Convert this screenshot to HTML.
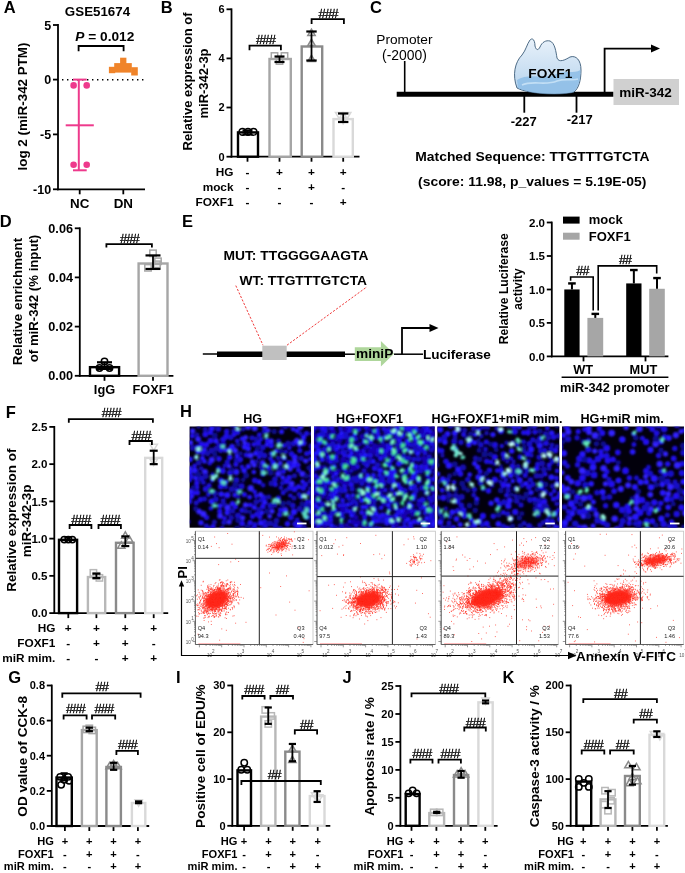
<!DOCTYPE html>
<html><head><meta charset="utf-8"><style>
html,body{margin:0;padding:0;background:#fff;}
svg{display:block;font-family:"Liberation Sans", Arial, sans-serif;font-weight:bold;}
</style></head><body>
<svg width="685" height="873" viewBox="0 0 685 873">
<rect width="685" height="873" fill="#fff"/>
<text x="3.7" y="12.7" font-size="16.5">A</text>
<text x="97.5" y="15.8" font-size="13" text-anchor="middle" textLength="65.3" lengthAdjust="spacingAndGlyphs">GSE51674</text>
<line x1="58" y1="24.1" x2="58" y2="190.2" stroke="#000" stroke-width="1.8" />
<line x1="53" y1="25" x2="58" y2="25" stroke="#000" stroke-width="1.8" />
<text x="51.2" y="29.5" font-size="12.5" text-anchor="end">5</text>
<line x1="53" y1="79.6" x2="58" y2="79.6" stroke="#000" stroke-width="1.8" />
<text x="51.2" y="84.1" font-size="12.5" text-anchor="end">0</text>
<line x1="53" y1="134.4" x2="58" y2="134.4" stroke="#000" stroke-width="1.8" />
<text x="51.2" y="138.9" font-size="12.5" text-anchor="end">-5</text>
<line x1="53" y1="189.3" x2="58" y2="189.3" stroke="#000" stroke-width="1.8" />
<text x="51.2" y="193.8" font-size="12.5" text-anchor="end">-10</text>
<line x1="57.1" y1="189.3" x2="145" y2="189.3" stroke="#000" stroke-width="1.8" />
<line x1="79.7" y1="189.3" x2="79.7" y2="194.3" stroke="#000" stroke-width="1.8" />
<line x1="123.3" y1="189.3" x2="123.3" y2="194.3" stroke="#000" stroke-width="1.8" />
<line x1="62" y1="79.8" x2="145" y2="79.8" stroke="#000" stroke-width="1.4" stroke-dasharray="1.4 3.6"/>
<text x="104.8" y="41.4" font-size="13.7" text-anchor="middle"><tspan font-style="italic">P</tspan> = 0.012</text>
<polyline points="78.6,51.2 78.6,46 123.6,46 123.6,51.2" stroke="#000" stroke-width="1.8" fill="none" />
<line x1="78.8" y1="79.6" x2="78.8" y2="170.3" stroke="#ee3a8c" stroke-width="2" />
<line x1="73" y1="79.6" x2="86.7" y2="79.6" stroke="#ee3a8c" stroke-width="2" />
<line x1="73" y1="170.3" x2="86.7" y2="170.3" stroke="#ee3a8c" stroke-width="2" />
<line x1="65.7" y1="125.3" x2="93.8" y2="125.3" stroke="#ee3a8c" stroke-width="2" />
<circle cx="73.6" cy="85.4" r="3.3" fill="#ee3a8c"/>
<circle cx="86.7" cy="85.4" r="3.3" fill="#ee3a8c"/>
<circle cx="73.6" cy="164.7" r="3.3" fill="#ee3a8c"/>
<circle cx="86.7" cy="164.7" r="3.3" fill="#ee3a8c"/>
<rect x="108.9" y="66.8" width="6.3" height="6.4" fill="#f0842a" />
<rect x="120.1" y="57.7" width="6.3" height="6.5" fill="#f0842a" />
<rect x="114.2" y="63.1" width="17.6" height="9.5" fill="#f0842a" />
<rect x="131.2" y="67.2" width="6.6" height="8.3" fill="#f0842a" />
<text x="79.7" y="208.4" font-size="13.4" text-anchor="middle">NC</text>
<text x="123.3" y="208.4" font-size="13.4" text-anchor="middle">DN</text>
<text transform="translate(27.2,106.5) rotate(-90)" font-size="13.4" text-anchor="middle">log 2 (miR-342 PTM)</text>
<text x="160.8" y="12.8" font-size="16.5">B</text>
<line x1="231.5" y1="8.4" x2="231.5" y2="157.6" stroke="#000" stroke-width="1.8" />
<line x1="226.5" y1="9.3" x2="231.5" y2="9.3" stroke="#000" stroke-width="1.8" />
<text x="224.7" y="13.26" font-size="11" text-anchor="end">6</text>
<line x1="226.5" y1="58.4" x2="231.5" y2="58.4" stroke="#000" stroke-width="1.8" />
<text x="224.7" y="62.36" font-size="11" text-anchor="end">4</text>
<line x1="226.5" y1="107.5" x2="231.5" y2="107.5" stroke="#000" stroke-width="1.8" />
<text x="224.7" y="111.46" font-size="11" text-anchor="end">2</text>
<line x1="226.5" y1="156.7" x2="231.5" y2="156.7" stroke="#000" stroke-width="1.8" />
<text x="224.7" y="160.66" font-size="11" text-anchor="end">0</text>
<line x1="230.6" y1="156.7" x2="359.5" y2="156.7" stroke="#000" stroke-width="1.8" />
<line x1="247.5" y1="156.7" x2="247.5" y2="161.7" stroke="#000" stroke-width="1.8" />
<line x1="279.5" y1="156.7" x2="279.5" y2="161.7" stroke="#000" stroke-width="1.8" />
<line x1="311.5" y1="156.7" x2="311.5" y2="161.7" stroke="#000" stroke-width="1.8" />
<line x1="343.2" y1="156.7" x2="343.2" y2="161.7" stroke="#000" stroke-width="1.8" />
<rect x="238" y="132.4" width="20" height="24.3" fill="#fff" stroke="#000" stroke-width="2.4" />
<rect x="269.5" y="59" width="21.3" height="97.7" fill="#fff" stroke="#a6a6a6" stroke-width="2.4" />
<rect x="301.7" y="46.5" width="20.5" height="110.2" fill="#fff" stroke="#8a8a8a" stroke-width="2.4" />
<rect x="333.5" y="119.1" width="19.3" height="37.6" fill="#fff" stroke="#d9d9d9" stroke-width="2.4" />
<circle cx="242.5" cy="131.8" r="3.4" fill="none" stroke="#000" stroke-width="1.5"/>
<circle cx="248" cy="131.8" r="3.4" fill="none" stroke="#000" stroke-width="1.5"/>
<circle cx="253.5" cy="131.8" r="3.4" fill="none" stroke="#000" stroke-width="1.5"/>
<rect x="271.3" y="52.8" width="6.4" height="6.4" fill="none" stroke="#a6a6a6" stroke-width="1.5" />
<rect x="281.3" y="52.8" width="6.4" height="6.4" fill="none" stroke="#a6a6a6" stroke-width="1.5" />
<rect x="276.3" y="57.8" width="6.4" height="6.4" fill="none" stroke="#a6a6a6" stroke-width="1.5" />
<polygon points="311.5,29.16 307.82,35.56 315.18,35.56" fill="none" stroke="#8a8a8a" stroke-width="1.5"/>
<polygon points="311.5,39.16 307.82,45.56 315.18,45.56" fill="none" stroke="#8a8a8a" stroke-width="1.5"/>
<polygon points="311.5,55.16 307.82,61.56 315.18,61.56" fill="none" stroke="#8a8a8a" stroke-width="1.5"/>
<polygon points="339.2,118.84 335.52,112.44 342.88,112.44" fill="none" stroke="#d9d9d9" stroke-width="1.5"/>
<polygon points="347.2,118.84 343.52,112.44 350.88,112.44" fill="none" stroke="#d9d9d9" stroke-width="1.5"/>
<polygon points="343.2,123.84 339.52,117.44 346.88,117.44" fill="none" stroke="#d9d9d9" stroke-width="1.5"/>
<line x1="279.5" y1="56.5" x2="279.5" y2="62" stroke="#000" stroke-width="1.8" />
<line x1="274.5" y1="56.5" x2="284.5" y2="56.5" stroke="#000" stroke-width="2.2" />
<line x1="274.5" y1="62" x2="284.5" y2="62" stroke="#000" stroke-width="2.2" />
<line x1="311.5" y1="31.5" x2="311.5" y2="60.5" stroke="#000" stroke-width="1.8" />
<line x1="306.3" y1="31.5" x2="316.7" y2="31.5" stroke="#000" stroke-width="2.2" />
<line x1="306.3" y1="60.5" x2="316.7" y2="60.5" stroke="#000" stroke-width="2.2" />
<line x1="343.2" y1="113.5" x2="343.2" y2="122" stroke="#000" stroke-width="1.8" />
<line x1="338" y1="113.5" x2="348.4" y2="113.5" stroke="#000" stroke-width="2.2" />
<line x1="338" y1="122" x2="348.4" y2="122" stroke="#000" stroke-width="2.2" />
<line x1="247.5" y1="130.5" x2="247.5" y2="134.5" stroke="#000" stroke-width="1.8" />
<line x1="242.5" y1="130.5" x2="252.5" y2="130.5" stroke="#000" stroke-width="2.2" />
<line x1="242.5" y1="134.5" x2="252.5" y2="134.5" stroke="#000" stroke-width="2.2" />
<polyline points="249.5,50.2 249.5,45.7 280.9,45.7 280.9,50.2" stroke="#000" stroke-width="1.8" fill="none" />
<text x="265.5" y="44" font-size="13" text-anchor="middle" font-weight="normal" letter-spacing="-0.9" stroke="#000" stroke-width="0.3">###</text>
<polyline points="311.6,23.9 311.6,19.2 343.9,19.2 343.9,23.9" stroke="#000" stroke-width="1.8" fill="none" />
<text x="328.05" y="18.4" font-size="13" text-anchor="middle" font-weight="normal" letter-spacing="-0.9" stroke="#000" stroke-width="0.3">###</text>
<text transform="translate(191.8,81.5) rotate(-90)" font-size="13" text-anchor="middle">Relative expression of</text>
<text transform="translate(208.4,83.5) rotate(-90)" font-size="13" text-anchor="middle">miR-342-3p</text>
<text x="233.5" y="175.8" font-size="11.8" text-anchor="end">HG</text>
<text x="247.5" y="175.8" font-size="11.8" text-anchor="middle">-</text>
<text x="279.5" y="175.8" font-size="11.8" text-anchor="middle">+</text>
<text x="311.5" y="175.8" font-size="11.8" text-anchor="middle">+</text>
<text x="343.2" y="175.8" font-size="11.8" text-anchor="middle">+</text>
<text x="233.5" y="191" font-size="11.8" text-anchor="end">mock</text>
<text x="247.5" y="191" font-size="11.8" text-anchor="middle">-</text>
<text x="279.5" y="191" font-size="11.8" text-anchor="middle">-</text>
<text x="311.5" y="191" font-size="11.8" text-anchor="middle">+</text>
<text x="343.2" y="191" font-size="11.8" text-anchor="middle">-</text>
<text x="233.5" y="206" font-size="11.8" text-anchor="end">FOXF1</text>
<text x="247.5" y="206" font-size="11.8" text-anchor="middle">-</text>
<text x="279.5" y="206" font-size="11.8" text-anchor="middle">-</text>
<text x="311.5" y="206" font-size="11.8" text-anchor="middle">-</text>
<text x="343.2" y="206" font-size="11.8" text-anchor="middle">+</text>
<text x="370" y="12.8" font-size="16.5">C</text>
<text x="404.4" y="43.6" font-size="13.7" text-anchor="middle" font-weight="normal">Promoter</text>
<text x="404.5" y="59.6" font-size="13.9" text-anchor="middle" font-weight="normal">(-2000)</text>
<line x1="404.7" y1="61" x2="404.7" y2="94" stroke="#000" stroke-width="1.6" />
<line x1="396.7" y1="94.3" x2="613.5" y2="94.3" stroke="#000" stroke-width="5" />
<line x1="524.3" y1="94" x2="524.3" y2="112.7" stroke="#000" stroke-width="1.8" />
<line x1="576.5" y1="94" x2="576.5" y2="112.7" stroke="#000" stroke-width="1.8" />
<text x="523.8" y="126.3" font-size="13" text-anchor="middle">-227</text>
<text x="579.7" y="123.6" font-size="13" text-anchor="middle">-217</text>
<polyline points="604.6,94 604.6,48.6 652,48.6" stroke="#000" stroke-width="1.8" fill="none" />
<polygon points="660,48.6 651,44.6 651,52.6" fill="#000"/>
<rect x="613.5" y="79" width="65.5" height="26" fill="#d0d0d0" />
<text x="645.5" y="97" font-size="13.5" text-anchor="middle" textLength="52.6" lengthAdjust="spacingAndGlyphs">miR-342</text>
<defs><linearGradient id="bg" x1="0" y1="0" x2="0" y2="1"><stop offset="0" stop-color="#e8f1fa"/><stop offset="1" stop-color="#b4d2ec"/></linearGradient></defs>
<path d="M517,88 C512,75 515,62 522,55 C526,50 527,44 530,40 C533,37 535,41 535,46 C536,50 538,51 540,47 C542,42 546,40 550,41 C555,43 556,52 557,58 C559,63 565,60 570,57 C576,55 581,60 581,70 C581,80 579,88 574,92 C565,95 530,95 517,88 Z" fill="url(#bg)" stroke="#3b5b78" stroke-width="0.9"/>
<path d="M517,80 C528,72 545,80 556,74 C566,70 573,74 580.5,70 C580.5,82 577,90 572,92.5 C555,95 530,94 518,88 Z" fill="#8dbde6" opacity="0.85"/>
<path d="M522,85 C532,80 546,86 557,81 C566,78 572,81 578,79" fill="none" stroke="#c8e2f6" stroke-width="1.6" opacity="0.9"/>
<text x="550.3" y="77.6" font-size="13.3" text-anchor="middle" textLength="44" lengthAdjust="spacingAndGlyphs">FOXF1</text>
<text x="532.4" y="161" font-size="12.8" text-anchor="middle" textLength="234.3" lengthAdjust="spacingAndGlyphs">Matched Sequence: TTGTTTGTCTA</text>
<text x="532.2" y="185.7" font-size="12.8" text-anchor="middle" textLength="228.3" lengthAdjust="spacingAndGlyphs">(score: 11.98, p_values = 5.19E-05)</text>
<text x="-0.3" y="226.7" font-size="16.5">D</text>
<line x1="79.8" y1="227.4" x2="79.8" y2="376.7" stroke="#000" stroke-width="1.8" />
<line x1="74.8" y1="228.3" x2="79.8" y2="228.3" stroke="#000" stroke-width="1.8" />
<text x="73" y="232.87" font-size="12.7" text-anchor="end">0.06</text>
<line x1="74.8" y1="277.4" x2="79.8" y2="277.4" stroke="#000" stroke-width="1.8" />
<text x="73" y="281.97" font-size="12.7" text-anchor="end">0.04</text>
<line x1="74.8" y1="326.6" x2="79.8" y2="326.6" stroke="#000" stroke-width="1.8" />
<text x="73" y="331.17" font-size="12.7" text-anchor="end">0.02</text>
<line x1="74.8" y1="375.8" x2="79.8" y2="375.8" stroke="#000" stroke-width="1.8" />
<text x="73" y="380.37" font-size="12.7" text-anchor="end">0.00</text>
<line x1="78.9" y1="375.8" x2="173.4" y2="375.8" stroke="#000" stroke-width="1.8" />
<line x1="104.5" y1="375.8" x2="104.5" y2="380.8" stroke="#000" stroke-width="1.8" />
<line x1="153" y1="375.8" x2="153" y2="380.8" stroke="#000" stroke-width="1.8" />
<rect x="90" y="367.17" width="29.1" height="8.63" fill="#fff" stroke="#000" stroke-width="2.4" />
<rect x="138.6" y="263.5" width="28.9" height="112.3" fill="#fff" stroke="#a6a6a6" stroke-width="2.4" />
<circle cx="99.5" cy="367.97" r="3.2" fill="none" stroke="#000" stroke-width="1.5"/>
<circle cx="109.5" cy="367.97" r="3.2" fill="none" stroke="#000" stroke-width="1.5"/>
<circle cx="104.5" cy="361.55" r="3.2" fill="none" stroke="#000" stroke-width="1.5"/>
<line x1="104.5" y1="362.29" x2="104.5" y2="368.92" stroke="#000" stroke-width="1.8" />
<line x1="97" y1="362.29" x2="112" y2="362.29" stroke="#000" stroke-width="2.2" />
<line x1="97" y1="368.92" x2="112" y2="368.92" stroke="#000" stroke-width="2.2" />
<rect x="149.8" y="250.1" width="6.4" height="6.4" fill="none" stroke="#a6a6a6" stroke-width="1.5" />
<rect x="154.8" y="258.1" width="6.4" height="6.4" fill="none" stroke="#a6a6a6" stroke-width="1.5" />
<rect x="144.8" y="264.6" width="6.4" height="6.4" fill="none" stroke="#a6a6a6" stroke-width="1.5" />
<rect x="153.8" y="261.1" width="6.4" height="6.4" fill="none" stroke="#a6a6a6" stroke-width="1.5" />
<line x1="153" y1="255.42" x2="153" y2="268.94" stroke="#000" stroke-width="1.8" />
<line x1="145.5" y1="255.42" x2="160.5" y2="255.42" stroke="#000" stroke-width="2.2" />
<line x1="145.5" y1="268.94" x2="160.5" y2="268.94" stroke="#000" stroke-width="2.2" />
<polyline points="106.4,247.6 106.4,244.1 151.9,244.1 151.9,247.6" stroke="#000" stroke-width="1.8" fill="none" />
<text x="129.45" y="242.6" font-size="13" text-anchor="middle" font-weight="normal" letter-spacing="-0.9" stroke="#000" stroke-width="0.3">###</text>
<text transform="translate(21.6,301.5) rotate(-90)" font-size="13.4" text-anchor="middle">Relative enrichment</text>
<text transform="translate(37.6,298.5) rotate(-90)" font-size="13.2" text-anchor="middle">of miR-342 (% input)</text>
<text x="104.5" y="394.4" font-size="12.8" text-anchor="middle">IgG</text>
<text x="153" y="394.4" font-size="12.8" text-anchor="middle">FOXF1</text>
<text x="182" y="226.9" font-size="16.5">E</text>
<text x="223.4" y="260.1" font-size="13.5" textLength="145" lengthAdjust="spacingAndGlyphs">MUT: TTGGGGAAGTA</text>
<text x="239.5" y="284.9" font-size="13.5" textLength="127.5" lengthAdjust="spacingAndGlyphs">WT: TTGTTTGTCTA</text>
<line x1="202.8" y1="354" x2="217.2" y2="354" stroke="#000" stroke-width="1.5" />
<line x1="217" y1="354.2" x2="345" y2="354.2" stroke="#000" stroke-width="5.5" />
<rect x="262.3" y="345.7" width="24.4" height="14.3" fill="#c0c0c0" />
<line x1="235.8" y1="285.6" x2="263" y2="345.2" stroke="#f03a3a" stroke-width="1" stroke-dasharray="2.2 1.6"/>
<line x1="287" y1="345.2" x2="367" y2="286.8" stroke="#f03a3a" stroke-width="1" stroke-dasharray="2.2 1.6"/>
<line x1="345" y1="354.2" x2="355" y2="354.2" stroke="#000" stroke-width="1.5" />
<polygon points="354.8,347.2 380.9,347.2 380.9,341 394,353.8 380.9,366.6 380.9,360.9 354.8,360.9" fill="#aed69b"/>
<text x="356" y="357.8" font-size="13.5" textLength="37.3" lengthAdjust="spacingAndGlyphs">miniP</text>
<line x1="394" y1="354.2" x2="423" y2="354.2" stroke="#000" stroke-width="1.5" />
<polyline points="402,354.2 402,328 430,328" stroke="#000" stroke-width="1.8" fill="none" />
<polygon points="438.5,328 429.5,324 429.5,332" fill="#000"/>
<text x="423" y="358.9" font-size="13.3" textLength="67.8" lengthAdjust="spacingAndGlyphs">Luciferase</text>
<line x1="551.8" y1="221.6" x2="551.8" y2="357.3" stroke="#000" stroke-width="1.8" />
<line x1="546.8" y1="222.5" x2="551.8" y2="222.5" stroke="#000" stroke-width="1.8" />
<text x="545" y="226.64" font-size="11.5" text-anchor="end">2.0</text>
<line x1="546.8" y1="256" x2="551.8" y2="256" stroke="#000" stroke-width="1.8" />
<text x="545" y="260.14" font-size="11.5" text-anchor="end">1.5</text>
<line x1="546.8" y1="289.5" x2="551.8" y2="289.5" stroke="#000" stroke-width="1.8" />
<text x="545" y="293.64" font-size="11.5" text-anchor="end">1.0</text>
<line x1="546.8" y1="322.9" x2="551.8" y2="322.9" stroke="#000" stroke-width="1.8" />
<text x="545" y="327.04" font-size="11.5" text-anchor="end">0.5</text>
<line x1="546.8" y1="356.4" x2="551.8" y2="356.4" stroke="#000" stroke-width="1.8" />
<text x="545" y="360.54" font-size="11.5" text-anchor="end">0.0</text>
<line x1="550.9" y1="356.4" x2="668.4" y2="356.4" stroke="#000" stroke-width="1.8" />
<line x1="583.5" y1="356.4" x2="583.5" y2="361.4" stroke="#000" stroke-width="1.8" />
<line x1="645.5" y1="356.4" x2="645.5" y2="361.4" stroke="#000" stroke-width="1.8" />
<rect x="563" y="216.6" width="16.6" height="7" fill="#000" />
<text x="588.8" y="224.4" font-size="13">mock</text>
<rect x="563" y="232.7" width="16.6" height="7" fill="#a6a6a6" />
<text x="588.8" y="240.5" font-size="13">FOXF1</text>
<rect x="564.3" y="289.45" width="15.3" height="66.95" fill="#000" />
<line x1="571.95" y1="289.45" x2="571.95" y2="283.42" stroke="#000" stroke-width="2" />
<line x1="568.15" y1="283.42" x2="575.75" y2="283.42" stroke="#000" stroke-width="2.4" />
<rect x="587.4" y="317.9" width="15.8" height="38.5" fill="#a6a6a6" />
<line x1="595.3" y1="317.9" x2="595.3" y2="313.89" stroke="#000" stroke-width="2" />
<line x1="591.5" y1="313.89" x2="599.1" y2="313.89" stroke="#000" stroke-width="2.4" />
<rect x="626.2" y="283.42" width="15.3" height="72.98" fill="#000" />
<line x1="633.85" y1="283.42" x2="633.85" y2="270.03" stroke="#000" stroke-width="2" />
<line x1="630.05" y1="270.03" x2="637.65" y2="270.03" stroke="#000" stroke-width="2.4" />
<rect x="649.2" y="288.78" width="15.6" height="67.62" fill="#a6a6a6" />
<line x1="657" y1="288.78" x2="657" y2="278.07" stroke="#000" stroke-width="2" />
<line x1="653.2" y1="278.07" x2="660.8" y2="278.07" stroke="#000" stroke-width="2.4" />
<polyline points="570.6,280.8 570.6,277 593.2,277 593.2,310.5" stroke="#000" stroke-width="1.6" fill="none" />
<text x="582.4" y="274.8" font-size="12.5" text-anchor="middle" font-weight="normal" letter-spacing="-0.9" stroke="#000" stroke-width="0.3">##</text>
<polyline points="598.2,310.5 598.2,265.9 656.7,265.9 656.7,273.5" stroke="#000" stroke-width="1.6" fill="none" />
<text x="625" y="264" font-size="12.5" text-anchor="middle" font-weight="normal" letter-spacing="-0.9" stroke="#000" stroke-width="0.3">##</text>
<text x="583.2" y="374.2" font-size="12.8" text-anchor="middle">WT</text>
<text x="643.4" y="374.2" font-size="12.8" text-anchor="middle">MUT</text>
<line x1="561.6" y1="377.3" x2="668.4" y2="377.3" stroke="#000" stroke-width="1.6" />
<text x="614.8" y="392" font-size="12.8" text-anchor="middle">miR-342 promoter</text>
<text transform="translate(507.5,288.7) rotate(-90)" font-size="12.2" text-anchor="middle">Relative Luciferase</text>
<text transform="translate(522.3,289) rotate(-90)" font-size="12" text-anchor="middle">activity</text>
<text x="5.7" y="417.8" font-size="16.5">F</text>
<line x1="54.3" y1="426" x2="54.3" y2="614" stroke="#000" stroke-width="1.8" />
<line x1="49.3" y1="426.9" x2="54.3" y2="426.9" stroke="#000" stroke-width="1.8" />
<text x="47.5" y="431.08" font-size="11.6" text-anchor="end">2.5</text>
<line x1="49.3" y1="464.14" x2="54.3" y2="464.14" stroke="#000" stroke-width="1.8" />
<text x="47.5" y="468.32" font-size="11.6" text-anchor="end">2.0</text>
<line x1="49.3" y1="501.38" x2="54.3" y2="501.38" stroke="#000" stroke-width="1.8" />
<text x="47.5" y="505.56" font-size="11.6" text-anchor="end">1.5</text>
<line x1="49.3" y1="538.62" x2="54.3" y2="538.62" stroke="#000" stroke-width="1.8" />
<text x="47.5" y="542.8" font-size="11.6" text-anchor="end">1.0</text>
<line x1="49.3" y1="575.86" x2="54.3" y2="575.86" stroke="#000" stroke-width="1.8" />
<text x="47.5" y="580.04" font-size="11.6" text-anchor="end">0.5</text>
<line x1="49.3" y1="613.1" x2="54.3" y2="613.1" stroke="#000" stroke-width="1.8" />
<text x="47.5" y="617.28" font-size="11.6" text-anchor="end">0.0</text>
<line x1="53.4" y1="613.1" x2="168.2" y2="613.1" stroke="#000" stroke-width="1.8" />
<line x1="68.3" y1="613.1" x2="68.3" y2="618.1" stroke="#000" stroke-width="1.8" />
<line x1="96.4" y1="613.1" x2="96.4" y2="618.1" stroke="#000" stroke-width="1.8" />
<line x1="125.3" y1="613.1" x2="125.3" y2="618.1" stroke="#000" stroke-width="1.8" />
<line x1="153.7" y1="613.1" x2="153.7" y2="618.1" stroke="#000" stroke-width="1.8" />
<rect x="59" y="539.82" width="18.1" height="73.28" fill="#fff" stroke="#000" stroke-width="2.4" />
<rect x="87.9" y="577.06" width="17.3" height="36.04" fill="#fff" stroke="#b8b8b8" stroke-width="2.4" />
<rect x="116" y="542.8" width="17.6" height="70.3" fill="#fff" stroke="#8a8a8a" stroke-width="2.4" />
<rect x="145.2" y="457.89" width="17" height="155.21" fill="#fff" stroke="#d9d9d9" stroke-width="2.4" />
<circle cx="64.3" cy="539.62" r="3.2" fill="none" stroke="#000" stroke-width="1.5"/>
<circle cx="68.3" cy="539.62" r="3.2" fill="none" stroke="#000" stroke-width="1.5"/>
<circle cx="72.3" cy="539.62" r="3.2" fill="none" stroke="#000" stroke-width="1.5"/>
<rect x="90.2" y="569.66" width="6.4" height="6.4" fill="none" stroke="#b8b8b8" stroke-width="1.5" />
<rect x="96.2" y="574.66" width="6.4" height="6.4" fill="none" stroke="#b8b8b8" stroke-width="1.5" />
<rect x="93.2" y="572.66" width="6.4" height="6.4" fill="none" stroke="#b8b8b8" stroke-width="1.5" />
<polygon points="121.3,541.76 117.62,548.16 124.98,548.16" fill="none" stroke="#8a8a8a" stroke-width="1.5"/>
<polygon points="129.3,535.76 125.62,542.16 132.98,542.16" fill="none" stroke="#8a8a8a" stroke-width="1.5"/>
<polygon points="125.3,531.76 121.62,538.16 128.98,538.16" fill="none" stroke="#8a8a8a" stroke-width="1.5"/>
<polygon points="153.7,450.53 150.02,444.13 157.38,444.13" fill="none" stroke="#d9d9d9" stroke-width="1.5"/>
<polygon points="153.7,465.53 150.02,459.13 157.38,459.13" fill="none" stroke="#d9d9d9" stroke-width="1.5"/>
<line x1="96.4" y1="573.63" x2="96.4" y2="578.09" stroke="#000" stroke-width="1.8" />
<line x1="92.4" y1="573.63" x2="100.4" y2="573.63" stroke="#000" stroke-width="2.2" />
<line x1="92.4" y1="578.09" x2="100.4" y2="578.09" stroke="#000" stroke-width="2.2" />
<line x1="125.3" y1="536.39" x2="125.3" y2="546.07" stroke="#000" stroke-width="1.8" />
<line x1="121.3" y1="536.39" x2="129.3" y2="536.39" stroke="#000" stroke-width="2.2" />
<line x1="121.3" y1="546.07" x2="129.3" y2="546.07" stroke="#000" stroke-width="2.2" />
<line x1="153.7" y1="450.73" x2="153.7" y2="464.14" stroke="#000" stroke-width="1.8" />
<line x1="149.7" y1="450.73" x2="157.7" y2="450.73" stroke="#000" stroke-width="2.2" />
<line x1="149.7" y1="464.14" x2="157.7" y2="464.14" stroke="#000" stroke-width="2.2" />
<line x1="68.3" y1="537.13" x2="68.3" y2="540.11" stroke="#000" stroke-width="1.8" />
<line x1="64.3" y1="537.13" x2="72.3" y2="537.13" stroke="#000" stroke-width="2.2" />
<line x1="64.3" y1="540.11" x2="72.3" y2="540.11" stroke="#000" stroke-width="2.2" />
<polyline points="68.8,422.8 68.8,419.2 152.9,419.2 152.9,422.8" stroke="#000" stroke-width="1.8" fill="none" />
<text x="111.15" y="416.7" font-size="13" text-anchor="middle" font-weight="normal" letter-spacing="-0.9" stroke="#000" stroke-width="0.3">###</text>
<polyline points="129.5,445 129.5,441 151.9,441 151.9,445" stroke="#000" stroke-width="1.8" fill="none" />
<text x="141" y="440" font-size="13" text-anchor="middle" font-weight="normal" letter-spacing="-0.9" stroke="#000" stroke-width="0.3">###</text>
<polyline points="69.6,529 69.6,525 91.4,525 91.4,529" stroke="#000" stroke-width="1.8" fill="none" />
<text x="80.8" y="524" font-size="13" text-anchor="middle" font-weight="normal" letter-spacing="-0.9" stroke="#000" stroke-width="0.3">###</text>
<polyline points="98.5,529 98.5,525 120.9,525 120.9,529" stroke="#000" stroke-width="1.8" fill="none" />
<text x="110" y="524" font-size="13" text-anchor="middle" font-weight="normal" letter-spacing="-0.9" stroke="#000" stroke-width="0.3">###</text>
<text transform="translate(16,520.1) rotate(-90)" font-size="13.5" text-anchor="middle">Relative expression of</text>
<text transform="translate(31.1,520.8) rotate(-90)" font-size="13.5" text-anchor="middle">miR-342-3p</text>
<text x="55.4" y="631.5" font-size="11.8" text-anchor="end">HG</text>
<text x="68.3" y="631.5" font-size="11.8" text-anchor="middle">+</text>
<text x="96.4" y="631.5" font-size="11.8" text-anchor="middle">+</text>
<text x="125.3" y="631.5" font-size="11.8" text-anchor="middle">+</text>
<text x="153.7" y="631.5" font-size="11.8" text-anchor="middle">+</text>
<text x="55.4" y="647" font-size="11.8" text-anchor="end">FOXF1</text>
<text x="68.3" y="647" font-size="11.8" text-anchor="middle">-</text>
<text x="96.4" y="647" font-size="11.8" text-anchor="middle">+</text>
<text x="125.3" y="647" font-size="11.8" text-anchor="middle">+</text>
<text x="153.7" y="647" font-size="11.8" text-anchor="middle">-</text>
<text x="55.4" y="662.3" font-size="11.8" text-anchor="end">miR mim.</text>
<text x="68.3" y="662.3" font-size="11.8" text-anchor="middle">-</text>
<text x="96.4" y="662.3" font-size="11.8" text-anchor="middle">-</text>
<text x="125.3" y="662.3" font-size="11.8" text-anchor="middle">+</text>
<text x="153.7" y="662.3" font-size="11.8" text-anchor="middle">+</text>
<text x="8.3" y="682.8" font-size="16.5">G</text>
<line x1="51.8" y1="684.6" x2="51.8" y2="826.9" stroke="#000" stroke-width="1.8" />
<line x1="46.8" y1="685.5" x2="51.8" y2="685.5" stroke="#000" stroke-width="1.8" />
<text x="45" y="689.46" font-size="11" text-anchor="end">0.8</text>
<line x1="46.8" y1="720.6" x2="51.8" y2="720.6" stroke="#000" stroke-width="1.8" />
<text x="45" y="724.56" font-size="11" text-anchor="end">0.6</text>
<line x1="46.8" y1="755.7" x2="51.8" y2="755.7" stroke="#000" stroke-width="1.8" />
<text x="45" y="759.66" font-size="11" text-anchor="end">0.4</text>
<line x1="46.8" y1="790.9" x2="51.8" y2="790.9" stroke="#000" stroke-width="1.8" />
<text x="45" y="794.86" font-size="11" text-anchor="end">0.2</text>
<line x1="46.8" y1="826" x2="51.8" y2="826" stroke="#000" stroke-width="1.8" />
<text x="45" y="829.96" font-size="11" text-anchor="end">0.0</text>
<line x1="50.9" y1="826" x2="149.2" y2="826" stroke="#000" stroke-width="1.8" />
<line x1="64.9" y1="826" x2="64.9" y2="831" stroke="#000" stroke-width="1.8" />
<line x1="89.3" y1="826" x2="89.3" y2="831" stroke="#000" stroke-width="1.8" />
<line x1="113.5" y1="826" x2="113.5" y2="831" stroke="#000" stroke-width="1.8" />
<line x1="137.9" y1="826" x2="137.9" y2="831" stroke="#000" stroke-width="1.8" />
<rect x="56.5" y="777.53" width="15.3" height="48.47" fill="#fff" stroke="#000" stroke-width="2.4" />
<circle cx="60.15" cy="776.83" r="3.2" fill="none" stroke="#000" stroke-width="1.5"/>
<circle cx="68.15" cy="776.83" r="3.2" fill="none" stroke="#000" stroke-width="1.5"/>
<circle cx="64.15" cy="779.83" r="3.2" fill="none" stroke="#000" stroke-width="1.5"/>
<circle cx="61.15" cy="784.83" r="3.2" fill="none" stroke="#000" stroke-width="1.5"/>
<circle cx="69.15" cy="780.83" r="3.2" fill="none" stroke="#000" stroke-width="1.5"/>
<line x1="64.15" y1="773.31" x2="64.15" y2="780.34" stroke="#000" stroke-width="1.8" />
<line x1="60.55" y1="773.31" x2="67.75" y2="773.31" stroke="#000" stroke-width="2.2" />
<line x1="60.55" y1="780.34" x2="67.75" y2="780.34" stroke="#000" stroke-width="2.2" />
<rect x="81.9" y="730.11" width="14.8" height="95.89" fill="#fff" stroke="#a6a6a6" stroke-width="2.4" />
<rect x="83.1" y="726.21" width="6.4" height="6.4" fill="none" stroke="#a6a6a6" stroke-width="1.5" />
<rect x="89.1" y="727.21" width="6.4" height="6.4" fill="none" stroke="#a6a6a6" stroke-width="1.5" />
<rect x="86.1" y="725.21" width="6.4" height="6.4" fill="none" stroke="#a6a6a6" stroke-width="1.5" />
<line x1="89.3" y1="727.65" x2="89.3" y2="731.16" stroke="#000" stroke-width="1.8" />
<line x1="85.7" y1="727.65" x2="92.9" y2="727.65" stroke="#000" stroke-width="2.2" />
<line x1="85.7" y1="731.16" x2="92.9" y2="731.16" stroke="#000" stroke-width="2.2" />
<rect x="106.4" y="766.99" width="14.5" height="59.01" fill="#fff" stroke="#8a8a8a" stroke-width="2.4" />
<polygon points="109.65,762.45 105.97,768.85 113.33,768.85" fill="none" stroke="#8a8a8a" stroke-width="1.5"/>
<polygon points="117.65,762.45 113.97,768.85 121.33,768.85" fill="none" stroke="#8a8a8a" stroke-width="1.5"/>
<polygon points="113.65,760.45 109.97,766.85 117.33,766.85" fill="none" stroke="#8a8a8a" stroke-width="1.5"/>
<line x1="113.65" y1="762.77" x2="113.65" y2="769.8" stroke="#000" stroke-width="1.8" />
<line x1="110.05" y1="762.77" x2="117.25" y2="762.77" stroke="#000" stroke-width="2.2" />
<line x1="110.05" y1="769.8" x2="117.25" y2="769.8" stroke="#000" stroke-width="2.2" />
<rect x="131.9" y="802.99" width="13.4" height="23.01" fill="#fff" stroke="#d9d9d9" stroke-width="2.4" />
<polygon points="138.6,806.13 134.92,799.73 142.28,799.73" fill="none" stroke="#d9d9d9" stroke-width="1.5"/>
<line x1="138.6" y1="801.41" x2="138.6" y2="803.17" stroke="#000" stroke-width="1.8" />
<line x1="135" y1="801.41" x2="142.2" y2="801.41" stroke="#000" stroke-width="2.2" />
<line x1="135" y1="803.17" x2="142.2" y2="803.17" stroke="#000" stroke-width="2.2" />
<polyline points="62.3,697.8 62.3,693.4 140.6,693.4 140.6,697.8" stroke="#000" stroke-width="1.8" fill="none" />
<text x="101.75" y="691" font-size="13" text-anchor="middle" font-weight="normal" letter-spacing="-0.9" stroke="#000" stroke-width="0.3">##</text>
<polyline points="63.6,719.6 63.6,715.3 86.6,715.3 86.6,719.6" stroke="#000" stroke-width="1.8" fill="none" />
<text x="75.4" y="713.3" font-size="13" text-anchor="middle" font-weight="normal" letter-spacing="-0.9" stroke="#000" stroke-width="0.3">###</text>
<polyline points="92,719.6 92,715.3 115.2,715.3 115.2,719.6" stroke="#000" stroke-width="1.8" fill="none" />
<text x="103.9" y="713.3" font-size="13" text-anchor="middle" font-weight="normal" letter-spacing="-0.9" stroke="#000" stroke-width="0.3">###</text>
<polyline points="116.4,755.1 116.4,750.9 137.9,750.9 137.9,755.1" stroke="#000" stroke-width="1.8" fill="none" />
<text x="127.45" y="749.4" font-size="13" text-anchor="middle" font-weight="normal" letter-spacing="-0.9" stroke="#000" stroke-width="0.3">###</text>
<text transform="translate(26.7,756.25) rotate(-90)" font-size="13.6" text-anchor="middle">OD value of CCK-8</text>
<text x="53.8" y="844.5" font-size="11.1" text-anchor="end">HG</text>
<text x="64.9" y="844.5" font-size="11.1" text-anchor="middle">+</text>
<text x="89.3" y="844.5" font-size="11.1" text-anchor="middle">+</text>
<text x="113.5" y="844.5" font-size="11.1" text-anchor="middle">+</text>
<text x="137.9" y="844.5" font-size="11.1" text-anchor="middle">+</text>
<text x="53.8" y="857.6" font-size="11.1" text-anchor="end">FOXF1</text>
<text x="64.9" y="857.6" font-size="11.1" text-anchor="middle">-</text>
<text x="89.3" y="857.6" font-size="11.1" text-anchor="middle">+</text>
<text x="113.5" y="857.6" font-size="11.1" text-anchor="middle">+</text>
<text x="137.9" y="857.6" font-size="11.1" text-anchor="middle">-</text>
<text x="53.8" y="870.3" font-size="11.1" text-anchor="end">miR mim.</text>
<text x="64.9" y="870.3" font-size="11.1" text-anchor="middle">-</text>
<text x="89.3" y="870.3" font-size="11.1" text-anchor="middle">-</text>
<text x="113.5" y="870.3" font-size="11.1" text-anchor="middle">+</text>
<text x="137.9" y="870.3" font-size="11.1" text-anchor="middle">+</text>
<text x="176" y="682.8" font-size="16.5">I</text>
<line x1="232.3" y1="684.6" x2="232.3" y2="826.7" stroke="#000" stroke-width="1.8" />
<line x1="227.3" y1="685.5" x2="232.3" y2="685.5" stroke="#000" stroke-width="1.8" />
<text x="225.5" y="689.46" font-size="11" text-anchor="end">30</text>
<line x1="227.3" y1="732.3" x2="232.3" y2="732.3" stroke="#000" stroke-width="1.8" />
<text x="225.5" y="736.26" font-size="11" text-anchor="end">20</text>
<line x1="227.3" y1="779.1" x2="232.3" y2="779.1" stroke="#000" stroke-width="1.8" />
<text x="225.5" y="783.06" font-size="11" text-anchor="end">10</text>
<line x1="227.3" y1="825.8" x2="232.3" y2="825.8" stroke="#000" stroke-width="1.8" />
<text x="225.5" y="829.76" font-size="11" text-anchor="end">0</text>
<line x1="231.4" y1="825.8" x2="330.3" y2="825.8" stroke="#000" stroke-width="1.8" />
<line x1="244.1" y1="825.8" x2="244.1" y2="830.8" stroke="#000" stroke-width="1.8" />
<line x1="268.5" y1="825.8" x2="268.5" y2="830.8" stroke="#000" stroke-width="1.8" />
<line x1="292.7" y1="825.8" x2="292.7" y2="830.8" stroke="#000" stroke-width="1.8" />
<line x1="317.7" y1="825.8" x2="317.7" y2="830.8" stroke="#000" stroke-width="1.8" />
<rect x="237.5" y="770.38" width="13.5" height="55.42" fill="#fff" stroke="#000" stroke-width="2.4" />
<circle cx="241.25" cy="769.68" r="3.2" fill="none" stroke="#000" stroke-width="1.5"/>
<circle cx="247.25" cy="769.68" r="3.2" fill="none" stroke="#000" stroke-width="1.5"/>
<circle cx="244.25" cy="762.68" r="3.2" fill="none" stroke="#000" stroke-width="1.5"/>
<rect x="261.1" y="716.6" width="14.3" height="109.2" fill="#fff" stroke="#b8b8b8" stroke-width="2.4" />
<rect x="262.05" y="706.7" width="6.4" height="6.4" fill="none" stroke="#b8b8b8" stroke-width="1.5" />
<rect x="268.05" y="712.7" width="6.4" height="6.4" fill="none" stroke="#b8b8b8" stroke-width="1.5" />
<rect x="265.05" y="720.7" width="6.4" height="6.4" fill="none" stroke="#b8b8b8" stroke-width="1.5" />
<line x1="268.25" y1="707.48" x2="268.25" y2="723.85" stroke="#000" stroke-width="1.8" />
<line x1="264.65" y1="707.48" x2="271.85" y2="707.48" stroke="#000" stroke-width="2.2" />
<line x1="264.65" y1="723.85" x2="271.85" y2="723.85" stroke="#000" stroke-width="2.2" />
<rect x="285.3" y="751.67" width="14.2" height="74.13" fill="#fff" stroke="#8a8a8a" stroke-width="2.4" />
<polygon points="292.4,745.13 288.72,751.53 296.08,751.53" fill="none" stroke="#8a8a8a" stroke-width="1.5"/>
<polygon points="292.4,756.13 288.72,762.53 296.08,762.53" fill="none" stroke="#8a8a8a" stroke-width="1.5"/>
<line x1="292.4" y1="743.96" x2="292.4" y2="761.26" stroke="#000" stroke-width="1.8" />
<line x1="288.8" y1="743.96" x2="296" y2="743.96" stroke="#000" stroke-width="2.2" />
<line x1="288.8" y1="761.26" x2="296" y2="761.26" stroke="#000" stroke-width="2.2" />
<rect x="309.8" y="796.1" width="14.7" height="29.7" fill="#fff" stroke="#d9d9d9" stroke-width="2.4" />
<polygon points="315.15,799.24 311.47,792.84 318.83,792.84" fill="none" stroke="#d9d9d9" stroke-width="1.5"/>
<polygon points="319.15,801.24 315.47,794.84 322.83,794.84" fill="none" stroke="#d9d9d9" stroke-width="1.5"/>
<line x1="317.15" y1="791.19" x2="317.15" y2="801.95" stroke="#000" stroke-width="1.8" />
<line x1="313.55" y1="791.19" x2="320.75" y2="791.19" stroke="#000" stroke-width="2.2" />
<line x1="313.55" y1="801.95" x2="320.75" y2="801.95" stroke="#000" stroke-width="2.2" />
<polyline points="242.3,699.5 242.3,696 264.6,696 264.6,699.5" stroke="#000" stroke-width="1.8" fill="none" />
<text x="253.75" y="694.4" font-size="13" text-anchor="middle" font-weight="normal" letter-spacing="-0.9" stroke="#000" stroke-width="0.3">###</text>
<polyline points="270.4,699.5 270.4,696 293,696 293,699.5" stroke="#000" stroke-width="1.8" fill="none" />
<text x="282" y="694.4" font-size="13" text-anchor="middle" font-weight="normal" letter-spacing="-0.9" stroke="#000" stroke-width="0.3">##</text>
<polyline points="294.8,734.6 294.8,730.2 317.1,730.2 317.1,734.6" stroke="#000" stroke-width="1.8" fill="none" />
<text x="306.25" y="728.6" font-size="13" text-anchor="middle" font-weight="normal" letter-spacing="-0.9" stroke="#000" stroke-width="0.3">##</text>
<polyline points="241.4,784.9 241.4,781 320.8,781 320.8,784.9" stroke="#000" stroke-width="1.8" fill="none" />
<text x="274.2" y="778.8" font-size="13" text-anchor="middle" font-weight="normal" letter-spacing="-0.9" stroke="#000" stroke-width="0.3">##</text>
<text transform="translate(204.9,756.15) rotate(-90)" font-size="13.6" text-anchor="middle">Positive cell of EDU/%</text>
<text x="237.5" y="844.5" font-size="11.1" text-anchor="end">HG</text>
<text x="244.1" y="844.5" font-size="11.1" text-anchor="middle">+</text>
<text x="268.5" y="844.5" font-size="11.1" text-anchor="middle">+</text>
<text x="292.7" y="844.5" font-size="11.1" text-anchor="middle">+</text>
<text x="317.7" y="844.5" font-size="11.1" text-anchor="middle">+</text>
<text x="237.5" y="857.6" font-size="11.1" text-anchor="end">FOXF1</text>
<text x="244.1" y="857.6" font-size="11.1" text-anchor="middle">-</text>
<text x="268.5" y="857.6" font-size="11.1" text-anchor="middle">+</text>
<text x="292.7" y="857.6" font-size="11.1" text-anchor="middle">+</text>
<text x="317.7" y="857.6" font-size="11.1" text-anchor="middle">-</text>
<text x="237.5" y="870.3" font-size="11.1" text-anchor="end">miR mim.</text>
<text x="244.1" y="870.3" font-size="11.1" text-anchor="middle">-</text>
<text x="268.5" y="870.3" font-size="11.1" text-anchor="middle">-</text>
<text x="292.7" y="870.3" font-size="11.1" text-anchor="middle">+</text>
<text x="317.7" y="870.3" font-size="11.1" text-anchor="middle">+</text>
<text x="342.5" y="682.8" font-size="16.5">J</text>
<line x1="400.4" y1="685.1" x2="400.4" y2="826.7" stroke="#000" stroke-width="1.8" />
<line x1="395.4" y1="686" x2="400.4" y2="686" stroke="#000" stroke-width="1.8" />
<text x="393.6" y="689.96" font-size="11" text-anchor="end">25</text>
<line x1="395.4" y1="714" x2="400.4" y2="714" stroke="#000" stroke-width="1.8" />
<text x="393.6" y="717.96" font-size="11" text-anchor="end">20</text>
<line x1="395.4" y1="741.9" x2="400.4" y2="741.9" stroke="#000" stroke-width="1.8" />
<text x="393.6" y="745.86" font-size="11" text-anchor="end">15</text>
<line x1="395.4" y1="769.9" x2="400.4" y2="769.9" stroke="#000" stroke-width="1.8" />
<text x="393.6" y="773.86" font-size="11" text-anchor="end">10</text>
<line x1="395.4" y1="797.8" x2="400.4" y2="797.8" stroke="#000" stroke-width="1.8" />
<text x="393.6" y="801.76" font-size="11" text-anchor="end">5</text>
<line x1="395.4" y1="825.8" x2="400.4" y2="825.8" stroke="#000" stroke-width="1.8" />
<text x="393.6" y="829.76" font-size="11" text-anchor="end">0</text>
<line x1="399.5" y1="825.8" x2="497.6" y2="825.8" stroke="#000" stroke-width="1.8" />
<line x1="411.5" y1="825.8" x2="411.5" y2="830.8" stroke="#000" stroke-width="1.8" />
<line x1="436.4" y1="825.8" x2="436.4" y2="830.8" stroke="#000" stroke-width="1.8" />
<line x1="460.9" y1="825.8" x2="460.9" y2="830.8" stroke="#000" stroke-width="1.8" />
<line x1="485.3" y1="825.8" x2="485.3" y2="830.8" stroke="#000" stroke-width="1.8" />
<rect x="405.7" y="794.07" width="13.9" height="31.73" fill="#fff" stroke="#000" stroke-width="2.4" />
<circle cx="408.65" cy="793.37" r="3.2" fill="none" stroke="#000" stroke-width="1.5"/>
<circle cx="416.65" cy="793.37" r="3.2" fill="none" stroke="#000" stroke-width="1.5"/>
<circle cx="412.65" cy="790.37" r="3.2" fill="none" stroke="#000" stroke-width="1.5"/>
<rect x="429.3" y="813.08" width="14.8" height="12.72" fill="#fff" stroke="#b8b8b8" stroke-width="2.4" />
<rect x="430.5" y="809.18" width="6.4" height="6.4" fill="none" stroke="#b8b8b8" stroke-width="1.5" />
<rect x="436.5" y="809.18" width="6.4" height="6.4" fill="none" stroke="#b8b8b8" stroke-width="1.5" />
<line x1="436.7" y1="811.82" x2="436.7" y2="812.94" stroke="#000" stroke-width="1.8" />
<line x1="433.1" y1="811.82" x2="440.3" y2="811.82" stroke="#000" stroke-width="2.2" />
<line x1="433.1" y1="812.94" x2="440.3" y2="812.94" stroke="#000" stroke-width="2.2" />
<rect x="454" y="775.05" width="14.2" height="50.75" fill="#fff" stroke="#8a8a8a" stroke-width="2.4" />
<polygon points="457.1,770.51 453.42,776.91 460.78,776.91" fill="none" stroke="#8a8a8a" stroke-width="1.5"/>
<polygon points="465.1,770.51 461.42,776.91 468.78,776.91" fill="none" stroke="#8a8a8a" stroke-width="1.5"/>
<polygon points="461.1,767.51 457.42,773.91 464.78,773.91" fill="none" stroke="#8a8a8a" stroke-width="1.5"/>
<line x1="461.1" y1="771" x2="461.1" y2="777.71" stroke="#000" stroke-width="1.8" />
<line x1="457.5" y1="771" x2="464.7" y2="771" stroke="#000" stroke-width="2.2" />
<line x1="457.5" y1="777.71" x2="464.7" y2="777.71" stroke="#000" stroke-width="2.2" />
<rect x="478.4" y="702.36" width="14.3" height="123.44" fill="#fff" stroke="#d9d9d9" stroke-width="2.4" />
<polygon points="485.55,704.5 481.87,698.1 489.23,698.1" fill="none" stroke="#d9d9d9" stroke-width="1.5"/>
<line x1="485.55" y1="700.54" x2="485.55" y2="703.34" stroke="#000" stroke-width="1.8" />
<line x1="481.95" y1="700.54" x2="489.15" y2="700.54" stroke="#000" stroke-width="2.2" />
<line x1="481.95" y1="703.34" x2="489.15" y2="703.34" stroke="#000" stroke-width="2.2" />
<polyline points="411.5,697.3 411.5,693.4 485.3,693.4 485.3,697.3" stroke="#000" stroke-width="1.8" fill="none" />
<text x="448.7" y="692.6" font-size="13" text-anchor="middle" font-weight="normal" letter-spacing="-0.9" stroke="#000" stroke-width="0.3">###</text>
<polyline points="464.3,731.5 464.3,727.5 485.8,727.5 485.8,731.5" stroke="#000" stroke-width="1.8" fill="none" />
<text x="475.35" y="726.6" font-size="13" text-anchor="middle" font-weight="normal" letter-spacing="-0.9" stroke="#000" stroke-width="0.3">###</text>
<polyline points="410.4,763.6 410.4,759.6 432.5,759.6 432.5,763.6" stroke="#000" stroke-width="1.8" fill="none" />
<text x="421.75" y="758.1" font-size="13" text-anchor="middle" font-weight="normal" letter-spacing="-0.9" stroke="#000" stroke-width="0.3">###</text>
<polyline points="438.5,763.6 438.5,759.6 460.9,759.6 460.9,763.6" stroke="#000" stroke-width="1.8" fill="none" />
<text x="450" y="758.1" font-size="13" text-anchor="middle" font-weight="normal" letter-spacing="-0.9" stroke="#000" stroke-width="0.3">###</text>
<text transform="translate(374,756.4) rotate(-90)" font-size="13.6" text-anchor="middle">Apoptosis rate / %</text>
<text x="403.5" y="844.5" font-size="11.1" text-anchor="end">HG</text>
<text x="411.5" y="844.5" font-size="11.1" text-anchor="middle">+</text>
<text x="436.4" y="844.5" font-size="11.1" text-anchor="middle">+</text>
<text x="460.9" y="844.5" font-size="11.1" text-anchor="middle">+</text>
<text x="485.3" y="844.5" font-size="11.1" text-anchor="middle">+</text>
<text x="403.5" y="857.6" font-size="11.1" text-anchor="end">FOXF1</text>
<text x="411.5" y="857.6" font-size="11.1" text-anchor="middle">-</text>
<text x="436.4" y="857.6" font-size="11.1" text-anchor="middle">+</text>
<text x="460.9" y="857.6" font-size="11.1" text-anchor="middle">+</text>
<text x="485.3" y="857.6" font-size="11.1" text-anchor="middle">-</text>
<text x="403.5" y="870.3" font-size="11.1" text-anchor="end">miR mim.</text>
<text x="411.5" y="870.3" font-size="11.1" text-anchor="middle">-</text>
<text x="436.4" y="870.3" font-size="11.1" text-anchor="middle">-</text>
<text x="460.9" y="870.3" font-size="11.1" text-anchor="middle">+</text>
<text x="485.3" y="870.3" font-size="11.1" text-anchor="middle">+</text>
<text x="502.6" y="682.8" font-size="16.5">K</text>
<line x1="570.7" y1="684.6" x2="570.7" y2="826.7" stroke="#000" stroke-width="1.8" />
<line x1="565.7" y1="685.5" x2="570.7" y2="685.5" stroke="#000" stroke-width="1.8" />
<text x="563.9" y="689.46" font-size="11" text-anchor="end">200</text>
<line x1="565.7" y1="732.3" x2="570.7" y2="732.3" stroke="#000" stroke-width="1.8" />
<text x="563.9" y="736.26" font-size="11" text-anchor="end">150</text>
<line x1="565.7" y1="779.1" x2="570.7" y2="779.1" stroke="#000" stroke-width="1.8" />
<text x="563.9" y="783.06" font-size="11" text-anchor="end">100</text>
<line x1="565.7" y1="825.8" x2="570.7" y2="825.8" stroke="#000" stroke-width="1.8" />
<text x="563.9" y="829.76" font-size="11" text-anchor="end">50</text>
<line x1="569.8" y1="825.8" x2="667.9" y2="825.8" stroke="#000" stroke-width="1.8" />
<line x1="583.3" y1="825.8" x2="583.3" y2="830.8" stroke="#000" stroke-width="1.8" />
<line x1="608" y1="825.8" x2="608" y2="830.8" stroke="#000" stroke-width="1.8" />
<line x1="632.4" y1="825.8" x2="632.4" y2="830.8" stroke="#000" stroke-width="1.8" />
<line x1="656.9" y1="825.8" x2="656.9" y2="830.8" stroke="#000" stroke-width="1.8" />
<rect x="576.4" y="781.6" width="14.8" height="44.2" fill="#fff" stroke="#000" stroke-width="2.4" />
<circle cx="578.8" cy="778.9" r="3.2" fill="none" stroke="#000" stroke-width="1.5"/>
<circle cx="588.8" cy="778.9" r="3.2" fill="none" stroke="#000" stroke-width="1.5"/>
<circle cx="578.8" cy="786.9" r="3.2" fill="none" stroke="#000" stroke-width="1.5"/>
<circle cx="588.8" cy="786.9" r="3.2" fill="none" stroke="#000" stroke-width="1.5"/>
<circle cx="583.8" cy="782.9" r="3.2" fill="none" stroke="#000" stroke-width="1.5"/>
<rect x="600.6" y="799.38" width="14.8" height="26.42" fill="#fff" stroke="#b8b8b8" stroke-width="2.4" />
<rect x="601.8" y="787.48" width="6.4" height="6.4" fill="none" stroke="#b8b8b8" stroke-width="1.5" />
<rect x="608.8" y="789.48" width="6.4" height="6.4" fill="none" stroke="#b8b8b8" stroke-width="1.5" />
<rect x="600.8" y="801.48" width="6.4" height="6.4" fill="none" stroke="#b8b8b8" stroke-width="1.5" />
<rect x="607.8" y="797.48" width="6.4" height="6.4" fill="none" stroke="#b8b8b8" stroke-width="1.5" />
<rect x="604.8" y="807.48" width="6.4" height="6.4" fill="none" stroke="#b8b8b8" stroke-width="1.5" />
<line x1="608" y1="791.19" x2="608" y2="808.03" stroke="#000" stroke-width="1.8" />
<line x1="604.4" y1="791.19" x2="611.6" y2="791.19" stroke="#000" stroke-width="2.2" />
<line x1="604.4" y1="808.03" x2="611.6" y2="808.03" stroke="#000" stroke-width="2.2" />
<rect x="625" y="775.99" width="14.8" height="49.81" fill="#fff" stroke="#8a8a8a" stroke-width="2.4" />
<polygon points="628.4,761.45 624.72,767.85 632.08,767.85" fill="none" stroke="#8a8a8a" stroke-width="1.5"/>
<polygon points="636.4,763.45 632.72,769.85 640.08,769.85" fill="none" stroke="#8a8a8a" stroke-width="1.5"/>
<polygon points="632.4,773.45 628.72,779.85 636.08,779.85" fill="none" stroke="#8a8a8a" stroke-width="1.5"/>
<polygon points="629.4,779.45 625.72,785.85 633.08,785.85" fill="none" stroke="#8a8a8a" stroke-width="1.5"/>
<polygon points="637.4,777.45 633.72,783.85 641.08,783.85" fill="none" stroke="#8a8a8a" stroke-width="1.5"/>
<line x1="632.4" y1="765.94" x2="632.4" y2="784.65" stroke="#000" stroke-width="1.8" />
<line x1="628.8" y1="765.94" x2="636" y2="765.94" stroke="#000" stroke-width="2.2" />
<line x1="628.8" y1="784.65" x2="636" y2="784.65" stroke="#000" stroke-width="2.2" />
<rect x="649.5" y="734.84" width="14.7" height="90.96" fill="#fff" stroke="#d9d9d9" stroke-width="2.4" />
<polygon points="653.85,737.98 650.17,731.58 657.53,731.58" fill="none" stroke="#d9d9d9" stroke-width="1.5"/>
<polygon points="659.85,739.98 656.17,733.58 663.53,733.58" fill="none" stroke="#d9d9d9" stroke-width="1.5"/>
<line x1="656.85" y1="731.33" x2="656.85" y2="736.94" stroke="#000" stroke-width="1.8" />
<line x1="653.25" y1="731.33" x2="660.45" y2="731.33" stroke="#000" stroke-width="2.2" />
<line x1="653.25" y1="736.94" x2="660.45" y2="736.94" stroke="#000" stroke-width="2.2" />
<polyline points="583.3,703 583.3,699.2 656.9,699.2 656.9,703" stroke="#000" stroke-width="1.8" fill="none" />
<text x="620.4" y="697.7" font-size="13" text-anchor="middle" font-weight="normal" letter-spacing="-0.9" stroke="#000" stroke-width="0.3">##</text>
<polyline points="633.7,723.6 633.7,719.7 656.9,719.7 656.9,723.6" stroke="#000" stroke-width="1.8" fill="none" />
<text x="645.6" y="718.2" font-size="13" text-anchor="middle" font-weight="normal" letter-spacing="-0.9" stroke="#000" stroke-width="0.3">##</text>
<polyline points="581.7,754.4 581.7,750.4 604.3,750.4 604.3,754.4" stroke="#000" stroke-width="1.8" fill="none" />
<text x="593.3" y="749" font-size="13" text-anchor="middle" font-weight="normal" letter-spacing="-0.9" stroke="#000" stroke-width="0.3">###</text>
<polyline points="610.1,754.4 610.1,750.4 633.7,750.4 633.7,754.4" stroke="#000" stroke-width="1.8" fill="none" />
<text x="622.2" y="749" font-size="13" text-anchor="middle" font-weight="normal" letter-spacing="-0.9" stroke="#000" stroke-width="0.3">##</text>
<text transform="translate(538.5,756.15) rotate(-90)" font-size="13.6" text-anchor="middle">Caspase-3 activity / %</text>
<text x="574" y="844.5" font-size="11.1" text-anchor="end">HG</text>
<text x="583.3" y="844.5" font-size="11.1" text-anchor="middle">+</text>
<text x="608" y="844.5" font-size="11.1" text-anchor="middle">+</text>
<text x="632.4" y="844.5" font-size="11.1" text-anchor="middle">+</text>
<text x="656.9" y="844.5" font-size="11.1" text-anchor="middle">+</text>
<text x="574" y="857.6" font-size="11.1" text-anchor="end">FOXF1</text>
<text x="583.3" y="857.6" font-size="11.1" text-anchor="middle">-</text>
<text x="608" y="857.6" font-size="11.1" text-anchor="middle">+</text>
<text x="632.4" y="857.6" font-size="11.1" text-anchor="middle">+</text>
<text x="656.9" y="857.6" font-size="11.1" text-anchor="middle">-</text>
<text x="574" y="870.3" font-size="11.1" text-anchor="end">miR mim.</text>
<text x="583.3" y="870.3" font-size="11.1" text-anchor="middle">-</text>
<text x="608" y="870.3" font-size="11.1" text-anchor="middle">-</text>
<text x="632.4" y="870.3" font-size="11.1" text-anchor="middle">+</text>
<text x="656.9" y="870.3" font-size="11.1" text-anchor="middle">+</text>
<text x="179.9" y="416.7" font-size="16.5">H</text>
<text x="252.7" y="422.6" font-size="12.6" text-anchor="middle">HG</text>
<text x="369.5" y="422.6" font-size="12.6" text-anchor="middle">HG+FOXF1</text>
<text x="497" y="422.6" font-size="12.6" text-anchor="middle" textLength="130.8" lengthAdjust="spacingAndGlyphs">HG+FOXF1+miR mim.</text>
<text x="622.1" y="422.6" font-size="12.6" text-anchor="middle" textLength="83.2" lengthAdjust="spacingAndGlyphs">HG+miR mim.</text>
<defs><filter id="bl" x="-5%" y="-5%" width="110%" height="110%"><feGaussianBlur stdDeviation="0.95"/></filter><filter id="rb" x="-50%" y="-50%" width="200%" height="200%"><feGaussianBlur stdDeviation="1.6"/></filter><clipPath id="cp0"><rect x="189.6" y="426.5" width="121.4" height="101.2"/></clipPath><clipPath id="cp1"><rect x="314" y="426.5" width="120.7" height="101.2"/></clipPath><clipPath id="cp2"><rect x="437.4" y="426.5" width="121.9" height="101.2"/></clipPath><clipPath id="cp3"><rect x="562" y="426.5" width="122" height="101.2"/></clipPath></defs>
<rect x="189.6" y="426.5" width="121.4" height="101.2" fill="#02000c" />
<g clip-path="url(#cp0)"><g filter="url(#bl)">
<g fill="#2818ff"><circle cx="198" cy="451.2" r="2.8"/><circle cx="293.8" cy="465.2" r="3.1"/><circle cx="229.8" cy="457.2" r="2.7"/><circle cx="211.5" cy="501.5" r="2.9"/><circle cx="220" cy="505.8" r="2.6"/><circle cx="306.7" cy="517.3" r="2.7"/><circle cx="281.5" cy="431.8" r="2.5"/><circle cx="235.1" cy="425.8" r="2.4"/><circle cx="204.5" cy="461.4" r="2.3"/><circle cx="227.1" cy="512.8" r="2.7"/><circle cx="236.3" cy="471.9" r="3.1"/><circle cx="303.5" cy="437.5" r="2.7"/><circle cx="255.9" cy="453.2" r="2.7"/><circle cx="302.6" cy="481.7" r="2.4"/><circle cx="299.3" cy="445" r="2.5"/><circle cx="204.4" cy="449.7" r="2.5"/><circle cx="282.7" cy="477.4" r="2.5"/><circle cx="232.1" cy="446.6" r="2.9"/><circle cx="264.8" cy="502.2" r="2.7"/><circle cx="233.9" cy="434.7" r="2.4"/><circle cx="225.9" cy="481.9" r="2.5"/><circle cx="222" cy="528.7" r="2.5"/><circle cx="221" cy="480.7" r="3"/><circle cx="211.8" cy="428.3" r="2.9"/><circle cx="216" cy="441" r="2.7"/><circle cx="189.9" cy="459.3" r="2.9"/><circle cx="301.1" cy="497.1" r="2.4"/><circle cx="266.9" cy="444.6" r="2.3"/><circle cx="271.2" cy="453.6" r="2.4"/><circle cx="236.9" cy="455.9" r="2.4"/><circle cx="294.6" cy="457" r="3.1"/><circle cx="234.9" cy="494.9" r="2.5"/><circle cx="201" cy="522.7" r="2.7"/><circle cx="232.6" cy="503.8" r="2.8"/><circle cx="188.9" cy="501.3" r="3.1"/><circle cx="253.8" cy="472" r="2.3"/><circle cx="191.5" cy="496.2" r="2.7"/><circle cx="221.2" cy="494.1" r="2.8"/><circle cx="227.2" cy="495.1" r="3.2"/><circle cx="248.3" cy="448.7" r="2.7"/><circle cx="202.4" cy="458.2" r="2.4"/><circle cx="275.8" cy="466.3" r="2.9"/><circle cx="208.7" cy="529.3" r="2.6"/><circle cx="297" cy="431" r="2.4"/><circle cx="195.8" cy="478.1" r="2.5"/><circle cx="260.9" cy="522.9" r="3"/><circle cx="244.6" cy="446.9" r="2.8"/><circle cx="284.1" cy="458" r="2.7"/><circle cx="254.4" cy="507.5" r="2.5"/><circle cx="244.1" cy="470.5" r="2.8"/><circle cx="248.3" cy="466.4" r="2.6"/><circle cx="189.5" cy="472.2" r="2.6"/><circle cx="261.6" cy="512.8" r="2.5"/><circle cx="293.1" cy="429.1" r="2.4"/><circle cx="195" cy="470.8" r="3"/><circle cx="293.9" cy="512" r="3.2"/><circle cx="259.2" cy="481.8" r="2.6"/><circle cx="249.7" cy="497.2" r="2.4"/><circle cx="242.2" cy="438.7" r="2.4"/></g>
<g fill="#2010f0"><circle cx="189.5" cy="480.1" r="2.5"/><circle cx="262.8" cy="506.4" r="2.8"/><circle cx="210.5" cy="440.7" r="3"/><circle cx="219.8" cy="511.2" r="2.6"/><circle cx="294.5" cy="489.1" r="3.1"/><circle cx="271.1" cy="445.4" r="3"/><circle cx="298" cy="464.9" r="2.6"/><circle cx="259.2" cy="457" r="2.3"/><circle cx="254.7" cy="491.8" r="2.4"/><circle cx="287.5" cy="523.8" r="2.9"/><circle cx="242.1" cy="523.5" r="2.9"/><circle cx="248" cy="444.4" r="2.5"/><circle cx="210.4" cy="432.6" r="2.7"/><circle cx="197.2" cy="487.4" r="2.3"/><circle cx="273.1" cy="462.8" r="3"/><circle cx="278.5" cy="498" r="2.6"/><circle cx="280.6" cy="528.8" r="2.5"/><circle cx="226.3" cy="436.6" r="3"/><circle cx="192.2" cy="435.9" r="2.5"/><circle cx="205.3" cy="434.4" r="2.9"/><circle cx="250.1" cy="522.8" r="2.7"/><circle cx="298.5" cy="486.6" r="2.6"/><circle cx="213" cy="526.6" r="2.7"/><circle cx="220.8" cy="486.4" r="3"/><circle cx="303.5" cy="443.1" r="3.1"/><circle cx="235.4" cy="506.7" r="2.6"/><circle cx="194.5" cy="465.9" r="2.3"/><circle cx="206.4" cy="444.7" r="2.9"/><circle cx="218.9" cy="458.7" r="2.8"/><circle cx="312.3" cy="471.1" r="3"/><circle cx="256.1" cy="496.1" r="2.4"/><circle cx="244.4" cy="494.5" r="2.6"/><circle cx="201.5" cy="444.2" r="3"/><circle cx="196.8" cy="482.9" r="2.7"/><circle cx="197.4" cy="492.7" r="2.7"/><circle cx="289.1" cy="477.5" r="2.8"/><circle cx="275.2" cy="484.3" r="2.6"/><circle cx="286.7" cy="481.3" r="3"/><circle cx="202.7" cy="453.2" r="2.4"/><circle cx="222.7" cy="471.1" r="3"/><circle cx="253.8" cy="444.4" r="2.4"/><circle cx="250.3" cy="505.1" r="2.5"/><circle cx="259.9" cy="517.1" r="2.5"/><circle cx="311.4" cy="452.1" r="2.9"/><circle cx="283.4" cy="471.3" r="2.6"/><circle cx="252.4" cy="516.5" r="2.5"/><circle cx="270.6" cy="458.6" r="2.4"/><circle cx="224.6" cy="518.2" r="2.3"/><circle cx="236.7" cy="489.7" r="2.3"/><circle cx="312.6" cy="433.8" r="2.3"/><circle cx="193.4" cy="492.7" r="2.6"/><circle cx="268.6" cy="467.7" r="2.8"/><circle cx="267.4" cy="440.4" r="2.6"/><circle cx="235.9" cy="464.3" r="2.6"/></g>
<g fill="#1c0ce0"><circle cx="237.4" cy="432.2" r="3"/><circle cx="196.9" cy="446.5" r="2.3"/><circle cx="209.7" cy="463.3" r="2.4"/><circle cx="260.9" cy="439.3" r="2.3"/><circle cx="264.7" cy="521.3" r="2.3"/><circle cx="205.6" cy="488.9" r="3"/><circle cx="306.7" cy="453.6" r="2.7"/><circle cx="291.5" cy="453.8" r="2.9"/><circle cx="306.6" cy="433.5" r="2.8"/><circle cx="242" cy="510.3" r="2.7"/><circle cx="280.5" cy="509.8" r="2.6"/><circle cx="303.2" cy="488.1" r="3"/><circle cx="305.4" cy="484.4" r="2.8"/><circle cx="210.8" cy="508.4" r="2.4"/><circle cx="283.1" cy="492.7" r="2.5"/><circle cx="307.1" cy="501.7" r="2.4"/><circle cx="289.2" cy="463.3" r="3.2"/><circle cx="263.3" cy="497.6" r="3"/><circle cx="223.1" cy="439.5" r="3"/><circle cx="299.8" cy="450.6" r="2.6"/><circle cx="258.2" cy="443.1" r="3.1"/><circle cx="289.4" cy="447.8" r="2.4"/><circle cx="230" cy="472.8" r="3"/><circle cx="262.8" cy="474.1" r="2.7"/><circle cx="256.6" cy="514.3" r="2.7"/><circle cx="200.5" cy="499.6" r="2.8"/><circle cx="240" cy="459.6" r="3.1"/><circle cx="290.1" cy="487.8" r="3"/><circle cx="286.4" cy="466.9" r="2.4"/><circle cx="255" cy="524.5" r="2.5"/><circle cx="208.5" cy="494.5" r="2.4"/><circle cx="290.9" cy="517.5" r="3"/><circle cx="237.3" cy="441" r="2.4"/><circle cx="297.6" cy="528.6" r="3.1"/><circle cx="206.6" cy="517.5" r="2.8"/><circle cx="295.1" cy="523.9" r="2.9"/><circle cx="220.8" cy="450.3" r="2.7"/><circle cx="226.7" cy="431.5" r="2.8"/><circle cx="209.1" cy="485.6" r="2.6"/><circle cx="312.4" cy="497.3" r="2.6"/><circle cx="284.1" cy="445.6" r="2.5"/><circle cx="298.5" cy="470.1" r="2.6"/><circle cx="254.8" cy="480.6" r="3"/><circle cx="290.3" cy="495.5" r="2.3"/><circle cx="259.4" cy="434.7" r="2.5"/><circle cx="310.6" cy="459" r="2.5"/><circle cx="265.3" cy="525.8" r="2.6"/><circle cx="254" cy="528.8" r="3.2"/><circle cx="246.2" cy="454.9" r="2.6"/><circle cx="188" cy="521.7" r="2.3"/><circle cx="212.1" cy="480.3" r="2.3"/><circle cx="279.6" cy="514.7" r="2.7"/><circle cx="191.2" cy="476.4" r="2.6"/><circle cx="312.1" cy="475.7" r="2.9"/><circle cx="241.9" cy="466.8" r="2.4"/></g>
<g fill="#1808c8"><circle cx="204.5" cy="498.9" r="2.7"/><circle cx="263.1" cy="485.2" r="2.4"/><circle cx="201.3" cy="478.4" r="3"/><circle cx="275.5" cy="525.8" r="2.9"/><circle cx="196" cy="457.2" r="2.4"/><circle cx="212.6" cy="474.5" r="2.3"/><circle cx="275" cy="479.2" r="3"/><circle cx="223.2" cy="500.6" r="2.7"/><circle cx="219" cy="445.3" r="2.7"/><circle cx="293.5" cy="443.6" r="3"/><circle cx="262.4" cy="469.7" r="2.6"/><circle cx="218.3" cy="429" r="3"/><circle cx="292.7" cy="505.4" r="3"/><circle cx="231.4" cy="424.9" r="2.4"/><circle cx="236.4" cy="480.2" r="3.1"/><circle cx="270.4" cy="505.7" r="3.1"/><circle cx="297.2" cy="519.7" r="2.5"/><circle cx="282.3" cy="482.9" r="2.5"/><circle cx="225.8" cy="486.9" r="2.4"/><circle cx="260.3" cy="500.5" r="2.3"/><circle cx="264.4" cy="455.6" r="3.1"/><circle cx="252" cy="437.9" r="2.7"/><circle cx="285.8" cy="451.8" r="2.4"/><circle cx="233.3" cy="431.1" r="2.3"/><circle cx="305.8" cy="505.7" r="2.9"/><circle cx="264.4" cy="431.2" r="2.7"/><circle cx="238" cy="515.8" r="3.2"/><circle cx="280.8" cy="487.8" r="2.4"/><circle cx="218.5" cy="468" r="2.5"/><circle cx="262.8" cy="447.6" r="3"/><circle cx="288.9" cy="424.6" r="3"/><circle cx="260.6" cy="453.3" r="3"/><circle cx="227.4" cy="462" r="2.8"/><circle cx="241.5" cy="486.2" r="3.2"/><circle cx="281.9" cy="424.8" r="2.7"/><circle cx="215.8" cy="499.3" r="3.1"/><circle cx="223.8" cy="522.6" r="2.7"/><circle cx="206.4" cy="525.9" r="2.7"/><circle cx="224.7" cy="465.7" r="2.3"/><circle cx="196.2" cy="502.8" r="2.7"/><circle cx="230.8" cy="437.2" r="3"/><circle cx="203.4" cy="482.6" r="2.5"/><circle cx="299.1" cy="494.2" r="2.5"/></g>
<g fill="#3020ff"><circle cx="205" cy="471.9" r="3"/><circle cx="254.7" cy="428.3" r="3"/><circle cx="294.9" cy="461.2" r="2.7"/><circle cx="302.5" cy="474" r="3.1"/><circle cx="291.8" cy="483.6" r="2.8"/><circle cx="250.7" cy="488.2" r="3.2"/><circle cx="248.1" cy="427.1" r="2.9"/><circle cx="245.5" cy="504.9" r="2.7"/><circle cx="285.2" cy="510.2" r="3.1"/><circle cx="262.6" cy="463" r="2.9"/><circle cx="278.2" cy="473.8" r="3"/><circle cx="192.6" cy="430.9" r="2.7"/><circle cx="280.2" cy="463.2" r="2.4"/><circle cx="308.8" cy="493" r="2.4"/><circle cx="290" cy="468.9" r="2.7"/><circle cx="220.1" cy="515.9" r="2.9"/><circle cx="199" cy="511.4" r="2.8"/><circle cx="227.4" cy="507.5" r="3.2"/><circle cx="245.7" cy="437.5" r="2.4"/><circle cx="190.6" cy="442.6" r="2.7"/><circle cx="189.6" cy="491.3" r="2.8"/><circle cx="250.5" cy="455.6" r="3"/><circle cx="235.1" cy="450.6" r="2.9"/><circle cx="312.3" cy="502.1" r="3.1"/><circle cx="252.4" cy="461.9" r="2.6"/><circle cx="276" cy="450.9" r="2.3"/><circle cx="305.7" cy="460.9" r="2.5"/><circle cx="271.4" cy="440.9" r="2.5"/><circle cx="268.1" cy="430.5" r="2.3"/><circle cx="198.1" cy="439.1" r="2.9"/><circle cx="254.2" cy="465.2" r="2.5"/><circle cx="297" cy="440.8" r="3"/><circle cx="229.3" cy="449.6" r="2.5"/><circle cx="225.6" cy="450.2" r="2.3"/><circle cx="229.1" cy="522" r="2.6"/><circle cx="189.7" cy="468.3" r="2.5"/><circle cx="260.6" cy="494.5" r="2.6"/><circle cx="269.7" cy="516.3" r="2.4"/><circle cx="264.7" cy="425.8" r="3.1"/><circle cx="211.8" cy="459.8" r="3.1"/><circle cx="299.7" cy="524.7" r="3"/><circle cx="203.3" cy="513.9" r="3.2"/><circle cx="242.7" cy="517.8" r="2.6"/><circle cx="229.1" cy="466.3" r="2.3"/><circle cx="311.2" cy="511.6" r="2.9"/><circle cx="300.4" cy="426.7" r="3.1"/><circle cx="272.1" cy="511.2" r="2.5"/><circle cx="244.4" cy="442.2" r="2.3"/></g>
<g fill="#1408b0"><circle cx="214.4" cy="522" r="2.6"/><circle cx="278.6" cy="441.2" r="2.8"/><circle cx="304.1" cy="527.3" r="2.7"/><circle cx="256.1" cy="502" r="3"/><circle cx="312.2" cy="517.1" r="2.6"/><circle cx="303.7" cy="511.9" r="2.8"/><circle cx="205.3" cy="429.4" r="2.7"/><circle cx="294" cy="498.1" r="2.7"/><circle cx="310.2" cy="481" r="2.6"/><circle cx="201.2" cy="468.6" r="2.5"/><circle cx="285.3" cy="426.9" r="2.5"/><circle cx="238.1" cy="496.6" r="2.5"/><circle cx="232.4" cy="510.9" r="2.9"/><circle cx="311.8" cy="522" r="2.4"/><circle cx="299.6" cy="508.8" r="3.1"/><circle cx="274.7" cy="505.2" r="2.7"/><circle cx="278.3" cy="458.1" r="2.5"/><circle cx="286" cy="490.2" r="2.5"/><circle cx="211.4" cy="450.7" r="3.1"/><circle cx="192.4" cy="447.9" r="3"/><circle cx="224.1" cy="504.3" r="2.5"/><circle cx="245.7" cy="511.1" r="2.6"/><circle cx="301.2" cy="458.4" r="2.8"/><circle cx="300.3" cy="433.4" r="2.4"/><circle cx="276.4" cy="520.8" r="3"/><circle cx="231.7" cy="489.2" r="3.1"/><circle cx="256.4" cy="461.6" r="2.4"/><circle cx="270" cy="523.4" r="3.2"/><circle cx="310.6" cy="488.8" r="2.7"/><circle cx="255.8" cy="438.8" r="2.5"/><circle cx="258.6" cy="509.6" r="2.6"/><circle cx="235.8" cy="460.4" r="2.3"/><circle cx="231.1" cy="517.7" r="2.9"/><circle cx="311.5" cy="446.2" r="3.1"/><circle cx="198.7" cy="462.7" r="3"/><circle cx="312.1" cy="466.1" r="2.9"/><circle cx="312.9" cy="483.8" r="2.5"/><circle cx="243" cy="429.2" r="2.4"/><circle cx="260.7" cy="466.4" r="2.5"/><circle cx="268.7" cy="497" r="2.6"/><circle cx="294.5" cy="475.7" r="2.6"/><circle cx="310" cy="507.2" r="2.9"/><circle cx="216" cy="448.6" r="2.8"/><circle cx="214.6" cy="493.1" r="3.2"/><circle cx="223.4" cy="444.6" r="3.1"/><circle cx="312.2" cy="425.9" r="2.7"/><circle cx="288.1" cy="443.2" r="2.7"/><circle cx="197.1" cy="434.9" r="2.4"/><circle cx="205.6" cy="476.2" r="3.1"/><circle cx="207.6" cy="453.6" r="2.8"/><circle cx="271.3" cy="483.4" r="2.9"/></g>
<g fill="#100890"><circle cx="270.7" cy="472.6" r="3.2"/><circle cx="237.1" cy="528.7" r="3.1"/><circle cx="261.9" cy="529.5" r="2.5"/><circle cx="198.2" cy="474.3" r="3.1"/><circle cx="198.6" cy="426.8" r="2.4"/><circle cx="238.4" cy="444.5" r="2.5"/><circle cx="240.4" cy="453.5" r="2.5"/><circle cx="195.6" cy="508.6" r="2.6"/><circle cx="274.2" cy="431.4" r="2.7"/><circle cx="267" cy="511.3" r="2.8"/><circle cx="304.2" cy="494.3" r="2.3"/><circle cx="247.5" cy="526.9" r="2.8"/><circle cx="302" cy="503.7" r="2.7"/><circle cx="238.1" cy="520.3" r="2.9"/><circle cx="282.7" cy="503.6" r="3.2"/><circle cx="193.3" cy="487.6" r="2.5"/><circle cx="214.9" cy="435.4" r="3"/><circle cx="214.8" cy="454.2" r="2.7"/><circle cx="250" cy="511.9" r="2.4"/><circle cx="280.7" cy="451.2" r="3"/><circle cx="308.5" cy="468" r="2.4"/><circle cx="232.6" cy="469.8" r="2.3"/><circle cx="280" cy="468.5" r="3.2"/><circle cx="306.2" cy="476" r="2.6"/><circle cx="288.7" cy="502.9" r="2.8"/><circle cx="243.2" cy="479.8" r="2.4"/><circle cx="246.1" cy="475.5" r="3.1"/><circle cx="213.8" cy="424.9" r="2.4"/><circle cx="235.2" cy="484.4" r="2.9"/><circle cx="257.1" cy="448.9" r="2.5"/></g>
<g fill="#70e8d0"><ellipse cx="216" cy="476.1" rx="2.6" ry="2" transform="rotate(134 216 476.1)"/><ellipse cx="238.1" cy="501.9" rx="2.3" ry="1.7" transform="rotate(119 238.1 501.9)"/><ellipse cx="275" cy="466.4" rx="3.1" ry="2.3" transform="rotate(121 275 466.4)"/><ellipse cx="277.6" cy="501.2" rx="2.8" ry="2.1" transform="rotate(29 277.6 501.2)"/><ellipse cx="279" cy="445.5" rx="3" ry="2.2" transform="rotate(159 279 445.5)"/><ellipse cx="266.3" cy="435.8" rx="2.6" ry="1.9" transform="rotate(144 266.3 435.8)"/><ellipse cx="217.8" cy="471.1" rx="2.4" ry="1.8" transform="rotate(117 217.8 471.1)"/></g>
<g fill="#90f0e0"><ellipse cx="196.5" cy="457.1" rx="2.4" ry="1.8" transform="rotate(99 196.5 457.1)"/><ellipse cx="229.5" cy="451.8" rx="2.5" ry="1.9" transform="rotate(74 229.5 451.8)"/><ellipse cx="237.7" cy="428.7" rx="2.3" ry="1.7" transform="rotate(9 237.7 428.7)"/><ellipse cx="230.4" cy="478.5" rx="2.7" ry="2" transform="rotate(99 230.4 478.5)"/><ellipse cx="283.7" cy="456.5" rx="2.3" ry="1.7" transform="rotate(45 283.7 456.5)"/><ellipse cx="213" cy="477.9" rx="2.7" ry="2" transform="rotate(42 213 477.9)"/><ellipse cx="198.6" cy="449.1" rx="2.9" ry="2.2" transform="rotate(170 198.6 449.1)"/><ellipse cx="300.5" cy="442.4" rx="2.4" ry="1.8" transform="rotate(138 300.5 442.4)"/><ellipse cx="304.7" cy="496.5" rx="3" ry="2.2" transform="rotate(17 304.7 496.5)"/><ellipse cx="286" cy="466.4" rx="2.7" ry="2" transform="rotate(44 286 466.4)"/></g>
<g fill="#58d8c0"><ellipse cx="211.8" cy="490.9" rx="2.7" ry="2" transform="rotate(173 211.8 490.9)"/><ellipse cx="304.5" cy="513.9" rx="2.7" ry="2.1" transform="rotate(12 304.5 513.9)"/><ellipse cx="285.9" cy="513.9" rx="2.8" ry="2.1" transform="rotate(156 285.9 513.9)"/><ellipse cx="239.6" cy="491.9" rx="2.6" ry="1.9" transform="rotate(167 239.6 491.9)"/><ellipse cx="274.3" cy="500.5" rx="2.8" ry="2.1" transform="rotate(121 274.3 500.5)"/><ellipse cx="223.5" cy="482.6" rx="2.9" ry="2.2" transform="rotate(21 223.5 482.6)"/><ellipse cx="263.9" cy="472.8" rx="3" ry="2.3" transform="rotate(11 263.9 472.8)"/><ellipse cx="214.8" cy="505.7" rx="2.7" ry="2" transform="rotate(9 214.8 505.7)"/><ellipse cx="222.9" cy="446.6" rx="2.4" ry="1.8" transform="rotate(10 222.9 446.6)"/><ellipse cx="265.5" cy="465.6" rx="2.4" ry="1.8" transform="rotate(175 265.5 465.6)"/><ellipse cx="273.7" cy="453.6" rx="2.9" ry="2.2" transform="rotate(98 273.7 453.6)"/><ellipse cx="306.5" cy="510.3" rx="2.9" ry="2.2" transform="rotate(96 306.5 510.3)"/><ellipse cx="305.5" cy="516.8" rx="2.8" ry="2.1" transform="rotate(21 305.5 516.8)"/></g>
</g></g>
<rect x="297" y="522.6" width="9.5" height="1.8" fill="#fff" />
<rect x="314" y="426.5" width="120.7" height="101.2" fill="#060432" />
<g clip-path="url(#cp1)"><g filter="url(#bl)">
<g fill="#2414ff"><circle cx="388.3" cy="504.9" r="2.5"/><circle cx="345.2" cy="490.4" r="2.3"/><circle cx="434.2" cy="464.5" r="2.6"/><circle cx="410.4" cy="523.6" r="2.6"/><circle cx="361.8" cy="500.4" r="2.5"/><circle cx="398.8" cy="463.6" r="2.9"/><circle cx="416.9" cy="471.7" r="2.4"/><circle cx="323.8" cy="520.5" r="2.5"/><circle cx="341.7" cy="433.4" r="2.7"/><circle cx="436.3" cy="472.3" r="2.5"/><circle cx="365.3" cy="455.2" r="2.6"/><circle cx="386.6" cy="520.1" r="2.8"/><circle cx="347.6" cy="496" r="2.5"/><circle cx="316.2" cy="453.3" r="2.7"/><circle cx="394.3" cy="430" r="2.7"/><circle cx="376.9" cy="430.5" r="2.8"/><circle cx="406.7" cy="440.8" r="2.2"/><circle cx="335.4" cy="457.5" r="2.9"/><circle cx="314.2" cy="427.4" r="2.5"/><circle cx="319.7" cy="452.2" r="2.4"/><circle cx="405.9" cy="520.6" r="2.3"/><circle cx="412.8" cy="433.4" r="2.6"/><circle cx="386.8" cy="523.3" r="2.4"/><circle cx="330.4" cy="516.3" r="2.5"/><circle cx="407.6" cy="428.7" r="2.8"/><circle cx="424.2" cy="526.6" r="2.8"/><circle cx="312.8" cy="523.1" r="2.9"/><circle cx="341.1" cy="513.6" r="2.9"/><circle cx="415.5" cy="430.6" r="2.7"/><circle cx="315.5" cy="505.6" r="2.5"/><circle cx="426.8" cy="518.2" r="2.5"/><circle cx="330" cy="437.6" r="2.7"/><circle cx="333.7" cy="494.1" r="3"/><circle cx="350.9" cy="426.3" r="2.4"/><circle cx="398" cy="484.9" r="2.7"/><circle cx="349.6" cy="456.1" r="2.7"/><circle cx="331.5" cy="525.6" r="2.5"/><circle cx="351.5" cy="453.1" r="2.4"/><circle cx="327" cy="479.8" r="2.4"/><circle cx="401.9" cy="511.2" r="3"/><circle cx="365.7" cy="507" r="2.5"/><circle cx="318.9" cy="492" r="2.6"/><circle cx="356.7" cy="450.3" r="2.5"/><circle cx="396.3" cy="515.8" r="2.7"/><circle cx="322.1" cy="459.5" r="2.5"/><circle cx="413.9" cy="495.5" r="2.9"/><circle cx="417.6" cy="452.9" r="2.9"/><circle cx="426.9" cy="509.8" r="2.5"/><circle cx="373.8" cy="521.3" r="2.7"/><circle cx="366.4" cy="427.1" r="2.8"/><circle cx="400.2" cy="426.6" r="2.4"/><circle cx="338.2" cy="446.4" r="2.8"/><circle cx="368.3" cy="487.1" r="2.8"/><circle cx="380.1" cy="470.3" r="2.8"/><circle cx="413.6" cy="499.1" r="2.2"/><circle cx="384" cy="437.5" r="2.4"/><circle cx="433.8" cy="479.3" r="2.4"/><circle cx="381.1" cy="507.8" r="2.2"/><circle cx="415.5" cy="466.5" r="2.8"/><circle cx="416.4" cy="427.7" r="2.3"/><circle cx="383" cy="481" r="2.2"/><circle cx="400.1" cy="528.9" r="2.7"/><circle cx="423.8" cy="506.9" r="2.6"/><circle cx="407.7" cy="443.7" r="2.7"/><circle cx="392.6" cy="476.5" r="2.7"/><circle cx="351.8" cy="515.2" r="2.6"/><circle cx="373" cy="461.4" r="2.6"/><circle cx="329.3" cy="482.7" r="2.5"/><circle cx="408.3" cy="450" r="2.2"/><circle cx="334.5" cy="466.2" r="2.3"/><circle cx="323.9" cy="474.2" r="2.8"/><circle cx="433.7" cy="524.3" r="2.9"/><circle cx="323.7" cy="493.2" r="2.7"/><circle cx="394.1" cy="521.9" r="2.3"/><circle cx="375.3" cy="509.5" r="2.2"/><circle cx="427.4" cy="427.8" r="2.2"/><circle cx="367.5" cy="496.4" r="2.6"/><circle cx="402.7" cy="436.3" r="2.4"/><circle cx="408.4" cy="519" r="2.3"/><circle cx="321.1" cy="524" r="2.5"/><circle cx="394.1" cy="471.7" r="2.6"/><circle cx="355.1" cy="433.7" r="2.5"/><circle cx="360.7" cy="475.1" r="2.3"/><circle cx="376" cy="513.9" r="2.6"/><circle cx="387.6" cy="498.6" r="2.5"/><circle cx="362.6" cy="507.1" r="2.4"/><circle cx="379.2" cy="437.8" r="2.4"/><circle cx="319.7" cy="442.3" r="2.9"/><circle cx="330.7" cy="462" r="2.3"/><circle cx="370.1" cy="498.6" r="2.7"/><circle cx="411.3" cy="487.7" r="2.8"/><circle cx="318.3" cy="449.2" r="2.5"/><circle cx="367.6" cy="475.6" r="2.7"/><circle cx="401.4" cy="458.3" r="2.3"/><circle cx="414.2" cy="424.6" r="2.9"/><circle cx="336.3" cy="449.6" r="2.5"/><circle cx="315.2" cy="459.2" r="2.4"/><circle cx="392.9" cy="432.9" r="2.4"/><circle cx="397.9" cy="432.5" r="2.9"/><circle cx="423.6" cy="442.3" r="2.5"/><circle cx="318.5" cy="508.4" r="2.3"/><circle cx="322.4" cy="427.8" r="2.9"/><circle cx="336.1" cy="490.8" r="2.8"/><circle cx="352.8" cy="495.4" r="2.2"/><circle cx="432.1" cy="437.5" r="2.3"/><circle cx="413.8" cy="474.3" r="2.5"/><circle cx="388.3" cy="430.4" r="2.4"/><circle cx="393.7" cy="481.2" r="2.3"/><circle cx="390.5" cy="448.2" r="2.7"/><circle cx="335.9" cy="473.3" r="2.8"/><circle cx="373.4" cy="475" r="2.3"/><circle cx="319.1" cy="501" r="2.5"/><circle cx="340.6" cy="437.2" r="2.2"/><circle cx="419.6" cy="436.2" r="2.4"/><circle cx="379.7" cy="475.3" r="2.3"/><circle cx="347.8" cy="504.7" r="2.3"/><circle cx="349.7" cy="511.4" r="2.2"/></g>
<g fill="#2010f0"><circle cx="380.8" cy="458.2" r="2.8"/><circle cx="435.5" cy="476" r="2.3"/><circle cx="320.7" cy="439" r="2.6"/><circle cx="414.1" cy="521.7" r="2.6"/><circle cx="315.3" cy="475.7" r="2.4"/><circle cx="431.3" cy="500.8" r="2.3"/><circle cx="330.5" cy="520.2" r="2.6"/><circle cx="418.4" cy="513.1" r="2.7"/><circle cx="392.6" cy="468.6" r="2.3"/><circle cx="383.9" cy="428.8" r="2.4"/><circle cx="377.6" cy="521.1" r="2.5"/><circle cx="391" cy="500.7" r="2.8"/><circle cx="384.1" cy="496.9" r="2.5"/><circle cx="429.9" cy="431.7" r="2.8"/><circle cx="342.6" cy="500.5" r="2.4"/><circle cx="434.1" cy="520" r="2.6"/><circle cx="390.6" cy="460.5" r="2.5"/><circle cx="389.7" cy="465.5" r="2.4"/><circle cx="435.4" cy="506.7" r="2.8"/><circle cx="331.6" cy="427.7" r="2.9"/><circle cx="387.4" cy="474.7" r="2.9"/><circle cx="374.5" cy="491.4" r="2.7"/><circle cx="419.2" cy="446.3" r="2.7"/><circle cx="344.6" cy="455.4" r="2.4"/><circle cx="312" cy="446" r="2.9"/><circle cx="314.4" cy="482.4" r="2.7"/><circle cx="351.2" cy="484.6" r="2.8"/><circle cx="382.5" cy="515.3" r="2.7"/><circle cx="402.5" cy="462.4" r="2.2"/><circle cx="426.3" cy="469.1" r="2.8"/><circle cx="316.7" cy="487" r="2.5"/><circle cx="415.4" cy="439" r="2.9"/><circle cx="349.9" cy="521.4" r="2.2"/><circle cx="385.8" cy="451.1" r="2.8"/><circle cx="374.6" cy="468.2" r="2.8"/><circle cx="358.9" cy="429.3" r="2.5"/><circle cx="362.5" cy="459.2" r="2.9"/><circle cx="328.6" cy="457.5" r="2.6"/><circle cx="379.3" cy="516.7" r="2.4"/><circle cx="331.1" cy="468.1" r="2.7"/><circle cx="364.3" cy="441.7" r="2.6"/><circle cx="325.2" cy="442.8" r="2.6"/><circle cx="334.1" cy="499" r="3"/><circle cx="368.5" cy="438.1" r="2.2"/><circle cx="423.8" cy="449.1" r="2.2"/><circle cx="418.6" cy="521.9" r="2.6"/><circle cx="368.2" cy="493.2" r="2.7"/><circle cx="312.4" cy="479.7" r="2.2"/><circle cx="426.3" cy="465.6" r="2.2"/><circle cx="318.7" cy="478.7" r="2.6"/><circle cx="321.3" cy="455" r="2.8"/><circle cx="409.4" cy="504" r="2.6"/><circle cx="387.1" cy="446.1" r="2.8"/><circle cx="393.4" cy="526.9" r="2.4"/><circle cx="418.7" cy="481.2" r="2.7"/><circle cx="356.1" cy="525" r="2.5"/><circle cx="378" cy="450.7" r="2.8"/><circle cx="412" cy="505.9" r="2.4"/><circle cx="425.3" cy="431.3" r="2.8"/><circle cx="377.2" cy="483.1" r="2.5"/><circle cx="408.6" cy="508.3" r="2.4"/><circle cx="352.3" cy="438" r="2.8"/><circle cx="408.3" cy="481.4" r="3"/><circle cx="361.8" cy="512.6" r="2.5"/><circle cx="421.2" cy="466.7" r="2.6"/><circle cx="399" cy="440" r="2.8"/><circle cx="366" cy="479.4" r="2.8"/><circle cx="390.6" cy="472.1" r="2.7"/><circle cx="325" cy="430.7" r="2.8"/><circle cx="364.4" cy="521.7" r="2.5"/><circle cx="312" cy="471.1" r="2.5"/><circle cx="364.7" cy="516.9" r="2.5"/><circle cx="318.8" cy="467.1" r="2.7"/><circle cx="401.6" cy="444" r="2.5"/><circle cx="347" cy="426" r="2.3"/><circle cx="319.1" cy="435.4" r="2.7"/><circle cx="370.7" cy="441.9" r="2.5"/><circle cx="360.4" cy="455" r="2.5"/><circle cx="410.7" cy="426.3" r="3"/><circle cx="400.8" cy="489.1" r="2.9"/><circle cx="412.6" cy="477.8" r="2.6"/><circle cx="327.8" cy="471.8" r="2.4"/><circle cx="385.5" cy="456.2" r="2.2"/><circle cx="427.1" cy="486.2" r="2.7"/><circle cx="395.4" cy="493.7" r="2.5"/><circle cx="378" cy="433.9" r="2.5"/><circle cx="363.5" cy="450.8" r="2.4"/><circle cx="359.6" cy="489.9" r="2.4"/><circle cx="350" cy="449" r="2.5"/><circle cx="404.8" cy="527.8" r="2.9"/><circle cx="397.2" cy="426.7" r="2.5"/><circle cx="427.7" cy="475.5" r="2.2"/><circle cx="431.9" cy="443.7" r="2.7"/></g>
<g fill="#1c0ce0"><circle cx="431.3" cy="514.2" r="2.9"/><circle cx="410" cy="431.2" r="2.6"/><circle cx="435.6" cy="527.7" r="2.5"/><circle cx="349.2" cy="430.5" r="3"/><circle cx="367" cy="465.1" r="2.8"/><circle cx="335.9" cy="487.4" r="2.3"/><circle cx="389.8" cy="425.1" r="2.5"/><circle cx="410.7" cy="527.2" r="2.7"/><circle cx="315" cy="516.3" r="2.8"/><circle cx="380" cy="529.2" r="2.4"/><circle cx="366.6" cy="433.5" r="2.4"/><circle cx="353.8" cy="461.3" r="2.8"/><circle cx="391.9" cy="489.3" r="2.4"/><circle cx="338.2" cy="435.9" r="2.2"/><circle cx="351.4" cy="503.5" r="2.3"/><circle cx="316.8" cy="446.4" r="2.8"/><circle cx="411" cy="437.2" r="2.5"/><circle cx="390.8" cy="517.5" r="2.5"/><circle cx="344.7" cy="485.7" r="2.6"/><circle cx="370.4" cy="455.4" r="2.8"/><circle cx="388.8" cy="433.4" r="2.7"/><circle cx="315.6" cy="462.4" r="2.5"/><circle cx="411.8" cy="511.1" r="2.3"/><circle cx="335.2" cy="510.6" r="2.8"/><circle cx="389.9" cy="495" r="2.6"/><circle cx="394" cy="453.7" r="2.4"/><circle cx="424.9" cy="452.6" r="2.6"/><circle cx="345.7" cy="471.3" r="2.3"/><circle cx="396.2" cy="508.4" r="2.7"/><circle cx="422.6" cy="500" r="3"/><circle cx="385.2" cy="490.2" r="2.4"/><circle cx="343.6" cy="505.4" r="2.6"/><circle cx="342.6" cy="452.6" r="2.6"/><circle cx="326.6" cy="523.6" r="2.8"/><circle cx="389.5" cy="509.3" r="2.3"/><circle cx="428.7" cy="441.9" r="2.5"/><circle cx="365.6" cy="528.6" r="2.4"/><circle cx="370.6" cy="524.6" r="3"/><circle cx="321.2" cy="509.6" r="2.5"/><circle cx="320.7" cy="514.7" r="2.2"/><circle cx="370.4" cy="480.5" r="2.9"/><circle cx="312.3" cy="492.9" r="2.9"/><circle cx="340.6" cy="428.5" r="2.4"/><circle cx="367.5" cy="446.5" r="2.3"/><circle cx="325.9" cy="427.2" r="2.2"/><circle cx="329" cy="446.1" r="2.8"/><circle cx="345.7" cy="445.8" r="2.5"/><circle cx="390.4" cy="522.5" r="2.6"/><circle cx="342.4" cy="447.4" r="2.3"/><circle cx="333" cy="477" r="2.2"/><circle cx="398.4" cy="512.6" r="2.7"/><circle cx="339.4" cy="505.5" r="2.4"/><circle cx="435.4" cy="460.2" r="2.7"/><circle cx="413.8" cy="459" r="2.2"/><circle cx="379.6" cy="481" r="2.8"/><circle cx="346.1" cy="510.7" r="2.9"/><circle cx="334.8" cy="446" r="2.6"/><circle cx="383.7" cy="484.2" r="2.4"/><circle cx="334.2" cy="482.3" r="3"/><circle cx="415.4" cy="444.3" r="2.4"/><circle cx="429.1" cy="483.8" r="2.4"/><circle cx="434.5" cy="496.1" r="2.6"/><circle cx="427.1" cy="460.6" r="2.5"/><circle cx="312.4" cy="431.2" r="2.9"/><circle cx="419.1" cy="500.8" r="2.3"/><circle cx="409.3" cy="468.8" r="2.6"/><circle cx="324.6" cy="482.3" r="2.9"/><circle cx="322.7" cy="435.5" r="2.5"/><circle cx="436.5" cy="510.4" r="2.5"/><circle cx="425.3" cy="512.8" r="2.5"/><circle cx="416.4" cy="477.4" r="2.6"/><circle cx="386.2" cy="463.6" r="2.5"/><circle cx="414.4" cy="486.5" r="2.7"/><circle cx="342" cy="528.8" r="2.8"/><circle cx="357.3" cy="466.7" r="2.7"/><circle cx="435.1" cy="489" r="2.5"/><circle cx="317.6" cy="529.6" r="2.8"/><circle cx="318" cy="525.8" r="2.3"/><circle cx="389.6" cy="477.2" r="2.5"/><circle cx="313" cy="456.1" r="3"/><circle cx="358.8" cy="496.4" r="2.7"/><circle cx="371.2" cy="436.9" r="2.4"/><circle cx="338.2" cy="479.4" r="2.8"/><circle cx="374.7" cy="478.8" r="2.4"/><circle cx="386.5" cy="515.4" r="2.5"/><circle cx="330.4" cy="495.2" r="2.7"/><circle cx="312.4" cy="510.1" r="2.9"/><circle cx="360.6" cy="478.2" r="2.5"/><circle cx="436.3" cy="426.1" r="2.5"/><circle cx="431" cy="518.4" r="2.8"/><circle cx="426.4" cy="492.5" r="2.8"/><circle cx="324.3" cy="449.3" r="2.5"/><circle cx="404.1" cy="427.8" r="3"/><circle cx="343.8" cy="436.8" r="2.6"/><circle cx="315.2" cy="468.8" r="2.3"/><circle cx="374.4" cy="488.1" r="2.6"/><circle cx="429.8" cy="471.3" r="2.8"/></g>
<g fill="#1808c8"><circle cx="429.6" cy="479.8" r="3"/><circle cx="371.5" cy="515" r="2.5"/><circle cx="342.2" cy="464.5" r="2.7"/><circle cx="323.9" cy="489.5" r="2.8"/><circle cx="348.4" cy="437.4" r="2.4"/><circle cx="382.6" cy="442.5" r="2.3"/><circle cx="373.6" cy="506.2" r="2.9"/><circle cx="382" cy="477.8" r="3"/><circle cx="372.1" cy="448.9" r="2.9"/><circle cx="355.9" cy="502.4" r="2.3"/><circle cx="357.6" cy="476.7" r="2.3"/><circle cx="374.1" cy="500.4" r="2.9"/><circle cx="332.2" cy="490.5" r="2.8"/><circle cx="430.1" cy="521.4" r="2.2"/><circle cx="318.9" cy="519.2" r="2.6"/><circle cx="352.1" cy="488.9" r="2.7"/><circle cx="351.7" cy="442.9" r="2.3"/><circle cx="333.8" cy="461.2" r="2.2"/><circle cx="321.8" cy="480.1" r="2.3"/><circle cx="418.4" cy="459.1" r="2.9"/><circle cx="356.6" cy="505.1" r="2.3"/><circle cx="396.9" cy="444.8" r="2.4"/><circle cx="374.7" cy="437.8" r="2.3"/><circle cx="332.7" cy="443.3" r="2.6"/><circle cx="355.8" cy="438.8" r="2.6"/><circle cx="343.4" cy="467.9" r="2.6"/><circle cx="410.7" cy="452.4" r="2.3"/><circle cx="341.3" cy="525.4" r="2.6"/><circle cx="357.2" cy="460.6" r="2.9"/><circle cx="366.7" cy="512.8" r="2.4"/><circle cx="377.8" cy="464.7" r="2.6"/><circle cx="403.7" cy="455.9" r="2.6"/><circle cx="429" cy="525.1" r="2.8"/><circle cx="415.4" cy="511.3" r="2.6"/><circle cx="422.1" cy="487.8" r="2.9"/><circle cx="436.1" cy="500" r="2.7"/><circle cx="411.7" cy="444.9" r="2.9"/><circle cx="380.3" cy="484.4" r="2.3"/><circle cx="423.2" cy="435.7" r="2.9"/><circle cx="345.6" cy="451.5" r="2.3"/><circle cx="345.8" cy="434.2" r="2.6"/><circle cx="364.2" cy="470.7" r="2.6"/><circle cx="431.5" cy="449.7" r="2.8"/><circle cx="355.1" cy="445.9" r="2.5"/><circle cx="345.4" cy="479.2" r="2.7"/><circle cx="361.9" cy="483.2" r="2.8"/><circle cx="380.3" cy="492.2" r="2.3"/><circle cx="404.2" cy="433.8" r="2.3"/><circle cx="373.8" cy="517.3" r="2.7"/><circle cx="432.2" cy="486.9" r="2.7"/><circle cx="327.6" cy="505" r="2.3"/><circle cx="349.2" cy="498.8" r="2.4"/><circle cx="322" cy="432.6" r="2.3"/><circle cx="404.4" cy="523.2" r="2.4"/><circle cx="385.7" cy="432.6" r="2.4"/><circle cx="420.8" cy="470.8" r="2.8"/><circle cx="435.3" cy="447.3" r="2.5"/><circle cx="350.2" cy="528.3" r="2.3"/><circle cx="376.9" cy="454.6" r="2.7"/><circle cx="382.1" cy="520.8" r="2.8"/><circle cx="418.6" cy="442.4" r="2.9"/><circle cx="312.4" cy="526.3" r="2.4"/><circle cx="423.7" cy="522.1" r="2.6"/><circle cx="429.3" cy="456.7" r="2.7"/><circle cx="369.9" cy="529.5" r="3"/><circle cx="414.8" cy="450.1" r="2.8"/><circle cx="376" cy="528.2" r="2.4"/><circle cx="348.1" cy="462.3" r="3"/><circle cx="404.9" cy="491" r="2.9"/><circle cx="324.7" cy="513.5" r="2.4"/><circle cx="416" cy="490.4" r="2.8"/><circle cx="423.8" cy="426.7" r="2.6"/><circle cx="403.9" cy="450.9" r="2.4"/><circle cx="408.7" cy="458" r="2.7"/><circle cx="353.6" cy="500.4" r="2.3"/><circle cx="333.1" cy="504" r="2.5"/><circle cx="388.9" cy="481.1" r="2.9"/><circle cx="396" cy="504.4" r="2.8"/><circle cx="335.4" cy="527.8" r="2.7"/><circle cx="322.3" cy="504.5" r="3"/><circle cx="354" cy="512.7" r="2.3"/><circle cx="396.7" cy="436" r="2.8"/><circle cx="325.3" cy="486.6" r="2.5"/><circle cx="432.5" cy="467.3" r="2.5"/><circle cx="369.1" cy="461.4" r="2.7"/><circle cx="382.8" cy="453.6" r="2.4"/><circle cx="431.6" cy="529" r="3"/><circle cx="349.3" cy="479.9" r="2.4"/><circle cx="401.7" cy="516.5" r="2.3"/><circle cx="420.7" cy="508.7" r="2.4"/><circle cx="398" cy="449.2" r="2.3"/><circle cx="434.1" cy="517.1" r="2.3"/><circle cx="315.2" cy="491.4" r="2.3"/><circle cx="364" cy="462.6" r="2.8"/><circle cx="420.8" cy="450.1" r="2.4"/><circle cx="356.4" cy="480.8" r="2.9"/><circle cx="353.5" cy="478.5" r="2.8"/><circle cx="336.7" cy="460.8" r="2.5"/><circle cx="351.1" cy="470.8" r="2.3"/><circle cx="381.1" cy="495.8" r="2.4"/><circle cx="339" cy="487.4" r="2.5"/><circle cx="336.6" cy="439.5" r="2.3"/><circle cx="405.3" cy="459.5" r="2.6"/><circle cx="342.4" cy="517" r="2.6"/><circle cx="332" cy="512.9" r="2.9"/><circle cx="326.7" cy="516.4" r="2.3"/><circle cx="341.8" cy="490.4" r="3"/><circle cx="429.4" cy="497.9" r="2.7"/><circle cx="405.9" cy="472.4" r="2.8"/><circle cx="428.7" cy="463.5" r="2.3"/><circle cx="330.9" cy="434.4" r="2.3"/><circle cx="405.7" cy="508.2" r="2.2"/><circle cx="404.7" cy="496.6" r="2.7"/><circle cx="373.6" cy="431.8" r="3"/></g>
<g fill="#1406b0"><circle cx="355.2" cy="427.5" r="2.7"/><circle cx="318.3" cy="427.5" r="2.7"/><circle cx="339.8" cy="440.9" r="2.5"/><circle cx="405" cy="446" r="2.8"/><circle cx="396" cy="524.6" r="2.6"/><circle cx="326.9" cy="435.4" r="2.4"/><circle cx="383.8" cy="447.2" r="2.8"/><circle cx="391.4" cy="443.6" r="2.6"/><circle cx="412.5" cy="514.5" r="2.4"/><circle cx="392.6" cy="439.9" r="2.6"/><circle cx="407.9" cy="512.6" r="2.2"/><circle cx="398.1" cy="521.2" r="2.7"/><circle cx="433.4" cy="434.2" r="2.7"/><circle cx="427.2" cy="434.1" r="2.4"/><circle cx="322.8" cy="496.6" r="2.3"/><circle cx="421.4" cy="431" r="2.9"/><circle cx="333.2" cy="432.3" r="3"/><circle cx="426.6" cy="437.8" r="2.5"/><circle cx="432.4" cy="491.4" r="2.2"/><circle cx="325.7" cy="453.8" r="2.7"/><circle cx="362.7" cy="525.6" r="2.6"/><circle cx="354.1" cy="508.6" r="2.9"/><circle cx="431.6" cy="461.9" r="2.8"/><circle cx="381.9" cy="488.8" r="2.2"/><circle cx="381.5" cy="499.7" r="2.3"/><circle cx="368.9" cy="429" r="2.3"/><circle cx="313.9" cy="440.2" r="3"/><circle cx="369.7" cy="504.5" r="2.8"/><circle cx="363.5" cy="425" r="2.6"/><circle cx="433.3" cy="426.8" r="2.5"/><circle cx="354.8" cy="468.8" r="2.2"/><circle cx="348.3" cy="441.9" r="2.9"/><circle cx="328.2" cy="489.4" r="2.3"/><circle cx="374.7" cy="446" r="2.8"/><circle cx="345.7" cy="429.3" r="2.4"/><circle cx="388" cy="438.2" r="2.3"/><circle cx="385.1" cy="472.1" r="2.5"/><circle cx="419.1" cy="504.4" r="2.8"/><circle cx="342" cy="481.6" r="3"/><circle cx="352.3" cy="465.5" r="2.9"/><circle cx="356.1" cy="517.4" r="2.4"/><circle cx="397.8" cy="452.2" r="2.5"/><circle cx="378.8" cy="425.9" r="2.2"/><circle cx="384" cy="503.4" r="2.8"/><circle cx="317.5" cy="495" r="2.5"/><circle cx="332.5" cy="473.1" r="2.2"/><circle cx="332.1" cy="439.7" r="2.2"/><circle cx="404.5" cy="517.2" r="2.4"/><circle cx="420" cy="519.3" r="2.4"/><circle cx="362.4" cy="436.7" r="3"/><circle cx="369.6" cy="451.4" r="2.3"/><circle cx="427.8" cy="445.4" r="2.6"/><circle cx="325" cy="527" r="2.3"/><circle cx="338.2" cy="496.3" r="2.9"/><circle cx="393.6" cy="450.7" r="2.3"/><circle cx="392.5" cy="484.8" r="2.3"/><circle cx="315.7" cy="519.5" r="2.5"/><circle cx="330.8" cy="449.6" r="2.4"/><circle cx="348" cy="475.6" r="2.8"/><circle cx="402.9" cy="476" r="2.5"/><circle cx="361.8" cy="494" r="3"/><circle cx="327.5" cy="460.5" r="2.2"/><circle cx="401.8" cy="447.9" r="2.7"/><circle cx="321.8" cy="485.4" r="2.5"/><circle cx="314" cy="436.4" r="2.6"/><circle cx="412.2" cy="463.3" r="2.8"/><circle cx="314.9" cy="500.2" r="2.9"/><circle cx="338.2" cy="452.5" r="2.6"/><circle cx="359.6" cy="451.3" r="2.3"/><circle cx="364.6" cy="492.6" r="2.2"/><circle cx="343.1" cy="459.5" r="2.9"/><circle cx="379.3" cy="446.6" r="2.3"/><circle cx="328.4" cy="498.3" r="2.8"/><circle cx="390.2" cy="454" r="2.4"/><circle cx="357.3" cy="455.6" r="2.5"/><circle cx="393.6" cy="458" r="2.9"/><circle cx="365.2" cy="448.4" r="2.3"/><circle cx="318.5" cy="482.3" r="2.3"/><circle cx="405.4" cy="513.7" r="2.4"/><circle cx="358.5" cy="425.7" r="3"/><circle cx="431.8" cy="509" r="2.8"/><circle cx="430.7" cy="505.4" r="2.5"/><circle cx="359.5" cy="444.4" r="2.2"/><circle cx="338.5" cy="470.7" r="2.2"/><circle cx="354.2" cy="456.9" r="2.7"/><circle cx="423.9" cy="458.3" r="2.8"/><circle cx="339.8" cy="425" r="2.5"/><circle cx="346.7" cy="525.4" r="2.4"/><circle cx="324.4" cy="467.7" r="2.6"/><circle cx="346.3" cy="482.9" r="2.2"/><circle cx="353.4" cy="522" r="3"/><circle cx="368.7" cy="483.7" r="2.5"/><circle cx="436.5" cy="432.8" r="2.9"/><circle cx="358.5" cy="522.3" r="2.5"/><circle cx="424.8" cy="462.7" r="2.6"/><circle cx="436.6" cy="492.4" r="2.8"/><circle cx="312.3" cy="504.7" r="2.6"/><circle cx="342.5" cy="509.8" r="2.9"/><circle cx="374.2" cy="451.3" r="2.5"/></g>
<g fill="#50f0a0"><ellipse cx="426.6" cy="483.3" rx="2.4" ry="1.8" transform="rotate(110 426.6 483.3)"/><ellipse cx="406.3" cy="462.4" rx="2.1" ry="1.6" transform="rotate(41 406.3 462.4)"/><ellipse cx="320.2" cy="481.3" rx="2.5" ry="1.9" transform="rotate(140 320.2 481.3)"/><ellipse cx="365.9" cy="441.7" rx="2.4" ry="1.8" transform="rotate(22 365.9 441.7)"/><ellipse cx="426" cy="504" rx="2" ry="1.5" transform="rotate(151 426 504)"/><ellipse cx="376.7" cy="485.8" rx="2.4" ry="1.8" transform="rotate(56 376.7 485.8)"/><ellipse cx="396.7" cy="476.2" rx="2.2" ry="1.7" transform="rotate(40 396.7 476.2)"/><ellipse cx="410.6" cy="438.8" rx="2.4" ry="1.8" transform="rotate(127 410.6 438.8)"/><ellipse cx="405" cy="450.5" rx="2.5" ry="1.9" transform="rotate(139 405 450.5)"/><ellipse cx="420" cy="441.9" rx="2.6" ry="2" transform="rotate(173 420 441.9)"/><ellipse cx="355.3" cy="431.8" rx="2.4" ry="1.8" transform="rotate(52 355.3 431.8)"/><ellipse cx="318.2" cy="481.7" rx="2" ry="1.5" transform="rotate(129 318.2 481.7)"/><ellipse cx="375.3" cy="481.5" rx="2.2" ry="1.7" transform="rotate(169 375.3 481.5)"/><ellipse cx="346.6" cy="477.9" rx="2.7" ry="2" transform="rotate(150 346.6 477.9)"/><ellipse cx="346.6" cy="466.3" rx="2" ry="1.5" transform="rotate(80 346.6 466.3)"/><ellipse cx="389.4" cy="436.7" rx="2.4" ry="1.8" transform="rotate(167 389.4 436.7)"/><ellipse cx="392.5" cy="468" rx="2.1" ry="1.6" transform="rotate(165 392.5 468)"/><ellipse cx="332.4" cy="436.2" rx="2.1" ry="1.6" transform="rotate(156 332.4 436.2)"/><ellipse cx="318.3" cy="499.3" rx="2.1" ry="1.6" transform="rotate(93 318.3 499.3)"/><ellipse cx="432.6" cy="488.6" rx="2" ry="1.5" transform="rotate(20 432.6 488.6)"/><ellipse cx="410.7" cy="469.1" rx="2.5" ry="1.8" transform="rotate(78 410.7 469.1)"/><ellipse cx="386.3" cy="472.7" rx="2.4" ry="1.8" transform="rotate(49 386.3 472.7)"/><ellipse cx="418.1" cy="437" rx="2.4" ry="1.8" transform="rotate(114 418.1 437)"/><ellipse cx="341.2" cy="520.5" rx="2.3" ry="1.7" transform="rotate(74 341.2 520.5)"/><ellipse cx="365.5" cy="499.7" rx="2.1" ry="1.6" transform="rotate(79 365.5 499.7)"/><ellipse cx="394.1" cy="452.5" rx="2.7" ry="2" transform="rotate(128 394.1 452.5)"/><ellipse cx="320.7" cy="521.5" rx="2" ry="1.5" transform="rotate(143 320.7 521.5)"/><ellipse cx="421.3" cy="443.1" rx="2.2" ry="1.6" transform="rotate(120 421.3 443.1)"/><ellipse cx="404.9" cy="477.2" rx="2.7" ry="2" transform="rotate(29 404.9 477.2)"/><ellipse cx="381.3" cy="451" rx="2.2" ry="1.6" transform="rotate(81 381.3 451)"/><ellipse cx="326.2" cy="470" rx="2" ry="1.5" transform="rotate(24 326.2 470)"/><ellipse cx="401.6" cy="493.7" rx="2" ry="1.5" transform="rotate(145 401.6 493.7)"/><ellipse cx="384.8" cy="465.2" rx="2.5" ry="1.9" transform="rotate(35 384.8 465.2)"/><ellipse cx="371.2" cy="523.7" rx="2.1" ry="1.6" transform="rotate(124 371.2 523.7)"/><ellipse cx="405.4" cy="481.9" rx="2.2" ry="1.7" transform="rotate(88 405.4 481.9)"/><ellipse cx="379" cy="498.2" rx="2.1" ry="1.5" transform="rotate(175 379 498.2)"/><ellipse cx="353.7" cy="459.6" rx="2.7" ry="2.1" transform="rotate(24 353.7 459.6)"/><ellipse cx="432" cy="461.4" rx="2.1" ry="1.6" transform="rotate(100 432 461.4)"/><ellipse cx="394.7" cy="505.2" rx="2" ry="1.5" transform="rotate(92 394.7 505.2)"/></g>
<g fill="#70f8b8"><ellipse cx="392.7" cy="442" rx="2.7" ry="2" transform="rotate(132 392.7 442)"/><ellipse cx="403.7" cy="479.9" rx="2.1" ry="1.6" transform="rotate(63 403.7 479.9)"/><ellipse cx="366.9" cy="435.9" rx="1.9" ry="1.4" transform="rotate(43 366.9 435.9)"/><ellipse cx="368.5" cy="512.3" rx="2.5" ry="1.9" transform="rotate(103 368.5 512.3)"/><ellipse cx="383.1" cy="500.3" rx="2.6" ry="1.9" transform="rotate(25 383.1 500.3)"/><ellipse cx="360.9" cy="475.7" rx="2.1" ry="1.6" transform="rotate(102 360.9 475.7)"/><ellipse cx="318.3" cy="512.7" rx="2.3" ry="1.8" transform="rotate(136 318.3 512.7)"/><ellipse cx="324.6" cy="518" rx="2.6" ry="2" transform="rotate(60 324.6 518)"/><ellipse cx="427.6" cy="481.8" rx="2.1" ry="1.6" transform="rotate(107 427.6 481.8)"/><ellipse cx="333.6" cy="505.4" rx="2.1" ry="1.6" transform="rotate(123 333.6 505.4)"/><ellipse cx="386.6" cy="438" rx="2.1" ry="1.6" transform="rotate(82 386.6 438)"/><ellipse cx="371.3" cy="437.6" rx="2.7" ry="2" transform="rotate(57 371.3 437.6)"/><ellipse cx="322.1" cy="454.5" rx="2.6" ry="2" transform="rotate(87 322.1 454.5)"/><ellipse cx="318.5" cy="489.6" rx="2.2" ry="1.7" transform="rotate(56 318.5 489.6)"/><ellipse cx="381" cy="485.3" rx="2.2" ry="1.6" transform="rotate(33 381 485.3)"/><ellipse cx="367.8" cy="501.1" rx="2.6" ry="1.9" transform="rotate(36 367.8 501.1)"/><ellipse cx="333" cy="501.4" rx="2" ry="1.5" transform="rotate(47 333 501.4)"/><ellipse cx="369.8" cy="479.5" rx="2.8" ry="2.1" transform="rotate(172 369.8 479.5)"/><ellipse cx="367.5" cy="489.9" rx="2.4" ry="1.8" transform="rotate(28 367.5 489.9)"/><ellipse cx="409.3" cy="435" rx="2.6" ry="2" transform="rotate(0 409.3 435)"/><ellipse cx="342.9" cy="476" rx="2.5" ry="1.9" transform="rotate(75 342.9 476)"/><ellipse cx="388.2" cy="512" rx="1.9" ry="1.5" transform="rotate(66 388.2 512)"/><ellipse cx="393.7" cy="449.9" rx="2.2" ry="1.7" transform="rotate(113 393.7 449.9)"/><ellipse cx="325.3" cy="472.6" rx="2.7" ry="2.1" transform="rotate(64 325.3 472.6)"/><ellipse cx="338" cy="514.8" rx="2.5" ry="1.8" transform="rotate(159 338 514.8)"/><ellipse cx="351.2" cy="445.8" rx="2.7" ry="2" transform="rotate(151 351.2 445.8)"/><ellipse cx="401.8" cy="470.3" rx="2.6" ry="1.9" transform="rotate(138 401.8 470.3)"/><ellipse cx="328.9" cy="449.4" rx="2.2" ry="1.6" transform="rotate(102 328.9 449.4)"/><ellipse cx="324.2" cy="479" rx="2.2" ry="1.6" transform="rotate(29 324.2 479)"/><ellipse cx="410.8" cy="482.9" rx="2.2" ry="1.7" transform="rotate(144 410.8 482.9)"/><ellipse cx="405.7" cy="496.3" rx="2.7" ry="2" transform="rotate(147 405.7 496.3)"/><ellipse cx="411.6" cy="465.5" rx="2.2" ry="1.6" transform="rotate(121 411.6 465.5)"/><ellipse cx="404.2" cy="499.6" rx="2.1" ry="1.6" transform="rotate(152 404.2 499.6)"/><ellipse cx="418.9" cy="478.6" rx="2.7" ry="2" transform="rotate(105 418.9 478.6)"/><ellipse cx="392.7" cy="499.1" rx="2.7" ry="2" transform="rotate(167 392.7 499.1)"/><ellipse cx="336.2" cy="499.2" rx="2.1" ry="1.6" transform="rotate(73 336.2 499.2)"/><ellipse cx="428.3" cy="509.9" rx="2.6" ry="1.9" transform="rotate(83 428.3 509.9)"/><ellipse cx="333.3" cy="507.7" rx="2.6" ry="1.9" transform="rotate(78 333.3 507.7)"/><ellipse cx="355.4" cy="448.2" rx="2.6" ry="1.9" transform="rotate(19 355.4 448.2)"/></g>
<g fill="#40e090"><ellipse cx="426.1" cy="487.9" rx="2.6" ry="1.9" transform="rotate(30 426.1 487.9)"/><ellipse cx="324.3" cy="442.1" rx="2.6" ry="1.9" transform="rotate(45 324.3 442.1)"/><ellipse cx="374.5" cy="430.9" rx="1.9" ry="1.4" transform="rotate(86 374.5 430.9)"/><ellipse cx="353.1" cy="462" rx="2.6" ry="2" transform="rotate(9 353.1 462)"/><ellipse cx="357.7" cy="496.1" rx="2.2" ry="1.6" transform="rotate(110 357.7 496.1)"/><ellipse cx="417.5" cy="513.8" rx="2.6" ry="2" transform="rotate(138 417.5 513.8)"/><ellipse cx="321.1" cy="490.9" rx="2.6" ry="2" transform="rotate(86 321.1 490.9)"/><ellipse cx="414.5" cy="432.1" rx="2.4" ry="1.8" transform="rotate(49 414.5 432.1)"/><ellipse cx="398.3" cy="456.6" rx="2.5" ry="1.9" transform="rotate(175 398.3 456.6)"/><ellipse cx="331.7" cy="488.6" rx="2.2" ry="1.6" transform="rotate(102 331.7 488.6)"/><ellipse cx="332.3" cy="456.6" rx="2.7" ry="2" transform="rotate(81 332.3 456.6)"/><ellipse cx="426.2" cy="447.5" rx="2.3" ry="1.7" transform="rotate(36 426.2 447.5)"/><ellipse cx="319.8" cy="439.4" rx="2.6" ry="1.9" transform="rotate(158 319.8 439.4)"/><ellipse cx="427.4" cy="472.7" rx="2.4" ry="1.8" transform="rotate(143 427.4 472.7)"/><ellipse cx="402.9" cy="460.6" rx="2.6" ry="1.9" transform="rotate(65 402.9 460.6)"/><ellipse cx="351.7" cy="440.2" rx="2.7" ry="2.1" transform="rotate(102 351.7 440.2)"/><ellipse cx="401.7" cy="428.6" rx="2.2" ry="1.6" transform="rotate(82 401.7 428.6)"/><ellipse cx="358.8" cy="490.5" rx="2.1" ry="1.6" transform="rotate(92 358.8 490.5)"/><ellipse cx="402.8" cy="445.5" rx="2.7" ry="2.1" transform="rotate(117 402.8 445.5)"/><ellipse cx="411.8" cy="471.8" rx="2.4" ry="1.8" transform="rotate(177 411.8 471.8)"/><ellipse cx="333.1" cy="468" rx="2.5" ry="1.9" transform="rotate(14 333.1 468)"/><ellipse cx="380.5" cy="439.4" rx="2.4" ry="1.8" transform="rotate(112 380.5 439.4)"/><ellipse cx="364.8" cy="522.7" rx="2.5" ry="1.9" transform="rotate(97 364.8 522.7)"/><ellipse cx="344.7" cy="466.5" rx="2.7" ry="2" transform="rotate(93 344.7 466.5)"/><ellipse cx="326.8" cy="479.7" rx="2.4" ry="1.8" transform="rotate(132 326.8 479.7)"/><ellipse cx="322.3" cy="509.3" rx="2.3" ry="1.7" transform="rotate(168 322.3 509.3)"/><ellipse cx="402.4" cy="503.1" rx="2.4" ry="1.8" transform="rotate(91 402.4 503.1)"/><ellipse cx="387.3" cy="460.1" rx="2.3" ry="1.8" transform="rotate(174 387.3 460.1)"/><ellipse cx="411.3" cy="497.9" rx="2.7" ry="2" transform="rotate(154 411.3 497.9)"/><ellipse cx="429.5" cy="510.2" rx="2.7" ry="2" transform="rotate(1 429.5 510.2)"/><ellipse cx="430.6" cy="462.1" rx="2.5" ry="1.9" transform="rotate(38 430.6 462.1)"/><ellipse cx="363.4" cy="458.9" rx="2.2" ry="1.6" transform="rotate(18 363.4 458.9)"/><ellipse cx="335.7" cy="485.6" rx="2.3" ry="1.7" transform="rotate(114 335.7 485.6)"/><ellipse cx="373.7" cy="495.7" rx="2.3" ry="1.7" transform="rotate(32 373.7 495.7)"/></g>
<g fill="#90ffd0"><ellipse cx="317.4" cy="464.2" rx="2.7" ry="2" transform="rotate(109 317.4 464.2)"/><ellipse cx="393.7" cy="430.8" rx="2.7" ry="2" transform="rotate(162 393.7 430.8)"/><ellipse cx="333.7" cy="484.5" rx="2.1" ry="1.6" transform="rotate(75 333.7 484.5)"/><ellipse cx="399.5" cy="458.6" rx="2.3" ry="1.7" transform="rotate(55 399.5 458.6)"/><ellipse cx="362.1" cy="490.9" rx="2.2" ry="1.6" transform="rotate(98 362.1 490.9)"/><ellipse cx="376.9" cy="494.2" rx="2.6" ry="2" transform="rotate(167 376.9 494.2)"/><ellipse cx="419.5" cy="519.1" rx="2.2" ry="1.7" transform="rotate(146 419.5 519.1)"/><ellipse cx="318.8" cy="521.5" rx="2.7" ry="2" transform="rotate(169 318.8 521.5)"/><ellipse cx="394.3" cy="485.5" rx="2.4" ry="1.8" transform="rotate(135 394.3 485.5)"/><ellipse cx="371.2" cy="513.3" rx="2" ry="1.5" transform="rotate(148 371.2 513.3)"/><ellipse cx="363" cy="493" rx="2.6" ry="2" transform="rotate(165 363 493)"/><ellipse cx="395.6" cy="507.3" rx="1.9" ry="1.4" transform="rotate(70 395.6 507.3)"/><ellipse cx="391.7" cy="520.8" rx="2.5" ry="1.9" transform="rotate(15 391.7 520.8)"/><ellipse cx="432.5" cy="439.6" rx="2.3" ry="1.7" transform="rotate(149 432.5 439.6)"/><ellipse cx="355.2" cy="509" rx="2.1" ry="1.6" transform="rotate(166 355.2 509)"/><ellipse cx="373" cy="509.3" rx="2.5" ry="1.9" transform="rotate(27 373 509.3)"/><ellipse cx="389.8" cy="495.4" rx="2.5" ry="1.9" transform="rotate(156 389.8 495.4)"/><ellipse cx="427.2" cy="493" rx="2.1" ry="1.6" transform="rotate(143 427.2 493)"/><ellipse cx="428.2" cy="437.9" rx="2.1" ry="1.5" transform="rotate(83 428.2 437.9)"/><ellipse cx="322.6" cy="476.5" rx="2.5" ry="1.9" transform="rotate(158 322.6 476.5)"/><ellipse cx="424.3" cy="524" rx="2.7" ry="2" transform="rotate(23 424.3 524)"/><ellipse cx="399.6" cy="433.3" rx="2.6" ry="2" transform="rotate(43 399.6 433.3)"/><ellipse cx="398.5" cy="519.6" rx="2.2" ry="1.7" transform="rotate(24 398.5 519.6)"/><ellipse cx="410.9" cy="452" rx="2.1" ry="1.6" transform="rotate(22 410.9 452)"/><ellipse cx="327.6" cy="503.7" rx="2" ry="1.5" transform="rotate(9 327.6 503.7)"/><ellipse cx="409.4" cy="506.3" rx="2.3" ry="1.7" transform="rotate(85 409.4 506.3)"/><ellipse cx="398.7" cy="493.4" rx="2.5" ry="1.9" transform="rotate(145 398.7 493.4)"/><ellipse cx="328.5" cy="504.2" rx="2.4" ry="1.8" transform="rotate(14 328.5 504.2)"/></g>
</g></g>
<rect x="420.7" y="522.6" width="9.5" height="1.8" fill="#fff" />
<rect x="437.4" y="426.5" width="121.9" height="101.2" fill="#02000c" />
<g clip-path="url(#cp2)"><g filter="url(#bl)">
<g fill="#2818ff"><circle cx="496.9" cy="500" r="2.8"/><circle cx="502.8" cy="475.5" r="3"/><circle cx="477.7" cy="467" r="2.8"/><circle cx="555.3" cy="513.5" r="3.1"/><circle cx="452.3" cy="512.1" r="2.9"/><circle cx="534.5" cy="425.6" r="2.9"/><circle cx="454.8" cy="433" r="3"/><circle cx="437.9" cy="474" r="2.4"/><circle cx="519.6" cy="480.3" r="3.1"/><circle cx="555.7" cy="526.8" r="2.6"/><circle cx="531.2" cy="449.4" r="3.1"/><circle cx="525.8" cy="483.6" r="2.7"/><circle cx="475.2" cy="434.7" r="2.3"/><circle cx="560.1" cy="519.2" r="2.9"/><circle cx="458.2" cy="469.5" r="3"/><circle cx="492.9" cy="434.6" r="2.7"/><circle cx="511.7" cy="451" r="2.8"/><circle cx="508.4" cy="485.3" r="2.6"/><circle cx="539.7" cy="445.4" r="3.2"/><circle cx="447.6" cy="433.8" r="2.9"/><circle cx="508.3" cy="505.9" r="3.2"/><circle cx="500.9" cy="430.9" r="3.1"/><circle cx="539.7" cy="505.7" r="2.9"/><circle cx="519.4" cy="427.3" r="2.3"/><circle cx="559.6" cy="459.1" r="2.3"/><circle cx="531" cy="492.6" r="2.7"/><circle cx="551.7" cy="433" r="2.8"/><circle cx="510.7" cy="475.5" r="2.8"/><circle cx="551.4" cy="477.2" r="3"/><circle cx="440.3" cy="429.7" r="3"/><circle cx="474.7" cy="442.7" r="2.5"/><circle cx="468.8" cy="444.8" r="2.7"/><circle cx="514" cy="425.4" r="3.2"/><circle cx="444.9" cy="442.1" r="2.8"/><circle cx="456.5" cy="518.9" r="2.8"/><circle cx="440.3" cy="522" r="3.1"/><circle cx="460.2" cy="524.6" r="2.6"/><circle cx="442.7" cy="479.2" r="2.9"/><circle cx="498.4" cy="523.9" r="2.9"/><circle cx="512.7" cy="481" r="2.3"/><circle cx="448.9" cy="465.5" r="3.2"/><circle cx="547.1" cy="520.7" r="2.4"/><circle cx="474.5" cy="463.5" r="2.5"/><circle cx="491.1" cy="503.2" r="2.6"/><circle cx="509.7" cy="500.4" r="2.9"/><circle cx="476.8" cy="499.1" r="2.5"/><circle cx="469.7" cy="474.6" r="2.4"/><circle cx="478.4" cy="477.2" r="3"/></g>
<g fill="#2010f0"><circle cx="482.5" cy="477.2" r="2.4"/><circle cx="550.9" cy="494.2" r="2.3"/><circle cx="540.4" cy="438.7" r="3.1"/><circle cx="474.4" cy="524.9" r="3.2"/><circle cx="523.5" cy="432.6" r="2.6"/><circle cx="515.2" cy="511.9" r="3.2"/><circle cx="470.9" cy="441.1" r="3"/><circle cx="510.8" cy="518.8" r="2.8"/><circle cx="494.8" cy="457" r="3.1"/><circle cx="556.5" cy="478" r="2.4"/><circle cx="557.1" cy="470.9" r="2.4"/><circle cx="536.8" cy="468.4" r="2.9"/><circle cx="527.9" cy="432.5" r="3.1"/><circle cx="547.3" cy="428" r="2.4"/><circle cx="545.3" cy="474.3" r="2.3"/><circle cx="506.9" cy="528.6" r="3.1"/><circle cx="471.4" cy="520" r="2.6"/><circle cx="480.1" cy="471.4" r="2.5"/><circle cx="503.3" cy="512.4" r="2.4"/><circle cx="435.7" cy="428.8" r="2.8"/><circle cx="494.8" cy="479.7" r="3.1"/><circle cx="557.2" cy="483.5" r="2.9"/><circle cx="443.3" cy="497.7" r="3.1"/><circle cx="527.5" cy="454.1" r="2.9"/><circle cx="560.3" cy="494.1" r="3.1"/><circle cx="555.5" cy="450.4" r="2.8"/><circle cx="553.4" cy="499.1" r="2.5"/><circle cx="544.1" cy="501.6" r="3.2"/><circle cx="519.8" cy="471.4" r="3"/><circle cx="437.5" cy="449.9" r="2.9"/><circle cx="540.9" cy="487.2" r="3.2"/><circle cx="503.4" cy="484.9" r="3.1"/><circle cx="549.1" cy="464.9" r="2.5"/><circle cx="442.2" cy="490.3" r="2.5"/><circle cx="463.6" cy="434.6" r="2.5"/><circle cx="478.9" cy="430" r="2.4"/><circle cx="488.5" cy="490.7" r="2.8"/><circle cx="460.5" cy="473.8" r="2.9"/><circle cx="482.9" cy="515.9" r="3.1"/><circle cx="534.6" cy="499.2" r="2.5"/><circle cx="486.6" cy="523.5" r="3.1"/><circle cx="501.3" cy="470.4" r="2.6"/><circle cx="549.4" cy="515.7" r="2.3"/><circle cx="497.3" cy="470.6" r="2.4"/></g>
<g fill="#1c0ce0"><circle cx="503.5" cy="454.2" r="3"/><circle cx="455.5" cy="449" r="2.9"/><circle cx="525.2" cy="475.3" r="2.6"/><circle cx="528.9" cy="487.1" r="3"/><circle cx="486.7" cy="461.2" r="2.8"/><circle cx="446" cy="461.3" r="2.9"/><circle cx="552.2" cy="521.8" r="3.1"/><circle cx="493.2" cy="516.2" r="2.7"/><circle cx="457.4" cy="501.1" r="3.1"/><circle cx="489.5" cy="470.3" r="2.7"/><circle cx="506.6" cy="495.3" r="2.5"/><circle cx="546" cy="443.2" r="3"/><circle cx="544.7" cy="450.2" r="2.5"/><circle cx="534.9" cy="432" r="2.8"/><circle cx="537.6" cy="463.9" r="2.5"/><circle cx="520.1" cy="457" r="2.7"/><circle cx="491" cy="462" r="2.5"/><circle cx="557.6" cy="497.6" r="2.7"/><circle cx="514.8" cy="431.6" r="3.2"/><circle cx="486.3" cy="441.9" r="2.6"/><circle cx="441.7" cy="450.8" r="2.8"/><circle cx="464.3" cy="515.7" r="3.1"/><circle cx="439.1" cy="440" r="2.9"/><circle cx="554.3" cy="491.1" r="2.4"/><circle cx="437" cy="508.7" r="2.7"/><circle cx="553.6" cy="437.1" r="2.9"/><circle cx="508.4" cy="471.8" r="2.4"/><circle cx="501.8" cy="446" r="2.3"/><circle cx="463.5" cy="510.4" r="3.1"/><circle cx="457.6" cy="510.9" r="3"/><circle cx="479.8" cy="521.1" r="3.1"/><circle cx="488.1" cy="480.8" r="2.7"/><circle cx="558.5" cy="509.9" r="2.3"/><circle cx="494.9" cy="444.9" r="3.1"/><circle cx="512.3" cy="466.2" r="2.9"/><circle cx="499.6" cy="504.5" r="2.9"/><circle cx="454.1" cy="482.4" r="2.4"/><circle cx="453.5" cy="527.5" r="2.7"/></g>
<g fill="#1808c8"><circle cx="525.7" cy="467.1" r="3.1"/><circle cx="485.5" cy="449.3" r="2.5"/><circle cx="449" cy="522.9" r="2.6"/><circle cx="510.8" cy="458.4" r="2.4"/><circle cx="504" cy="502.1" r="3"/><circle cx="444.4" cy="437.2" r="3.1"/><circle cx="454.2" cy="441.6" r="3.1"/><circle cx="458.8" cy="429.5" r="3"/><circle cx="532.8" cy="439.8" r="2.7"/><circle cx="529.5" cy="443.9" r="3.1"/><circle cx="523.5" cy="441.7" r="2.5"/><circle cx="461.2" cy="505.2" r="3"/><circle cx="483.2" cy="489.3" r="2.3"/><circle cx="482.1" cy="525.1" r="2.7"/><circle cx="503.5" cy="458.8" r="2.3"/><circle cx="461" cy="442.3" r="2.8"/><circle cx="531.3" cy="455.4" r="2.4"/><circle cx="528.1" cy="461.5" r="2.7"/><circle cx="473.7" cy="495.1" r="2.5"/><circle cx="447.7" cy="480.1" r="2.8"/><circle cx="446.4" cy="484.4" r="2.9"/><circle cx="507.7" cy="513.8" r="2.9"/><circle cx="450.5" cy="425.8" r="2.9"/><circle cx="552" cy="444.8" r="2.4"/><circle cx="450.2" cy="516.9" r="2.4"/><circle cx="480.7" cy="482.7" r="3"/><circle cx="489.3" cy="527.9" r="2.3"/><circle cx="538.4" cy="500.8" r="2.9"/><circle cx="556.7" cy="503.8" r="2.4"/><circle cx="474.3" cy="489.5" r="2.8"/><circle cx="517.2" cy="445.1" r="2.5"/><circle cx="435.9" cy="459.9" r="2.6"/><circle cx="524" cy="523.3" r="2.5"/><circle cx="467.8" cy="479.6" r="2.9"/><circle cx="530" cy="499.8" r="3.1"/><circle cx="541.3" cy="482.7" r="2.6"/><circle cx="529.1" cy="526.1" r="3.2"/><circle cx="542.1" cy="509.6" r="3.2"/><circle cx="480.8" cy="444.7" r="3"/><circle cx="532.9" cy="484.3" r="2.9"/><circle cx="559.8" cy="527.6" r="2.5"/><circle cx="522" cy="485.4" r="2.5"/><circle cx="520.9" cy="505" r="2.8"/><circle cx="551" cy="449.1" r="2.9"/><circle cx="505.8" cy="479.8" r="2.5"/><circle cx="559" cy="464" r="2.6"/><circle cx="526.9" cy="471.3" r="2.4"/><circle cx="503.2" cy="526.2" r="2.6"/><circle cx="436.5" cy="487.6" r="2.4"/><circle cx="545.2" cy="491.8" r="3"/><circle cx="552.4" cy="461.7" r="2.6"/><circle cx="539.1" cy="457.2" r="2.8"/><circle cx="540.6" cy="451.2" r="2.6"/><circle cx="530.4" cy="479.7" r="2.8"/></g>
<g fill="#1408b0"><circle cx="445.8" cy="508.6" r="2.4"/><circle cx="517.3" cy="476" r="2.5"/><circle cx="473.9" cy="428.4" r="3"/><circle cx="514.2" cy="471.6" r="3.1"/><circle cx="539.9" cy="525.2" r="2.8"/><circle cx="494.7" cy="463.8" r="2.4"/><circle cx="439.7" cy="513.4" r="2.9"/><circle cx="469.4" cy="527.7" r="3.1"/><circle cx="515.5" cy="488.7" r="3"/><circle cx="558.7" cy="435.9" r="2.8"/><circle cx="513.6" cy="461.5" r="2.3"/><circle cx="542" cy="463.4" r="3.2"/><circle cx="507.2" cy="461.4" r="2.3"/><circle cx="545.7" cy="433.8" r="2.9"/><circle cx="475.6" cy="458.3" r="2.7"/><circle cx="552.6" cy="486.3" r="2.7"/><circle cx="512.7" cy="442.8" r="2.9"/><circle cx="492.2" cy="485.4" r="2.4"/><circle cx="549.9" cy="457.5" r="2.3"/><circle cx="508.1" cy="490.3" r="2.9"/><circle cx="543.8" cy="469.6" r="3.1"/><circle cx="456.3" cy="425.6" r="2.7"/><circle cx="436.1" cy="523.9" r="2.4"/><circle cx="461.7" cy="496.9" r="3.2"/><circle cx="449.4" cy="495.4" r="3"/><circle cx="487.9" cy="427.7" r="2.3"/><circle cx="561.2" cy="503.4" r="2.5"/><circle cx="486.6" cy="433.2" r="2.4"/><circle cx="516.7" cy="500.8" r="3.1"/><circle cx="536.6" cy="475.8" r="3.1"/><circle cx="442.5" cy="527.7" r="2.8"/><circle cx="538" cy="514.7" r="3.1"/><circle cx="524.2" cy="451.1" r="2.7"/><circle cx="541.2" cy="475.9" r="2.8"/><circle cx="546.1" cy="506.4" r="3"/><circle cx="549.4" cy="468.8" r="2.4"/><circle cx="442.4" cy="455.5" r="2.3"/><circle cx="481.1" cy="436.1" r="2.5"/><circle cx="500.3" cy="481.6" r="2.3"/><circle cx="557.1" cy="446.4" r="2.4"/><circle cx="463" cy="467.5" r="3.2"/><circle cx="518" cy="466.4" r="2.7"/><circle cx="455.7" cy="495.9" r="3.1"/><circle cx="506.6" cy="442.8" r="2.3"/><circle cx="464.7" cy="430.1" r="2.6"/><circle cx="496.6" cy="428.2" r="2.5"/><circle cx="548.3" cy="438.1" r="2.5"/><circle cx="483.4" cy="427" r="3"/><circle cx="515.5" cy="496.1" r="2.4"/><circle cx="536.8" cy="441.6" r="2.7"/><circle cx="535.9" cy="509.2" r="3.2"/><circle cx="543.2" cy="522.4" r="2.7"/><circle cx="455.1" cy="437.2" r="2.5"/></g>
<g fill="#100890"><circle cx="436.7" cy="465" r="2.8"/><circle cx="519.5" cy="497" r="2.7"/><circle cx="478.2" cy="440.5" r="2.3"/><circle cx="524" cy="447.1" r="2.5"/><circle cx="546.1" cy="454.4" r="2.3"/><circle cx="484.5" cy="454.4" r="3.2"/><circle cx="519.3" cy="517.9" r="2.7"/><circle cx="449.6" cy="475.8" r="2.6"/><circle cx="556.9" cy="426.1" r="2.4"/><circle cx="540" cy="431.3" r="2.7"/><circle cx="500.8" cy="466.4" r="2.3"/><circle cx="454.7" cy="464.3" r="3.1"/><circle cx="545.5" cy="484.6" r="3"/><circle cx="535.2" cy="503.5" r="2.5"/><circle cx="455.4" cy="489.3" r="3.1"/><circle cx="520.6" cy="526" r="3.1"/><circle cx="533.7" cy="528.5" r="2.3"/><circle cx="447.7" cy="491.5" r="2.3"/><circle cx="511.5" cy="494.8" r="2.3"/><circle cx="447.7" cy="527.9" r="3.2"/><circle cx="470.6" cy="434" r="2.7"/><circle cx="496.1" cy="449.8" r="2.5"/><circle cx="479.2" cy="450.3" r="2.6"/><circle cx="486.4" cy="473.5" r="2.8"/><circle cx="521.8" cy="513.5" r="2.5"/><circle cx="448.7" cy="500.6" r="2.4"/><circle cx="475.2" cy="510.2" r="2.8"/><circle cx="463.9" cy="487.9" r="2.8"/><circle cx="462.1" cy="483.6" r="3"/><circle cx="512.5" cy="526.4" r="2.9"/><circle cx="436.2" cy="445.9" r="2.6"/><circle cx="437.7" cy="497.6" r="2.9"/><circle cx="548.8" cy="510" r="2.7"/><circle cx="548.8" cy="525.8" r="3"/><circle cx="490.5" cy="444.1" r="2.6"/><circle cx="442.2" cy="517.6" r="3.1"/><circle cx="467.8" cy="490.2" r="2.5"/><circle cx="437.8" cy="482" r="2.7"/><circle cx="523.5" cy="498.2" r="2.5"/><circle cx="490.4" cy="454.2" r="2.8"/><circle cx="536.9" cy="489.5" r="2.6"/><circle cx="469.5" cy="505.6" r="2.9"/><circle cx="479.7" cy="459.3" r="2.9"/><circle cx="526.4" cy="494.6" r="3"/><circle cx="500.8" cy="490.4" r="3"/><circle cx="529.8" cy="426.9" r="3"/><circle cx="508.4" cy="425.5" r="2.8"/><circle cx="540.8" cy="495.1" r="3.1"/><circle cx="498.7" cy="514.9" r="2.8"/><circle cx="476.4" cy="503" r="2.8"/><circle cx="466.3" cy="437.6" r="2.5"/><circle cx="454.9" cy="473.8" r="2.5"/><circle cx="435.8" cy="453.7" r="2.7"/></g>
<g fill="#70e8d0"><ellipse cx="456.2" cy="454.7" rx="2.8" ry="2.1" transform="rotate(134 456.2 454.7)"/><ellipse cx="532" cy="470.3" rx="2.7" ry="2" transform="rotate(25 532 470.3)"/><ellipse cx="534.6" cy="514.2" rx="2.2" ry="1.6" transform="rotate(140 534.6 514.2)"/><ellipse cx="453.1" cy="447.7" rx="3.1" ry="2.3" transform="rotate(134 453.1 447.7)"/><ellipse cx="539.5" cy="484.6" rx="2.8" ry="2.1" transform="rotate(33 539.5 484.6)"/><ellipse cx="456.5" cy="451.2" rx="2.9" ry="2.2" transform="rotate(55 456.5 451.2)"/><ellipse cx="548.8" cy="513.9" rx="2.2" ry="1.7" transform="rotate(152 548.8 513.9)"/><ellipse cx="519.2" cy="449.3" rx="2.5" ry="1.9" transform="rotate(23 519.2 449.3)"/><ellipse cx="523.7" cy="458.3" rx="2.3" ry="1.7" transform="rotate(35 523.7 458.3)"/></g>
<g fill="#a0f4e8"><ellipse cx="453.8" cy="501.4" rx="2.6" ry="2" transform="rotate(153 453.8 501.4)"/><ellipse cx="517.3" cy="489.1" rx="2.6" ry="2" transform="rotate(68 517.3 489.1)"/><ellipse cx="478" cy="432.8" rx="2.3" ry="1.7" transform="rotate(71 478 432.8)"/><ellipse cx="504.9" cy="473.7" rx="2.6" ry="1.9" transform="rotate(171 504.9 473.7)"/><ellipse cx="482.3" cy="479.2" rx="2.6" ry="1.9" transform="rotate(128 482.3 479.2)"/><ellipse cx="546.8" cy="511.7" rx="2.6" ry="1.9" transform="rotate(88 546.8 511.7)"/><ellipse cx="471.7" cy="484.5" rx="2.6" ry="2" transform="rotate(19 471.7 484.5)"/><ellipse cx="525.5" cy="464.8" rx="3" ry="2.3" transform="rotate(86 525.5 464.8)"/><ellipse cx="460.7" cy="513.9" rx="2.2" ry="1.7" transform="rotate(27 460.7 513.9)"/><ellipse cx="477.1" cy="521.6" rx="3" ry="2.2" transform="rotate(179 477.1 521.6)"/><ellipse cx="460.6" cy="453.4" rx="2.3" ry="1.7" transform="rotate(27 460.6 453.4)"/><ellipse cx="469" cy="439.8" rx="2.9" ry="2.2" transform="rotate(146 469 439.8)"/><ellipse cx="507" cy="455.8" rx="2.3" ry="1.7" transform="rotate(81 507 455.8)"/></g>
<g fill="#58d8b8"><ellipse cx="537.4" cy="512.4" rx="2.3" ry="1.7" transform="rotate(66 537.4 512.4)"/><ellipse cx="446.1" cy="514.6" rx="2.8" ry="2.1" transform="rotate(77 446.1 514.6)"/><ellipse cx="482.9" cy="487.5" rx="2.4" ry="1.8" transform="rotate(163 482.9 487.5)"/><ellipse cx="518.6" cy="471.4" rx="2.9" ry="2.2" transform="rotate(17 518.6 471.4)"/><ellipse cx="497.7" cy="508.8" rx="2.9" ry="2.2" transform="rotate(137 497.7 508.8)"/><ellipse cx="553.7" cy="514.2" rx="2.7" ry="2" transform="rotate(107 553.7 514.2)"/><ellipse cx="469.5" cy="516" rx="3.1" ry="2.3" transform="rotate(84 469.5 516)"/><ellipse cx="542.7" cy="437.7" rx="2.3" ry="1.7" transform="rotate(146 542.7 437.7)"/><ellipse cx="444.3" cy="483" rx="2.3" ry="1.7" transform="rotate(36 444.3 483)"/><ellipse cx="441.3" cy="510.8" rx="2.3" ry="1.7" transform="rotate(112 441.3 510.8)"/><ellipse cx="509.5" cy="431.8" rx="2.4" ry="1.8" transform="rotate(8 509.5 431.8)"/><ellipse cx="518.1" cy="440.4" rx="3" ry="2.2" transform="rotate(59 518.1 440.4)"/><ellipse cx="462.8" cy="457.4" rx="2.5" ry="1.8" transform="rotate(168 462.8 457.4)"/></g>
<g fill="#c0fff8"><ellipse cx="508.3" cy="470.3" rx="2.8" ry="2.1" transform="rotate(37 508.3 470.3)"/><ellipse cx="466.9" cy="524.3" rx="2.2" ry="1.6" transform="rotate(141 466.9 524.3)"/><ellipse cx="557.2" cy="485.2" rx="2.4" ry="1.8" transform="rotate(65 557.2 485.2)"/><ellipse cx="448.3" cy="487.6" rx="2.4" ry="1.8" transform="rotate(120 448.3 487.6)"/><ellipse cx="510.2" cy="518.8" rx="2.8" ry="2.1" transform="rotate(146 510.2 518.8)"/><ellipse cx="511.5" cy="444.4" rx="2.9" ry="2.2" transform="rotate(168 511.5 444.4)"/><ellipse cx="500.8" cy="429.1" rx="2.6" ry="1.9" transform="rotate(160 500.8 429.1)"/><ellipse cx="497.6" cy="462.4" rx="2.3" ry="1.7" transform="rotate(88 497.6 462.4)"/><ellipse cx="549.7" cy="454.5" rx="2.9" ry="2.2" transform="rotate(32 549.7 454.5)"/><ellipse cx="489.7" cy="482.9" rx="2.9" ry="2.2" transform="rotate(11 489.7 482.9)"/><ellipse cx="556.3" cy="459" rx="2.8" ry="2.1" transform="rotate(86 556.3 459)"/><ellipse cx="543.8" cy="455.9" rx="2.6" ry="1.9" transform="rotate(51 543.8 455.9)"/><ellipse cx="543.4" cy="494.6" rx="2.6" ry="2" transform="rotate(105 543.4 494.6)"/><ellipse cx="457.6" cy="428.9" rx="2.7" ry="2.1" transform="rotate(91 457.6 428.9)"/><ellipse cx="452.9" cy="487.5" rx="2.7" ry="2" transform="rotate(72 452.9 487.5)"/></g>
</g></g>
<rect x="545.3" y="522.6" width="9.5" height="1.8" fill="#fff" />
<rect x="562" y="426.5" width="122" height="101.2" fill="#02000c" />
<g clip-path="url(#cp3)"><g filter="url(#bl)">
<g fill="#2818ff"><circle cx="590.7" cy="508.3" r="3.1"/><circle cx="668.8" cy="438.1" r="3"/><circle cx="593" cy="467.2" r="3.5"/><circle cx="661.2" cy="441.7" r="2.8"/><circle cx="661.3" cy="518.7" r="3.2"/><circle cx="567.7" cy="478" r="3"/><circle cx="572.4" cy="513.6" r="2.8"/><circle cx="582.5" cy="454.2" r="3.1"/><circle cx="622.3" cy="439.5" r="3.2"/><circle cx="560.2" cy="446.9" r="2.6"/><circle cx="593.4" cy="502" r="2.5"/><circle cx="685.7" cy="429.8" r="2.5"/><circle cx="564" cy="491" r="2.6"/><circle cx="571.1" cy="503.7" r="3.4"/><circle cx="602.6" cy="491.9" r="3"/><circle cx="666.9" cy="499.2" r="3.2"/><circle cx="563.8" cy="453.2" r="3.2"/><circle cx="676.9" cy="424.7" r="3.1"/><circle cx="662.3" cy="484.4" r="2.8"/><circle cx="564.8" cy="523" r="3.4"/><circle cx="593" cy="526" r="2.6"/><circle cx="668.2" cy="507.2" r="2.8"/><circle cx="591.2" cy="483.7" r="2.8"/><circle cx="640.6" cy="482.3" r="3"/><circle cx="646.4" cy="482" r="2.7"/><circle cx="618.5" cy="480.5" r="3"/><circle cx="616.3" cy="505" r="3.3"/><circle cx="662.8" cy="492.8" r="3.1"/><circle cx="563.2" cy="435.3" r="2.7"/><circle cx="632.6" cy="451.8" r="2.9"/><circle cx="648.1" cy="424.9" r="2.9"/><circle cx="651" cy="487.2" r="3.3"/><circle cx="562.3" cy="486.6" r="2.8"/><circle cx="634.9" cy="486.9" r="3"/><circle cx="654.2" cy="478.4" r="3.5"/><circle cx="650.5" cy="449.9" r="3.1"/><circle cx="604.9" cy="475.7" r="2.8"/><circle cx="683.3" cy="481.7" r="3"/><circle cx="635.5" cy="516.9" r="3.4"/></g>
<g fill="#2010f0"><circle cx="582.4" cy="478" r="3.4"/><circle cx="589.2" cy="460.4" r="3.1"/><circle cx="681.5" cy="507.4" r="3.2"/><circle cx="671.6" cy="521.9" r="2.7"/><circle cx="577.2" cy="497" r="3.2"/><circle cx="589.7" cy="497.3" r="3.1"/><circle cx="601.3" cy="455.9" r="2.8"/><circle cx="602.3" cy="433" r="3.1"/><circle cx="685.2" cy="492.4" r="3.1"/><circle cx="652.2" cy="428.9" r="2.9"/><circle cx="673.7" cy="458.5" r="2.9"/><circle cx="577.8" cy="483.2" r="3.3"/><circle cx="613" cy="459.4" r="2.9"/><circle cx="629.4" cy="478" r="2.8"/><circle cx="660.8" cy="503.2" r="2.6"/><circle cx="667.7" cy="464" r="2.8"/><circle cx="641.9" cy="500.1" r="3.4"/><circle cx="570.7" cy="529.2" r="2.7"/><circle cx="627.7" cy="506.6" r="3.2"/><circle cx="579.6" cy="527.5" r="2.9"/><circle cx="658.6" cy="508.8" r="2.8"/><circle cx="614.1" cy="491.1" r="2.9"/><circle cx="625.5" cy="470.8" r="3.5"/><circle cx="646.1" cy="441.9" r="3.2"/><circle cx="654.3" cy="502.6" r="3.3"/><circle cx="658.2" cy="425" r="3.2"/><circle cx="640" cy="512.4" r="3.5"/><circle cx="607.7" cy="460.5" r="3.2"/><circle cx="617.8" cy="452.4" r="2.8"/><circle cx="600.9" cy="451.4" r="2.7"/><circle cx="566.6" cy="426.7" r="3.3"/><circle cx="578.2" cy="431.5" r="2.6"/><circle cx="665.1" cy="474.2" r="2.8"/><circle cx="676.3" cy="495.9" r="3.4"/><circle cx="603" cy="522.3" r="3"/><circle cx="629.1" cy="523.2" r="2.6"/><circle cx="611.5" cy="484.1" r="3.5"/><circle cx="646" cy="471" r="2.9"/><circle cx="584.8" cy="429.5" r="2.5"/><circle cx="628.9" cy="511.3" r="3.2"/><circle cx="606.7" cy="448.2" r="3.4"/><circle cx="574.1" cy="508.1" r="2.9"/><circle cx="652.3" cy="521.2" r="3"/></g>
<g fill="#1c0ce0"><circle cx="658.6" cy="455.6" r="2.8"/><circle cx="588.3" cy="449.6" r="3.2"/><circle cx="564.4" cy="462.7" r="3"/><circle cx="642.4" cy="438.3" r="2.5"/><circle cx="606.6" cy="455.9" r="3.1"/><circle cx="597.9" cy="459.1" r="3.5"/><circle cx="664.1" cy="429" r="3.4"/><circle cx="605.6" cy="505.7" r="2.7"/><circle cx="585.2" cy="510.4" r="3.4"/><circle cx="682.5" cy="463.7" r="3"/><circle cx="594.1" cy="475.1" r="3.5"/><circle cx="568.6" cy="511.6" r="2.7"/><circle cx="674.8" cy="448.5" r="2.7"/><circle cx="661" cy="471.3" r="2.7"/><circle cx="647.9" cy="529.6" r="3.2"/><circle cx="607.1" cy="471.5" r="2.6"/><circle cx="579.5" cy="458.8" r="3.5"/><circle cx="633.9" cy="444.5" r="2.5"/><circle cx="599.3" cy="428.6" r="2.8"/><circle cx="639.5" cy="522.9" r="2.8"/><circle cx="676.7" cy="514" r="3.3"/><circle cx="646.6" cy="521.2" r="3.2"/><circle cx="622.2" cy="509.9" r="3.4"/><circle cx="682" cy="473.1" r="3.3"/><circle cx="577.6" cy="464.7" r="2.8"/><circle cx="656.6" cy="433.1" r="3.1"/><circle cx="649" cy="513.1" r="2.9"/><circle cx="664.4" cy="436.9" r="2.8"/><circle cx="579.6" cy="512" r="3.3"/><circle cx="663.6" cy="524.2" r="3.4"/><circle cx="593.2" cy="462.5" r="2.8"/><circle cx="568.7" cy="518" r="3.5"/><circle cx="564.1" cy="528.3" r="3.3"/></g>
<g fill="#1808c8"><circle cx="676.9" cy="486.1" r="3.4"/><circle cx="567.5" cy="466.1" r="2.7"/><circle cx="650.2" cy="473.6" r="3.1"/><circle cx="644.8" cy="508" r="3.4"/><circle cx="635.3" cy="523.5" r="2.6"/><circle cx="670.7" cy="473.7" r="3.4"/><circle cx="588.4" cy="440.4" r="2.9"/><circle cx="667.4" cy="481.6" r="3.4"/><circle cx="607.2" cy="525.1" r="3.2"/><circle cx="585.3" cy="485" r="3.2"/><circle cx="636.4" cy="477.9" r="2.6"/><circle cx="597.6" cy="520.6" r="3.5"/><circle cx="564.6" cy="507" r="2.9"/><circle cx="568.1" cy="439.1" r="3.2"/><circle cx="674.5" cy="526.9" r="3.2"/><circle cx="621.2" cy="525.5" r="2.8"/><circle cx="683.4" cy="452.8" r="3.2"/><circle cx="647.4" cy="503.8" r="2.9"/><circle cx="669.4" cy="526.4" r="2.6"/><circle cx="622.7" cy="521.1" r="3.3"/><circle cx="667.4" cy="515.1" r="2.7"/><circle cx="575.2" cy="523.8" r="3.3"/><circle cx="575.8" cy="501.3" r="2.8"/><circle cx="648.5" cy="467.2" r="2.5"/><circle cx="577.1" cy="437.8" r="2.7"/><circle cx="675" cy="481.9" r="2.6"/><circle cx="587.4" cy="473" r="3.4"/><circle cx="609.5" cy="497" r="2.9"/><circle cx="603.6" cy="497.7" r="2.9"/><circle cx="594.9" cy="509.7" r="2.5"/><circle cx="597" cy="492.6" r="2.9"/><circle cx="671.5" cy="499.3" r="2.7"/><circle cx="609.1" cy="479.4" r="2.6"/></g>
<g fill="#3020ff"><circle cx="603.6" cy="468.3" r="3.3"/><circle cx="611.7" cy="433.1" r="3.4"/><circle cx="582.1" cy="470.7" r="3.4"/><circle cx="626.1" cy="427.4" r="2.6"/><circle cx="685.2" cy="513.1" r="3.2"/><circle cx="651.1" cy="508.9" r="2.8"/><circle cx="571.3" cy="481.7" r="2.9"/><circle cx="639.4" cy="428.7" r="3.4"/><circle cx="561.9" cy="472.5" r="2.6"/><circle cx="665.5" cy="453.9" r="2.6"/><circle cx="650.3" cy="494.6" r="2.9"/><circle cx="595.2" cy="435.4" r="3.5"/><circle cx="589.1" cy="432.2" r="2.9"/><circle cx="588.9" cy="427.7" r="2.9"/><circle cx="645.6" cy="476.4" r="2.5"/><circle cx="628.1" cy="485.2" r="3"/><circle cx="596.4" cy="514.4" r="2.9"/><circle cx="636.3" cy="508.4" r="3"/><circle cx="670.4" cy="487" r="3.4"/><circle cx="583.8" cy="498.2" r="3.4"/><circle cx="633.7" cy="433.8" r="2.5"/><circle cx="629.8" cy="518.5" r="2.5"/><circle cx="659.7" cy="463.9" r="3.2"/><circle cx="675.9" cy="435.2" r="3.1"/><circle cx="677.3" cy="465.2" r="3.5"/><circle cx="605.4" cy="483.8" r="2.6"/><circle cx="583.4" cy="516.2" r="2.8"/><circle cx="567.6" cy="488.8" r="2.8"/><circle cx="636.9" cy="496.4" r="2.7"/><circle cx="668.5" cy="493.7" r="2.8"/><circle cx="636.6" cy="502" r="3.2"/><circle cx="600.2" cy="424.5" r="2.6"/><circle cx="655.6" cy="444.1" r="3.3"/><circle cx="616.8" cy="468.4" r="3.2"/><circle cx="620.8" cy="488.9" r="3.1"/><circle cx="567.5" cy="496.2" r="3.4"/><circle cx="616.6" cy="529.1" r="2.8"/><circle cx="594.8" cy="451.1" r="2.7"/><circle cx="614.7" cy="518.8" r="3.3"/><circle cx="584.6" cy="527.9" r="3.3"/><circle cx="568.3" cy="431.9" r="3.1"/><circle cx="681.2" cy="431.3" r="2.6"/></g>
<g fill="#100890"><circle cx="562.5" cy="441.8" r="2.7"/><circle cx="673.4" cy="504.1" r="2.5"/><circle cx="660.9" cy="450.2" r="2.7"/><circle cx="683.4" cy="446" r="3.4"/><circle cx="655.7" cy="439" r="3.2"/><circle cx="599.2" cy="438.3" r="2.5"/><circle cx="655.9" cy="525.3" r="2.9"/><circle cx="580.6" cy="504.1" r="2.9"/><circle cx="584.6" cy="459.7" r="3.1"/><circle cx="572.7" cy="491.8" r="2.7"/><circle cx="618.2" cy="462.5" r="2.6"/><circle cx="683.7" cy="527.2" r="2.7"/><circle cx="632.4" cy="498.7" r="2.6"/><circle cx="679.8" cy="490.7" r="3.3"/><circle cx="596.4" cy="443.8" r="2.8"/><circle cx="588.4" cy="515.9" r="3.1"/><circle cx="603.3" cy="443.9" r="2.8"/><circle cx="661.7" cy="478.4" r="3.4"/><circle cx="656.3" cy="484.9" r="2.7"/><circle cx="583.2" cy="441.6" r="2.8"/><circle cx="625.8" cy="515.2" r="2.7"/><circle cx="681.3" cy="498.6" r="3"/><circle cx="638.8" cy="528.3" r="3.3"/><circle cx="638.2" cy="491.5" r="3"/><circle cx="635.8" cy="437.7" r="2.8"/></g>
<g fill="#60e8b8"><ellipse cx="587.8" cy="442.9" rx="2.3" ry="1.8" transform="rotate(156 587.8 442.9)"/><ellipse cx="586.7" cy="490.3" rx="2.6" ry="2" transform="rotate(125 586.7 490.3)"/><ellipse cx="646.3" cy="524.6" rx="2.6" ry="1.9" transform="rotate(20 646.3 524.6)"/><ellipse cx="580.2" cy="491.6" rx="2.8" ry="2.1" transform="rotate(149 580.2 491.6)"/><ellipse cx="662.2" cy="439.7" rx="2.5" ry="1.9" transform="rotate(68 662.2 439.7)"/><ellipse cx="634.3" cy="432.5" rx="2.3" ry="1.7" transform="rotate(142 634.3 432.5)"/><ellipse cx="566.9" cy="496.6" rx="2.8" ry="2.1" transform="rotate(160 566.9 496.6)"/><ellipse cx="586" cy="443.9" rx="3.1" ry="2.3" transform="rotate(39 586 443.9)"/><ellipse cx="664.2" cy="470.4" rx="2.2" ry="1.7" transform="rotate(124 664.2 470.4)"/><ellipse cx="655.8" cy="510.9" rx="2.4" ry="1.8" transform="rotate(108 655.8 510.9)"/><ellipse cx="631" cy="502.4" rx="2.3" ry="1.8" transform="rotate(147 631 502.4)"/></g>
<g fill="#90f0d8"><ellipse cx="603.3" cy="517.1" rx="3.1" ry="2.3" transform="rotate(55 603.3 517.1)"/><ellipse cx="588.3" cy="506.4" rx="2.7" ry="2" transform="rotate(112 588.3 506.4)"/></g>
</g></g>
<rect x="670" y="522.6" width="9.5" height="1.8" fill="#fff" />
<rect x="195.4" y="531.2" width="117.6" height="113.3" fill="#fff" stroke="#c8c8c8" stroke-width="0.9" />
<ellipse cx="216.5" cy="599.5" rx="11.88" ry="7.8" transform="rotate(-30 216.5 599.5)" fill="#ff1c10" opacity="1" filter="url(#rb)"/>
<ellipse cx="280" cy="545.5" rx="8.12" ry="3.6" transform="rotate(-20 280 545.5)" fill="#ff1c10" opacity="0.55" filter="url(#rb)"/>
<path stroke="#ff2a1e" stroke-width=".85" fill="none" d="M227.1 602.2h.8m-5.8-8.9h.8m-.7 7.7h.8m-4.4-8.3h.8m-14.5 9.3h.8m-6.4 11.5h.8m24.8-5h.8m-7.1-3.7h.8m-2.8 3.8h.8m5.9-9.3h.8m-15.2 8.3h.8m16.6 1.7h.8m-7.9-1.9h.8m-.6-5.9h.8m-7-5.3h.8m-3.6 3.5h.8m11.1 8.6h.8m-17.6 3.9h.8m.2-19.3h.8m3.2 12h.8m-2.9-6.3h.8m7.9 1.9h.8m4.1 3.6h.8m-7.6 7.2h.8m-2.5-11.3h.8m4-.2h.8m-1.1 11.6h.8m-11.3-17.3h.8m3.8 8.9h.8m13.1-17.6h.8m-11.3 23.4h.8m9.3-10h.8m-5.6-.7h.8m5.9 .8h.8m-20.6 .4h.8m11.1-2.4h.8m5.6-12h.8m-15.5 31.5h.8m7.2-16.3h.8m7.1 2h.8m-20 11.3h.8m3.6-9h.8m-1.9 .6h.8m-5.6 6.9h.8m17-28h.8m-2.3 4.2h.8m-1 10.1h.8m.3 11.8h.8m-8.8-.8h.8m5.1-14.9h.8m-8.7-2.4h.8m3.5 13.9h.8m1.6-13.2h.8m-6.1 7.4h.8m.1 8.5h.8m11.3-4.9h.8m-5.9-2.9h.8m7.9-10.1h.8m-28.5 27.3h.8m12.9-20.5h.8m.2 1h.8m-2.1-.8h.8m9.2-3.9h.8m-17.8-4.6h.8m14.6 4.4h.8m-16.4 11.1h.8m5.9-8.1h.8m3.9 3.1h.8m-13.1-9.2h.8m2.7 14.5h.8m.2-3.5h.8m4.1 .9h.8m4.1-9.4h.8m-3.7 2.9h.8m-9.3 12.5h.8m8-11.8h.8m10.7-7.3h.8m-11.9 4.8h.8m-22.4 8.1h.8m10.1-10h.8m.6 12.9h.8m-3.2-9.3h.8m23 5.1h.8m-8.2-2.8h.8m-26.1-12.7h.8m11.1 12.8h.8m6.7-5.9h.8m-13.3-4.4h.8m2.4 10.8h.8m7.3 1.1h.8m-9 3.4h.8m8.7-17.8h.8m6.9 12h.8m-6.7 .3h.8m-14.8 5.1h.8m10.5 1.8h.8m-3.3 1.5h.8m4.4-21.5h.8m10.2 9.9h.8m-12.3-12.9h.8m-2.5 12.8h.8m13.9-3.6h.8m-6.1 6.9h.8m-5.8 10.8h.8m-12.5-4.6h.8m5.6-1.3h.8m-6.4 1.4h.8m22.6-13.9h.8m-34.3 17.7h.8m11.8-3.9h.8m2.9-12.1h.8m-7 4.8h.8m.3 7h.8m-1.5 10.7h.8m8.8-18.9h.8m-11.8 1.9h.8m1.2 7h.8m-4.5-7h.8m-1.5 4.1h.8m2.9-5.7h.8m2.2 10.1h.8m-6.4-9.1h.8m6.5-.6h.8m8.9-6.8h.8m-8.2 1.7h.8m5.6-6.9h.8m-2.5 1.1h.8m-14.5 25.2h.8m.2-17.9h.8m16 6.3h.8m-4.6-5.1h.8m-4.2 9.6h.8m-7.5 6h.8m-5.6-2.7h.8m1-16.2h.8m8.5 8.8h.8m2.1-9h.8m9 10h.8m-18.7-9.8h.8m-8.2 14.2h.8m-3.1-5.2h.8m22.7-11.3h.8m-17.6 16.6h.8m-1 6.5h.8m-3.8-11.1h.8m-2.9 7.7h.8m5-4.9h.8m4.2 3.1h.8m4.1-17.2h.8m-24.1 24.7h.8m13.1-20.5h.8m5.2 6.7h.8m-10-4.2h.8m-3.8 7.5h.8m8.4-13.9h.8m9.5-.5h.8m-30.1 3.9h.8m18.7-8.4h.8m15.2-1.7h.8m-26.7 29.6h.8m5.7-9.2h.8m1.4-3.2h.8m16.4-11.7h.8m-5.1 21.6h.8m-34.4 6.7h.8m25.1-19.3h.8m8.2-.8h.8m-35.9 8.9h.8m13 4.6h.8m.2-9.2h.8m24.5-8.9h.8m-27.2 14.2h.8m3.9-2.3h.8m-3-9.6h.8m16.8-11.5h.8m-7.7 13.7h.8m-5.3-1.4h.8m-10.2 13.4h.8m2.4-9.5h.8m2.6 1.3h.8m-3.7-7.5h.8m14.5 20.3h.8m-19-17.2h.8m-2.1 5.3h.8m1.7-1.5h.8m20-3.4h.8m-18-4h.8m-8 10.3h.8m-5.4 10.1h.8m14.8-12.9h.8m7.2-3h.8m-18.9-8h.8m-.4 19.3h.8m8.5-6.3h.8m.3 5.6h.8m3.8-.1h.8m-15.1-12.2h.8m5.5 1.6h.8m-.6-2.6h.8m10.1-3.1h.8m-22.9 9.8h.8m12.7-2.6h.8m-13.8 12.9h.8m-2.7 2.1h.8m1.6-11.2h.8m14.2-6.8h.8m-12.9 5.7h.8m16.3-19.5h.8m-5.7 5h.8m-19 22h.8m18.6-2.9h.8m-2.3-8.2h.8m-3.5 5.2h.8m-4.1-9.5h.8m4.2-12.7h.8m10.9 11.9h.8m-15.2 18.4h.8m-17.6-9.4h.8m11-2.3h.8m7.1 5.9h.8m-3.6 .8h.8m-2.6-.6h.8m-5.1-.6h.8m13.3-8.7h.8m-10.7 6.4h.8m-19 4.2h.8m9.4 2.5h.8m1.6-13.1h.8m-2.2 12.7h.8m-8.2 2.2h.8m24.6-14.2h.8m-19.5 16h.8m4.6-11.2h.8m16.3-12.3h.8m-22.3 14.5h.8m11.7-10.5h.8m-2.2 .8h.8m-11.4 14.7h.8m7.7 2.1h.8m-18.6-4h.8m13-10.7h.8m11.8 7.3h.8m-4.9-1.3h.8m-9.6 6.4h.8m10.8 10.2h.8m-18.9-14.5h.8m-1.2-2.4h.8m14.3-4.9h.8m-1.2 14.6h.8m-8.2-7.5h.8m-.5-2.6h.8m15.2-7.2h.8m-24.5 17.5h.8m13.4-10h.8m-10.2-3h.8m5.8-3.4h.8m1.9 1.3h.8m-2.4-4.9h.8m-10.9-5.8h.8m7.5 5.1h.8m.2-1.8h.8m3.5 19.5h.8m-3.3-19.2h.8m-5.3 15.9h.8m.1-9.9h.8m-.7 11h.8m9.7-11.4h.8m-20.5 20.5h.8m-1.5-2.4h.8m-4.3-30.4h.8m26.4 22.9h.8m-11.6-.4h.8m18.3-7.7h.8m-18.7-2h.8m-1.4 2h.8m14.4-1.7h.8m-15.9-5.3h.8m-22.3 7.3h.8m28-7.9h.8m-10.4 12.2h.8m8.9-1.8h.8m-1.5 15.1h.8m-8.5-5.5h.8m-20.7-1.5h.8m26.6-14h.8m-2.7 1.9h.8m-4.2 10.4h.8m-.8-14.9h.8m-13.1 13h.8m17.1-5.3h.8m-12.5-9.3h.8m13.1 6.9h.8m-11.9 5.5h.8m-1.2-7.9h.8m18.7 1.7h.8m-27.6 11h.8m-1.9-6.8h.8m11.5 10h.8m-19.9-19.3h.8m12.8 9.4h.8m-11.8 2.4h.8m4.7-.8h.8m16.6-12.4h.8m-14.2 7.8h.8m4.7 5.4h.8m6-2.4h.8m-.9 3.9h.8m-23.4 3.3h.8m12.5-.6h.8m-7.7-13h.8m8 3.3h.8m-10.1 5.1h.8m-7.2 10h.8m16.1-21.3h.8m8.6 5.4h.8m-20.9-4.9h.8m8-1.3h.8m-1.6 15.1h.8m1.2-.9h.8m-2.6-1.4h.8m-14.2 1.1h.8m7.3-7.8h.8m.4 2.6h.8m-7.7 .7h.8m4.2 6.6h.8m12.9 2.9h.8m-5.8-18h.8m-14.9 14.5h.8m20.1-13.4h.8m5.4 1.9h.8m-19.5 8.2h.8m-1.8-8.7h.8m4.5 7.4h.8m4.7-4h.8m-20.2-3.5h.8m15.6 8.1h.8m-2 8.3h.8m-12.1-12.8h.8m.8 2.7h.8m17.1 1.4h.8m-14.3 .3h.8m-2.8-5.6h.8m-4.5 2.7h.8m2.6-4.7h.8m10.9-3.7h.8m-7.4 10.1h.8m-5.8 0h.8m-1.4 3.6h.8m8.6-9.1h.8m-19.5 19h.8m18.7-9.2h.8m.1-6.9h.8m-3.2-4.2h.8m-7.1 20.4h.8m2.5-6.4h.8m-6.9-1.3h.8m6.9-2.1h.8m-10.8 2.5h.8m2.6-10.7h.8m3.8 9.5h.8m1.9 7.7h.8m12-21.3h.8m-13.8 24.4h.8m9.2-21.3h.8m-24.7 9.9h.8m27.2-19.9h.8m-14.4 10.3h.8m-2.6 19h.8m-13-4.4h.8m-1.9-3.8h.8m-1.9-11.6h.8m9.3 7.1h.8m10.3 6.9h.8m-.1-16.2h.8m-16.8 12.8h.8m-4.6-4.1h.8m6.9 2h.8m2.9 7h.8m-6.9 1.9h.8m4.1 1.5h.8m-5.7-13.7h.8m10-6.2h.8m-.4 .1h.8m9.7-4.2h.8m-33.8 17.4h.8m8.6-14.2h.8m-1.7 24.8h.8m4.4-27.3h.8m-1.1 5.6h.8m23.9 2.3h.8m-23.2 7h.8m5.8-15.5h.8m1.8 9.1h.8m11.3-3.3h.8m-14.7 4.2h.8m-17.1-2.8h.8m14.4 6.9h.8m-12.4 6.5h.8m14.5-15.1h.8m-23.1 4.1h.8m.3 .5h.8m9.7 6.9h.8m-1.3-12h.8m-9.2 3.1h.8m12.2-.7h.8m-9.4 3.4h.8m0-1h.8m-4 2.5h.8m16.9 3.3h.8m-14.9 4.7h.8m-.2-10.7h.8m6.5-8.5h.8m-5.5 10.9h.8m9.3-3.7h.8m-22.7 3.5h.8m8.1 6.5h.8m-5.3-14.9h.8m14.4-6.9h.8m-7.7 23.8h.8m-9.9-4.8h.8m24.4-19.7h.8m-32.4 19.9h.8m20.8-8.3h.8m-2.8-14h.8m-5.6 .1h.8m1.2 15.4h.8m14.8-2.7h.8m-10.3-.8h.8m-13.9 15.5h.8m-2.3 .3h.8m15.9-3.3h.8m-8.2-11.1h.8m3.6-13.4h.8m-14.1 6.5h.8m3.1 28h.8m-3.9-16.1h.8m12-5.8h.8m8.3 13.1h.8m-12.9-3.1h.8m2 1h.8m1-4.2h.8m-11.1 .5h.8m8.6 3.4h.8m-1-19.9h.8m-2.3 11.3h.8m-15.9 16.8h.8m4.9-6.5h.8m2-3.2h.8m-.9-.6h.8m1.3 3.7h.8m7.3-15.5h.8m1.2 .2h.8m-7.2-5.2h.8m-21.1 3.4h.8m16.3 1.7h.8m14.5-2h.8m-14.6 24.9h.8m6.8-31.1h.8m-16.2 11.1h.8m-14.2 14.8h.8m31.3-20h.8m-13.5 1.8h.8m10.5-3.6h.8m8.8 16.2h.8m-13.3-7.7h.8m.4-.8h.8m2.8 5.9h.8m-10.3-6.7h.8m-6.3 1.5h.8m-.3 .6h.8m-3.4-7.1h.8m11.2 2.6h.8m-9.1 11.3h.8m-1.1 3.9h.8m-5.4-.1h.8m26.9-22.9h.8m-17.6 14h.8m-11.3 9.2h.8m5.2-2.4h.8m-4.1 8.2h.8m-.5-22.5h.8m-9.3 8.9h.8m18.1 6.5h.8m-7.9-5.7h.8m-14.2-.9h.8m13.8 2h.8m-17.8-7.4h.8m7.9 11.1h.8m-1.5-2.6h.8m-5.3 5.6h.8m6.6-3.9h.8m19.4-11.5h.8m-9.1 25.4h.8m-20.5-19.4h.8m2.1 3.2h.8m10-13.6h.8m-9.3 11.7h.8m15.6 .7h.8m-5.4-.8h.8m-5.8 14.1h.8m8.4-17.9h.8m-3.8-4.5h.8m-6.5-2.5h.8m-11.9 12.9h.8m11 12.8h.8m-13.2-12.7h.8m-6 4.9h.8m8.4-12.1h.8m3.2-7.6h.8m-.5 15h.8m-12-3.7h.8m23-8.7h.8m-17.9 8.8h.8m-.4 3.6h.8m2.5 2.2h.8m-7.7-18h.8m13.9 7.9h.8m-10.5-4.4h.8m-1.3 6.6h.8m.2-.8h.8m-6.8 2.5h.8m4.2-3.7h.8m5-1.2h.8m-8.7 4.5h.8m-7.3 13.9h.8m7.7 1.4h.8m7.2-11.7h.8m1.5-3.1h.8m-7.2 .9h.8m-.6 6.3h.8m-4-12.8h.8m-5.9-.8h.8m-3.3 13.4h.8m7.2-5.7h.8m-15.7 14.2h.8m6.6-12.3h.8m14.6-2.8h.8m-12.2-.7h.8m.1 2.7h.8m13.8-15h.8m-4.7 14.6h.8m-8.3 16.4h.8m8.8-11.6h.8m1.6-21.8h.8m1 24.4h.8m-16.7-11.5h.8m-10.3-5.3h.8m18.2 8.6h.8m11-13.7h.8m-6.6 19h.8m-26.5-7.5h.8m22-3.5h.8m2.4 3.7h.8m-14.5-3.2h.8m6.6 14h.8m-6.1-12.7h.8m-4.4-8h.8m.8 2.2h.8m13.8 2.1h.8m-18.9 10.9h.8m10.4-5.7h.8m-13.9 16.2h.8m1.4-4.2h.8m2.8-18h.8m8.1 5.3h.8m-22.6 8.7h.8m24.5-.3h.8m-8.2-15.7h.8m-14.8 20.6h.8m8.8-8.4h.8m-5.1 2.8h.8m4.4-4.2h.8m4.6-10.2h.8m5 3.6h.8m-10.6 .7h.8m.9 4.6h.8m-1.6 13.2h.8m4.6-8.2h.8m10.6-11.7h.8m-29.3 7.6h.8m13.9 6.3h.8m-1.3-3.4h.8m3.5 1.3h.8m-25.3-.5h.8m15.9 7.9h.8m-4.3-11.6h.8m3.3-9.6h.8m4.5 5h.8m-20.9 22.7h.8m1.4-17.1h.8m12.2-3h.8m5.7-.1h.8m-2.7 4.3h.8m3.5-17.9h.8m2.5 20h.8m-11.3-7.6h.8m-20.6-1.2h.8m16.7 21.3h.8m2.3-18.1h.8m-.4 1.1h.8m-18.7 1h.8m.8-5.4h.8m-8.2 20.9h.8m16.7-10.4h.8m-4.9-5.4h.8m-1-11h.8m11.9 6.5h.8m-10 3.3h.8m2.7 3.8h.8m-2.2-4.2h.8m9.4 4.9h.8m-11.8 10.2h.8m-5.7-16.5h.8m18.1 3.4h.8m5.3-1.3h.8m-18.6 1.7h.8m1.2-6h.8m10.8 6.2h.8m-7.8-8.2h.8m-10.7 11.4h.8m.5-3.4h.8m6.9 9.8h.8m-12.8-10.1h.8m21.6 5.3h.8m-16.7-2.2h.8m-2.6-6h.8m-8.3 0h.8m6.9 6.9h.8m-6.6-17.4h.8m2.9 13.9h.8m-1.5-3.9h.8m5 11.3h.8m9.7-26.1h.8m-15.5 12.8h.8m-4.5 6.4h.8m.6 1.3h.8m-12.5 3.6h.8m11.8 2.3h.8m12.8-24.4h.8m-25.2 17h.8m11.8 5.1h.8m-3.5-20.7h.8m.6 20.1h.8m-.6-5.9h.8m7.6-4.4h.8m-1.9 11.7h.8m-13.6-.7h.8m16-3h.8m-19.2 3.1h.8m6.7-3.8h.8m-.2 1h.8m-6.7-9.7h.8m-3.3 10.7h.8m4.2-15.9h.8m13.1-2.8h.8m-24.6 16.6h.8m19.3-4.5h.8m-4.5-5.1h.8m.8-4.5h.8m-22 8h.8m8.4-7.9h.8m8.8 6.3h.8m-6.7 12.2h.8m6.3-17.3h.8m3.2 7.8h.8m-7.8 3.5h.8m-7.3 .9h.8m15.4-4h.8m-2.5-6h.8m-9.5 11.9h.8m2 1.2h.8m-5.5-6.8h.8m8.9-7h.8m-11.9 2h.8m9.6-7.4h.8m-12.7 18.4h.8m15.3-6.5h.8m-23.1 9.7h.8m4.5-8.4h.8m11.5-3.1h.8m-7.3 3.7h.8m-7.8 7.6h.8m5.9-12.7h.8m6.1-1.9h.8m-19.3 14.2h.8m8.9-7.4h.8m-1.5-9.2h.8m.4 14.1h.8m9.5-10.7h.8m2.4 6.2h.8m-14.8-4h.8m4.3 6.1h.8m5.9 12.1h.8m-1.7-19.3h.8m-5.8 20.3h.8m-2.8-13.8h.8m-13.2 7.9h.8m-.3-3h.8m-3.7 5.9h.8m11.4-12.2h.8m8.8 4h.8m-5.8-6.5h.8m-22.3 9.4h.8m11.6-13.3h.8m16-5.1h.8m-22.1 10.4h.8m4.1 6.7h.8m4.1 3.7h.8m-13.2-7.9h.8m7.8-6.8h.8m10.8 6.2h.8m-18.4 1.7h.8m14.8 1.2h.8m1-2.9h.8m-5.4-6.6h.8m-13.7 9.8h.8m13.5-21.3h.8m-14.4 18.1h.8m12.5-5.8h.8m-9.9 13.9h.8m1.7-.3h.8m24.5-6h.8m-9.3-2.1h.8m2.8-5.7h.8m-7.6 5.6h.8m-16.6 7.6h.8m2.6 7.9h.8m-.7-17.9h.8m13-5.6h.8m-30.9 19.8h.8m8.2-11.2h.8m22.3-3.4h.8m-12.5 18.9h.8m1.7-31.4h.8m3.4 17.5h.8m.8 1.2h.8m-15.3 8.1h.8m8.6-14.7h.8m.5-7.7h.8m-8.1 10.9h.8m3.7 3h.8m-16.1 2.6h.8m24.2-5h.8m3.6-11.7h.8m-27.6 20.5h.8m2.3-13.6h.8m-3.6-7.6h.8m14.6-2.4h.8m-9.3 24.8h.8m-10.7-2.6h.8m23-12.7h.8m-11.2 11.4h.8m-4.8-12h.8m3.4 14.9h.8m-8.5-.8h.8m3.5 1h.8m-8.5-12.6h.8m6.6 8.3h.8m-3.7-17.4h.8m3.9 16.9h.8m-3.1 5.1h.8m5.5-14.5h.8m-5.7-1.4h.8m-2.3-5h.8m-13.3 21.6h.8m17.9-5.2h.8m2.5-4.3h.8m-17.5 6.6h.8m5.8-10.9h.8m10.4-.2h.8m-5.6 5.8h.8m-16.8-5.7h.8m.3-2.6h.8m1 10.5h.8m24.5-7.9h.8m-18.6 6.1h.8m6.1-5.4h.8m-6.3 17.7h.8m18.2-30.8h.8m-18.9 18.8h.8m4.5-3.6h.8m-16.4 .5h.8m13.9 9.8h.8m-22.1-2.4h.8m20.5-18.2h.8m-16.6 26.9h.8m5-11.3h.8m8 .5h.8m-16.9-5.5h.8m10.4 1.5h.8m0-11h.8m13.3 1.4h.8m-17.2-.1h.8m4.1 13.1h.8m5-14.3h.8m-8.9 12.7h.8m-6.2-10.4h.8m13.7 20.2h.8m-11.1-16.3h.8m-2.4 1.5h.8m10.5 3.2h.8m-7.4-5.9h.8m12 1.7h.8m-6.1 1.7h.8m-9.3-5.3h.8m-4.5 6.6h.8m3.3 2.8h.8m-.6 2h.8m9.4-.7h.8m-15.5-5.9h.8m-1.4-1.6h.8m18.3 4.3h.8m-19.2-3.8h.8m7.9-2.8h.8m4.9 1.5h.8m-4.9 6.1h.8m-8.7 10.8h.8m1.6-6.7h.8m-.6-19.1h.8m-6.7 6.1h.8m-1.5 16h.8m0-13.7h.8m1.4 2.5h.8m9.5-.6h.8m-4.8-.4h.8m-15.8 8.9h.8m11.1-6.2h.8m-2.3 2.2h.8m2.4-14.5h.8m5.1 12h.8m-6.9 3.5h.8m-11.8-13.3h.8m8.3-3.2h.8m-15.3 20.9h.8m3.9-21.2h.8m13.5 24h.8m-14.5-14.7h.8m6.7 3.1h.8m16-1.6h.8m-13.5 12.3h.8m16.7-15.6h.8m-10.9 3.9h.8m-21.4-9.2h.8m22.1-3.5h.8m-28.1 20.2h.8m21.3-.6h.8m-10.9-10.9h.8m-17.4 15.4h.8m24.4-18.7h.8m4.7-2.8h.8m-12.6-2.1h.8m11.7 1.7h.8m-3.6 24h.8m-10.1-8.8h.8m-6 .8h.8m-3-.5h.8m12.1-2.2h.8m-15.2-6.4h.8m12.1-2.4h.8m-9.5 10.7h.8m-4.4-12h.8m6.9 0h.8m-5.6 9.4h.8m14.6 3.6h.8m5.8-8.1h.8m-11.8 6.8h.8m-12 6.3h.8m13.4-13.6h.8m-4.2-2.7h.8m-3.7 11.1h.8m-4 3.6h.8m26.6-9.4h.8m-17.2-3.6h.8m-20.1 15.4h.8m2.4-15h.8m-3.4 26.9h.8m19-29.1h.8m-25.8-11.5h.8m12.1 17.5h.8m.6-4.2h.8m1.6 2h.8m-11.6 6.8h.8m11-15h.8m-4.5 8h.8m-6.9 24.9h.8m6.8-27.8h.8m-4.9 6.4h.8m-.5 2h.8m-8.3-5.3h.8m-10.2 8.4h.8m12.2-.6h.8m1.9-8.7h.8m4.3 2.2h.8m2.5 8.5h.8m-13.7-.3h.8m4.5-8.5h.8m-2 1.7h.8m-1.3 1.9h.8m4.7-9.3h.8m-3.6 17.9h.8m3-20.4h.8m-13.3 22.3h.8m15.2-24.4h.8m-8.9 22.5h.8m.6-10.8h.8m3.3-11h.8m2.3 7.7h.8m-22-1.8h.8m14.9 4.7h.8m-3.1 3.7h.8m-7.5-6h.8m3.4 .7h.8m-3.7-1.2h.8m15.2 1.5h.8m-23 3.2h.8m12.8-3.1h.8m9 1.9h.8m-6.3 10.2h.8m-1.8-15.9h.8m-3.2 4.4h.8m-14.6-.4h.8m17.6-7h.8m-2 14.8h.8m-16-10.6h.8m11.9 9.8h.8m3.2-3.3h.8m2.7-10.4h.8m-8.3-2.2h.8m-10.7 14.6h.8m-12.9-8.4h.8m16.8 1.2h.8m5.9-11.2h.8m-3.7 23.3h.8m4.9-7.2h.8m-8.7 1.1h.8m-11-5.4h.8m-3.7 10.3h.8m3.4-3h.8m9.4-11.8h.8m-5.6-1.4h.8m7.5 12.6h.8m-14.4 4.3h.8m1-.3h.8m-1.1-.2h.8m8.4-11.5h.8m-9.8 1h.8m13.2-1.2h.8m-19.7 20.2h.8m5.7-10.4h.8m-7.3 8.1h.8m16.8-19.5h.8m-1.1 6h.8m-11.6 5.9h.8m9.8-13.5h.8m-1 3h.8m-14 .5h.8m11.4 9.7h.8m-13.9-13.3h.8m.6 11.2h.8m19.9-5h.8m-14.3-1h.8m4.1-3.6h.8m-7.4-1.4h.8m-4.9 13.3h.8m8.6-10.1h.8m-17.2-3h.8m21.4 4h.8m2.2-3.4h.8m-22.6 .1h.8m1.2 9.2h.8m-2.2-2.5h.8m6.5-.1h.8m-11.7-.9h.8m9.2 4.4h.8m3.2-2.9h.8m-4.7 3.4h.8m-11.9-7h.8m3.5 5.2h.8m2.8 1h.8m-7.7-9.5h.8m10.4-3.9h.8m3.9 19.4h.8m-1.4-15.1h.8m5.4 13.8h.8m-12.6-9.4h.8m2.3 7.8h.8m20.9-18.1h.8m-29.2 21.9h.8m9.9-5.8h.8m-2-15.6h.8m-11.4 6.9h.8m8 2.7h.8m4.4-12.7h.8m-6.2 11.2h.8m-15.6-4.9h.8m22.5 12.7h.8m-6.4-5.1h.8m17 3.3h.8m-20.7-4.2h.8m3.8 5.5h.8m-4-.6h.8m5.5-5.4h.8m-20.4 1.7h.8m19.5 2.5h.8m-16-6.7h.8m9.4-13.2h.8m.8 22.5h.8m6.9-5.1h.8m-18.7 9.9h.8m8.4-8.5h.8m-9.4 12.3h.8m1.8-16h.8m-2-1.2h.8m1.9-.8h.8m7.4 8.6h.8m-3.9-2.8h.8m-8.4 7.2h.8m-5-9.5h.8m14.5 8.4h.8m.6-17.8h.8m-5 4.1h.8m-8.7 10.1h.8m8.8 3.5h.8m-10.5-9.5h.8m11.7-17.7h.8m-9 9h.8m.8 8.2h.8m-.9 1.6h.8m-7.1 2.3h.8m3.9 .2h.8m-10.2-4.1h.8m7.2-3.4h.8m-3.1 1.3h.8m11.3 6.1h.8m-9.3 8.9h.8m-6.8-10.6h.8m16.8-17.6h.8m-17.4 28.5h.8m5.1-6.1h.8m1.8-12h.8m-4.5 18.7h.8m2.6-16h.8m-7.2 8.5h.8m3.6-10.6h.8m8.7-4.1h.8m-17.1 5.1h.8m.5 4.7h.8m12.2 13.7h.8m-15-11.1h.8m-5-.3h.8m-7.2-5.7h.8m14.3 1.1h.8m10.3-7.2h.8m-1.4 5.4h.8m-7.2 11.1h.8m9.4-6.9h.8m-13.2-6.5h.8m3.5 16.4h.8m-25-8.5h.8m12.9 1.2h.8m1.4 5.1h.8m-2.1-4.2h.8m-11.5 9.2h.8m28.3-11.7h.8m-23.7 6.8h.8m-13.5-2.6h.8m41.1-4h.8m-22.5 2.3h.8m.9-.4h.8m-19.9-5.2h.8m33.1-3.7h.8m-26.2 9.5h.8m19.6-6.8h.8m-18.3 10.3h.8m13.6-3h.8m4.4-10.9h.8m1.2 1.4h.8m-16.6 5.1h.8m-5.7-3.3h.8m-5 12.1h.8m28.2-16.2h.8m-5.6 25h.8m-6.9-17.4h.8m10.2-7h.8m-23.3 4.6h.8m-4.8-1.8h.8m8.4-7.5h.8m-1.9 6.6h.8m-1.9 11.3h.8m-5.5-1.5h.8m1.6 1.2h.8m-2.3 7.5h.8m10.9-18.1h.8m7 3.1h.8m-25.3 4.2h.8m.6 5.2h.8m15.1-10.4h.8m-2.5 5.3h.8m-10.6-.9h.8m17.4-3.2h.8m-21.2-4.1h.8m3-1.3h.8m-20.4 7.3h.8m13.8-3.8h.8m-9.6 2.9h.8m14.7-1.3h.8m-12.6 16.2h.8m33.5-15.8h.8m-43.7-7.5h.8m21.5 .9h.8m-13.3 26.8h.8m3.9-12.5h.8m14-3.8h.8m-5.8-18.1h.8m-17.3 13.4h.8m-2.1-3.4h.8m2.5 3h.8m.2 9.6h.8m12.8-4.7h.8m-.5-17.7h.8m-8.3 13.2h.8m-1.2 2.4h.8m21-2.4h.8m-21.7 .3h.8m4.1-14.4h.8m-16 20.6h.8m9.3 5.9h.8m-17.2 .8h.8m1.2 1.1h.8m6.9-16.4h.8m6 5.1h.8m-20.2-3.8h.8m34 .4h.8m-5 8.8h.8m-14-6.9h.8m-3.9-4.1h.8m-.5-2.2h.8m20.4 10.9h.8m-4.3-2.1h.8m-12.5-12.9h.8m4.7 6.2h.8m.8 .3h.8m-14.7 16.9h.8m6.8-7.5h.8m7.6 5.4h.8m-11.9-25.4h.8m-1.2 22.9h.8m4.1-4.1h.8m-4.8-1.1h.8m17.8 6.4h.8m-13.1-2.4h.8m2-18.3h.8m-10.7 7.3h.8m8.7 4.2h.8m5.4-11.6h.8m-22.6 3.5h.8m15.1 7.6h.8m4.9 11.9h.8m-13.4-12.9h.8m19-3.4h.8m-24.1 10.8h.8m.8-10.6h.8m-10.1 12h.8m7.9-9.5h.8m13.1 6h.8m-16.9 7.7h.8m4.1-21.3h.8m-9.3 17h.8m11-9.1h.8m-5 8.3h.8m7.1-5.7h.8m-7.9 3.3h.8m5.7-8h.8m10.1 1.8h.8m-30.3 12.1h.8m4.7-11.4h.8m-.4 .3h.8m25.1-10h.8m-19-7.1h.8m-9.6 33.2h.8m20-10.1h.8m-21.4-6.3h.8m4.4 3.1h.8m.7-10.8h.8m6.3 3h.8m-9.2 9.5h.8m20.8-8.4h.8m-20.8-5h.8m11.9 10.2h.8m.8 2.2h.8m-11.1 5.2h.8m-6.1-9.9h.8m8 2h.8m4.2-.2h.8m-22.1 8.7h.8m15.6-16.2h.8m-5.9 4.4h.8m-8.1 2.2h.8m-7.1 2h.8m-.4 3.8h.8m23.2-.3h.8m-27.4-6.3h.8m17.5 1h.8m1.8-7h.8m8.4 8.3h.8m-8.8-8.8h.8m-17.4 14.7h.8m14.5-6.4h.8m2.2-5.2h.8m-13.3 14.5h.8m-5-6.1h.8m11.8-6.6h.8m-1.6-2.3h.8m-11.1 15.9h.8m.1-7.8h.8m-3.7-15.8h.8m1.7 15.8h.8m19-5.4h.8m-7.8-.3h.8m-7.7-3.2h.8m-.8 15.6h.8m-9.9-7.7h.8m7.4-2.5h.8m8.6 2.6h.8m-24.5 11.2h.8m19.4-4.8h.8m-11.8-.7h.8m-14.2-3.3h.8m11.8-3.6h.8m9.5-9.4h.8m-6.6 4.7h.8m-1.5 6.1h.8m-8.2-5.4h.8m-.3 11.6h.8m-8.7-6.7h.8m30 9.9h.8m-20-.3h.8m-9.1 1.8h.8m3.8-7.4h.8m18.2-6.3h.8m.9-14.5h.8m-4.7 21.9h.8m3.5-19.6h.8m-.6 13.6h.8m-13.8-.7h.8m1.3 7.9h.8m12-11.5h.8m-27.8 4.7h.8m2.9-1h.8m6.7 3h.8m-4.5 .7h.8m7.7 9.3h.8m-8-7h.8m-8.1-.6h.8m9.8-7.2h.8m7.9 4.5h.8m-12.5 3.9h.8m-16.1-1.7h.8m18.6-6h.8m-2.1-1h.8m2.4-1.6h.8m-5.3 14.5h.8m-1-9.1h.8m15.4 .5h.8m-24.2 4.6h.8m-8.9-3.7h.8m18.8 0h.8m-6.7-5.6h.8m6.4-9h.8m-10 29.4h.8m9.3-21.6h.8m1.2 4h.8m-14.4 1.2h.8m-6.9 10.1h.8m17.4-8.4h.8m-7.5 1.7h.8m-1-1.2h.8m.7-7.6h.8m0 1.1h.8m-5-.7h.8m2.7 6.2h.8m-7.2-2.5h.8m-5.3 4.9h.8m21-3.5h.8m-4.2-2.1h.8m-10.9-4.6h.8m-4.9-.4h.8m10.5 13.7h.8m-2.4-18.8h.8m-2.9-.1h.8m-5 9.7h.8m3.3 5.2h.8m-1.8-9.4h.8m-15 13h.8m8.3-2.1h.8m10.6-2.3h.8m-25 2.6h.8m6.3 4.5h.8m-3.7 1.7h.8m9.7-8.2h.8m7.4-7.2h.8m-2.1 7.2h.8m4.7-2.1h.8m-20.6-4.5h.8m17.1 1.5h.8m-6.7 8.6h.8m2.5-11.8h.8m-3.5-5.8h.8m-8.6 7.5h.8m-7.1-2.5h.8m14.8 .1h.8m-17.7 13.6h.8m11.2-5.9h.8m-12.3 2.5h.8m18.4-17.1h.8m-19.5 29.7h.8m11.5-20.4h.8m13.8 12.4h.8m-7.5-5.8h.8m-11.6 5.7h.8m6-10.5h.8m-22.6 1.9h.8m9.3 3.1h.8m-.5-15.2h.8m10.9 24.4h.8m-.4-15.7h.8m-25 10.1h.8m37.2-8.6h.8m-18.6-2.3h.8m-4.8 15h.8m-7.2-22.6h.8m7.2 24.6h.8m-6.1-5.7h.8m6.3-6.9h.8m-6.6 8.1h.8m2.2-9.1h.8m1-8.5h.8m11.4 7.7h.8m-7.4 1.7h.8m2-.9h.8m-22.1 5.8h.8m22.3-14.5h.8m-25 6.9h.8m19.1 .1h.8m-10.3 4.3h.8m.9-.1h.8m-7 9.6h.8m10.5-13.2h.8m-14.5-1.7h.8m11.6 12.1h.8m-19.3-13.2h.8m34.5-2.3h.8m-12.2 10.2h.8m-17.8-6.6h.8m2.4 4.9h.8m6.8 4.2h.8m3.3-11.6h.8m-2.3 2.4h.8m-8.6 5.1h.8m7.7-.1h.8m-17.6 20.2h.8m8.9-16.9h.8m12.9-6.5h.8m-2.5 8.9h.8m-7.9-16.1h.8m4 12.4h.8m-18.4 9.2h.8m9-6.8h.8m-3.8-13h.8m-2.2-3.3h.8m.1 22.2h.8m12.5-12h.8m-3-1.9h.8m-16.8 14.8h.8m17.8 1.5h.8m-17.9 .1h.8m14.2-13.1h.8m-11 15.4h.8m-3.1-20.1h.8m-1.1 14.1h.8m11.2-26.7h.8m2 16h.8m-4.6 5.2h.8m1.8-10.9h.8m-5.4 8.1h.8m15.8-.8h.8m-22.7 16.8h.8m13.4-26.1h.8m-18.6 1.4h.8m6.4 7.8h.8m-.1 2h.8m-3.7 13.7h.8m-6.4-16.7h.8m5.6 6.4h.8m12.6-9.3h.8m-19.2 10.3h.8m9.1-5.7h.8m-1.8 12.6h.8m-13.6-4h.8m.9-2.1h.8m-.1-17.8h.8m22.7 2h.8m-22.2 15.6h.8m4.4-20.3h.8m-4 8.8h.8m-1.8 3.9h.8m-10.5 5h.8m1.2 .7h.8m17.2-.3h.8m-3.8-5.1h.8m-7.2-6.2h.8m8.1 14.9h.8m-13.3-19.8h.8m-3 15.8h.8m17.9-3.6h.8m-17.9-2h.8m-2.4 17.7h.8m13-15.6h.8m-3.4-2h.8m-5.9-3.8h.8m-6.3 20.8h.8m12.9-13.8h.8m-18.9 2.1h.8m-3.4-6.3h.8m17.1 2.3h.8m3-4.4h.8m-11.8 7.4h.8m7.6-11.4h.8m-17.5 8.7h.8m19.9 2.7h.8m-13.5 6.7h.8m1.1-16.8h.8m4.4 10h.8m-4.6-15.1h.8m9 9.6h.8m-4.4-2.7h.8m-17.9 1.2h.8m8.9 .7h.8m.1-.1h.8m2.2-6.9h.8m-6.5 6h.8m-.2-1.5h.8m-.1 6.3h.8m7.2-4.4h.8m-13.3 3h.8m18.6 2.5h.8m-4.5-3.9h.8m-9.2-4.4h.8m-3.4 5h.8m-9-.4h.8m-2.8 9.9h.8m13.1-18.7h.8m-2.4 25.9h.8m.8-29.9h.8m-7.1 4.8h.8m21.1 15.8h.8m-18.2-5.3h.8m4.6-2.5h.8m-.4-.9h.8m-6.1 6.1h.8m-2.8 0h.8m10.3-6.3h.8m-19.9 9h.8m21.8-1.2h.8m-6.1-1.5h.8m-23 1h.8m0 4.3h.8m4.7-11.5h.8m5-11.8h.8m-1.8 11.8h.8m23.5-5.9h.8m-15.2 1.3h.8m8.1-10.7h.8m-12.7 27.4h.8m-5.6-8.8h.8m15.4-2.6h.8m-24.1 4.2h.8m12.4-3h.8m6.6 2.2h.8m-18.9-1.6h.8m-4 11.2h.8m1.9-7.2h.8m-7.7 .4h.8m8.6-5.9h.8m9-4.8h.8m-5.4-5h.8m58.4-40.6h.8m8.1-7.7h.8m-2.4 8.2h.8m5.1-1.8h.8m-10.6-5.8h.8m-.4-2.3h.8m-5.5 10.7h.8m-.2-4.8h.8m-6.5 2.1h.8m19.6-6.8h.8m-2.6-.6h.8m-1.4 9.9h.8m-13.1 2.6h.8m4.4-2.9h.8m-8.6 2.4h.8m-1.8 1.7h.8m10.4-8h.8m-11.5 2.8h.8m1.3-.5h.8m-4.7 7.5h.8m6.3-11.4h.8m15.3-4.2h.8m-14.9 9.4h.8m-.5 5.5h.8m-2.3-7.9h.8m1.2-8.3h.8m-13.3 10.9h.8m12.9-4.8h.8m-9.7-1.5h.8m3.1 1.7h.8m6.3-.9h.8m-6.3 3.2h.8m4.6-.5h.8m-2-1.1h.8m2.4 4.6h.8m1.1-6.8h.8m-5.8 7.2h.8m-11.4-5.1h.8m9.1-2.7h.8m2-.6h.8m-8.5 7.4h.8m4.8-5.1h.8m.1-3.4h.8m6.9 1.2h.8m-10.1 4.8h.8m-13.1-1.2h.8m-1.7 6.6h.8m11.3-9h.8m-2.7-2.3h.8m-9.3 7.8h.8m5.4-2.1h.8m-7.8 4.5h.8m13.6-5.6h.8m-9.1 2.7h.8m3.8-5.2h.8m.1 8.1h.8m-3.8-5.8h.8m.3 .1h.8m6 .9h.8m-8.5-2.1h.8m10.1-4.2h.8m-9.8 3.6h.8m-3 7.7h.8m-6.2-6.7h.8m13.6-5.2h.8m-8.4 6.9h.8m-10.8 1h.8m13.5-1.3h.8m-2-6.5h.8m-15.2 5.6h.8m10 4.5h.8m11.3-2.8h.8m-21.8-.7h.8m10 4.5h.8m16.1-12.1h.8m-23.7 6.1h.8m8.3-1.5h.8m-2.7 4.4h.8m-4.5-1.2h.8m-8 .1h.8m11.6-1.8h.8m-.2 1.5h.8m-3.3 1.3h.8m1.8-3h.8m-1.9 3.5h.8m-7.6-5.2h.8m-1.1 3.5h.8m-4.5 5.4h.8m6.7-7.1h.8m-13.3 .9h.8m14.1-2.2h.8m7.3-3.7h.8m-12.1 1.5h.8m2.5 2.6h.8m-5.5 6h.8m-1.4-1.6h.8m-4.9 4.6h.8m14.5-10.7h.8m-13.6 5.8h.8m2.9-3.7h.8m10-2.2h.8m-6.2 .6h.8m-2.3 2.7h.8m-6.1 5.2h.8m-12.2-.2h.8m14.8-.2h.8m-9.9 0h.8m11.6-6.1h.8m-13 4.2h.8m7.7-5h.8m-4 4.1h.8m-5 1h.8m7.7-7.9h.8m-9.7 2h.8m1.2 1.3h.8m2.6 3.3h.8m8-3h.8m-8.7 .3h.8m-6.8 3.7h.8m10.4-7.2h.8m-2.3 6h.8m-7.5-5.5h.8m2.9 9.2h.8m-2.6-9.5h.8m1.6 6.5h.8m-3.6-4h.8m3.7-4h.8m-10.3 5.2h.8m6.3 7.2h.8m-3.8-6.5h.8m6.9-6.5h.8m-7.7 8.2h.8m-1.2-1.1h.8m-2.2-1.2h.8m5 .5h.8m-8 .8h.8m6.2-1.9h.8m-1.8 3.3h.8m1.5-6.5h.8m2 .3h.8m-10.1 6.4h.8m-8.6 3h.8m8.3-4.1h.8m9.6-1.9h.8m-8.9 2.1h.8m-.1-.6h.8m-4.4 2.3h.8m3.1-3.4h.8m-1.6-2.9h.8m-1.9 5.5h.8m-.3-2.1h.8m5.9-1.2h.8m-14.9 2.1h.8m9.1 .8h.8m-16 3.4h.8m16.7-3.8h.8m-4.5-6.4h.8m-1.8 7.1h.8m-14.1 0h.8m9.4 1.9h.8m12-9.3h.8m-21.9 7.4h.8m7.9-4.2h.8m12.4-2.1h.8m-13.8 6.4h.8m1.2-5.2h.8m5.3 4.3h.8m-11.2 .1h.8m1 6.1h.8m7.4-5.6h.8m-6-2.6h.8m-8.1 1.5h.8m2.1 5.1h.8m-.4-2.8h.8m-3 .5h.8m-5.1 2.7h.8m14.1 .2h.8m-7.5-11.8h.8m11.9 8.9h.8m-15.4 .5h.8m-.2 4h.8m2.8-5.7h.8m-7.2-4.1h.8m10.7-2h.8m-20.7 9.3h.8m16.3-8.7h.8m-7.8 8.6h.8m-11.4-4.1h.8m7.7 1.2h.8m10.5 1h.8m-15.1-4.4h.8m10-3.4h.8m-4.1 1.7h.8m9.1 8.1h.8m-13.5-13.3h.8m6.2 4.8h.8m-11.8 1.1h.8m9.6-2.8h.8m-15.7 12.2h.8m3.9-4.8h.8m4.2-1h.8m-7-1.4h.8m5.7 2.4h.8m-6.5 .9h.8m8.3-1.3h.8m-4.2 .6h.8m-.6-1.1h.8m-8.8-.3h.8m5.1-4.2h.8m-.1 6.1h.8m8.5 .5h.8m-7.5-1.3h.8m2.1-4.3h.8m-5.6 6.9h.8m-.1-4.8h.8m10.8-5.7h.8m-2.2-.2h.8m-12.4 6h.8m-1 2h.8m10.1 .3h.8m-10.6-5.1h.8m-.1 6.6h.8m-9.8-.7h.8m11.6-1.5h.8m-.1-2.5h.8m-4.3 1h.8m-1.7-2.1h.8m-.8 5.9h.8m9.1-5.5h.8m5.6-11.8h.8m-10.2 8.7h.8m-3.4 6.6h.8m1-3.7h.8m-8.5 1.2h.8m5.1 3.1h.8m2-7.4h.8m-1 4.3h.8m-.7-2.5h.8m-12.1 5.4h.8m3.5 1.3h.8m-.2-10.8h.8m3.2 2.7h.8m2.6 1.7h.8m-14.9 3h.8m12.4 .5h.8m-4 .3h.8m-5.8 .9h.8m10.4-1.7h.8m-16.4 1.7h.8m17.4-2.6h.8m-10.3 2.7h.8m1.4-2.7h.8m-5 2.5h.8m7.2-1.3h.8m-8.1-1.8h.8m5.4-.3h.8m-2.4-6.6h.8m-17.1 11.9h.8m12.6-4.2h.8m-10.7 4.9h.8m-26.5 72.7h.8m-12.7-6.6h.8m-23.6 8.8h.8m91.1 17.9h.8m-84.9-94.7h.8m40.9 40h.8m47.5 3.1h.8m-71.2-29.3h.8m-17.7 67.4h.8m40.2-93.5h.8m35.2 92.4h.8m-80.9-63.2h.8m67.1 11.3h.8m-21.1-30.7h.8m2.4-8.1h.8m-67.1 60.1h.8m88.7-42.3h.8m-82.2-8.5h.8m47.5-12.6h.8m-45.7 3.2h.8m66 18.5h.8m12.7 54.7h.8m-68.1-76.7h.8m-2.2 96.8h.8m42.4-57.3h.8m-34.6 50.2h.8m-16.8 17h.8m15.2-81h.8m-19.9-15.6h.8m72.3 58.5h.8m-14.5 12.9h.8m3.9-28.5h.8m-83.4 47.7h.8m19.4-40.2h.8m11.7-32.1h.8m72.4 76.8h.8m3.6-99h.8m-77.2 4.5h.8m-25.3 41.6h.8m29.6 6.4h.8"/>
<line x1="198.4" y1="644" x2="240.4" y2="644" stroke="#f55" stroke-width="0.8" />
<line x1="259.3" y1="531.2" x2="259.3" y2="644.5" stroke="#222" stroke-width="1" />
<line x1="195.4" y1="558.3" x2="313" y2="558.3" stroke="#222" stroke-width="1" />
<line x1="195.4" y1="531.2" x2="195.4" y2="644.5" stroke="#555" stroke-width="0.9" />
<line x1="195.4" y1="644.5" x2="313" y2="644.5" stroke="#555" stroke-width="0.9" />
<path stroke="#555" stroke-width="0.6" fill="none" d="M192.6 641.5h2.8M194 635.44h1.4M194 631.8h1.4M194 629.38h1.4M194 627.36h1.4M194 625.74h1.4M194 624.33h1.4M194 623.32h1.4M194 622.31h1.4M192.6 621.3h2.8M194 615.24h1.4M194 611.6h1.4M194 609.18h1.4M194 607.16h1.4M194 605.54h1.4M194 604.13h1.4M194 603.12h1.4M194 602.11h1.4M192.6 601.1h2.8M194 595.04h1.4M194 591.4h1.4M194 588.98h1.4M194 586.96h1.4M194 585.34h1.4M194 583.93h1.4M194 582.92h1.4M194 581.91h1.4M192.6 580.9h2.8M194 574.84h1.4M194 571.2h1.4M194 568.78h1.4M194 566.76h1.4M194 565.14h1.4M194 563.73h1.4M194 562.72h1.4M194 561.71h1.4M192.6 560.7h2.8M194 554.64h1.4M194 551h1.4M194 548.58h1.4M194 546.56h1.4M194 544.94h1.4M194 543.53h1.4M194 542.52h1.4M194 541.51h1.4M192.6 540.5h2.8M194 534.44h1.4M199.4 644.5v2.8M206.09 644.5v1.4M210.1 644.5v1.4M212.78 644.5v1.4M215.01 644.5v1.4M216.79 644.5v1.4M218.36 644.5v1.4M219.47 644.5v1.4M220.59 644.5v1.4M221.7 644.5v2.8M228.39 644.5v1.4M232.4 644.5v1.4M235.08 644.5v1.4M237.31 644.5v1.4M239.09 644.5v1.4M240.66 644.5v1.4M241.77 644.5v1.4M242.89 644.5v1.4M244 644.5v2.8M250.69 644.5v1.4M254.7 644.5v1.4M257.38 644.5v1.4M259.61 644.5v1.4M261.39 644.5v1.4M262.95 644.5v1.4M264.07 644.5v1.4M265.19 644.5v1.4M266.3 644.5v2.8M272.99 644.5v1.4M277 644.5v1.4M279.68 644.5v1.4M281.91 644.5v1.4M283.69 644.5v1.4M285.25 644.5v1.4M286.37 644.5v1.4M287.49 644.5v1.4M288.6 644.5v2.8M295.29 644.5v1.4M299.3 644.5v1.4M301.98 644.5v1.4M304.21 644.5v1.4M305.99 644.5v1.4M307.56 644.5v1.4M308.67 644.5v1.4M309.79 644.5v1.4M310.9 644.5v2.8"/>
<text x="197.7" y="541.4" font-size="5.6" font-weight="normal" fill="#222">Q1</text>
<text x="197.7" y="549.2" font-size="5.6" font-weight="normal" fill="#222">0.14</text>
<text x="304.5" y="541.4" font-size="5.6" text-anchor="end" font-weight="normal" fill="#222">Q2</text>
<text x="304.5" y="549.2" font-size="5.6" text-anchor="end" font-weight="normal" fill="#222">5.13</text>
<text x="197.7" y="630.3" font-size="5.6" font-weight="normal" fill="#222">Q4</text>
<text x="197.7" y="638.4" font-size="5.6" font-weight="normal" fill="#222">94.3</text>
<text x="304.5" y="630.3" font-size="5.6" text-anchor="end" font-weight="normal" fill="#222">Q3</text>
<text x="304.5" y="638.4" font-size="5.6" text-anchor="end" font-weight="normal" fill="#222">0.40</text>
<text x="209.5" y="657" font-size="4.6" text-anchor="middle" font-weight="normal" fill="#555">10</text>
<text x="213.2" y="653" font-size="4.6" text-anchor="middle" font-weight="normal" fill="#555">2</text>
<text x="239.4" y="657" font-size="4.6" text-anchor="middle" font-weight="normal" fill="#555">10</text>
<text x="243.1" y="653" font-size="4.6" text-anchor="middle" font-weight="normal" fill="#555">3</text>
<text x="269.3" y="657" font-size="4.6" text-anchor="middle" font-weight="normal" fill="#555">10</text>
<text x="273" y="653" font-size="4.6" text-anchor="middle" font-weight="normal" fill="#555">4</text>
<text x="299.2" y="657" font-size="4.6" text-anchor="middle" font-weight="normal" fill="#555">10</text>
<text x="302.9" y="653" font-size="4.6" text-anchor="middle" font-weight="normal" fill="#555">5</text>
<text x="190.8" y="643.8" font-size="4.6" text-anchor="end" font-weight="normal" fill="#555">10</text>
<text x="192.6" y="640.6" font-size="4.6" text-anchor="middle" font-weight="normal" fill="#555">0</text>
<text x="190.8" y="623.6" font-size="4.6" text-anchor="end" font-weight="normal" fill="#555">10</text>
<text x="192.6" y="620.4" font-size="4.6" text-anchor="middle" font-weight="normal" fill="#555">1</text>
<text x="190.8" y="603.4" font-size="4.6" text-anchor="end" font-weight="normal" fill="#555">10</text>
<text x="192.6" y="600.2" font-size="4.6" text-anchor="middle" font-weight="normal" fill="#555">2</text>
<text x="190.8" y="583.2" font-size="4.6" text-anchor="end" font-weight="normal" fill="#555">10</text>
<text x="192.6" y="580" font-size="4.6" text-anchor="middle" font-weight="normal" fill="#555">3</text>
<text x="190.8" y="563" font-size="4.6" text-anchor="end" font-weight="normal" fill="#555">10</text>
<text x="192.6" y="559.8" font-size="4.6" text-anchor="middle" font-weight="normal" fill="#555">4</text>
<text x="190.8" y="542.8" font-size="4.6" text-anchor="end" font-weight="normal" fill="#555">10</text>
<text x="192.6" y="539.6" font-size="4.6" text-anchor="middle" font-weight="normal" fill="#555">5</text>
<rect x="317" y="531.2" width="118.4" height="113.3" fill="#fff" stroke="#c8c8c8" stroke-width="0.9" />
<ellipse cx="368.5" cy="599.5" rx="12.5" ry="7.2" transform="rotate(-12 368.5 599.5)" fill="#ff1c10" opacity="1" filter="url(#rb)"/>
<path stroke="#ff2a1e" stroke-width=".85" fill="none" d="M377.6 598.2h.8m-23.9 8h.8m10.1-6.3h.8m4.6 7.5h.8m-1.8-3.5h.8m-16.7-10.5h.8m8.4-1.7h.8m10.4-6.4h.8m2.6 15.1h.8m-7.8 3.4h.8m-.4-5.6h.8m-19.2 19.5h.8m23.6-26.6h.8m-8.1 8h.8m.1-.5h.8m-15 4.1h.8m25.4 0h.8m-6.3-10.1h.8m-8.8 2.6h.8m-.3 7.9h.8m1.8-13.5h.8m-3.4 8.1h.8m.5 1.7h.8m-12-9.4h.8m12.5 13h.8m-6.2-13.1h.8m10.6 .9h.8m2.8 5.7h.8m-13.8-6.8h.8m5.4 1h.8m5.8 7.3h.8m-25.2 6.2h.8m13.4 5.6h.8m-1.2-5.5h.8m2-12.1h.8m-11.6 13.5h.8m4.6-10.2h.8m1 3.6h.8m-5.3-.8h.8m.5-.6h.8m7.1-2.9h.8m-3.3-6.4h.8m-6.8 15.3h.8m6.9-2.5h.8m-12.9 7.5h.8m-3.4-2.6h.8m-4.5-10.5h.8m16 3.4h.8m1.7 6h.8m1.4 3.7h.8m-7.6-4.1h.8m-18.5-2.3h.8m9.3-3.1h.8m7.7 13.1h.8m-11.7-20.7h.8m10.1 11.8h.8m-20.3 2.4h.8m21.3-8.1h.8m-7.6 3.7h.8m-3.3-7.5h.8m13.2 4.5h.8m4.7-4.6h.8m-19.1-1.9h.8m.1 5h.8m19-5.2h.8m-29.9 5h.8m12.2-.1h.8m0-4.4h.8m-9.7 16.3h.8m5.9 2.7h.8m5.4-12.1h.8m-7.5 10.3h.8m1.2-14h.8m1.4 9h.8m-7.9-5.4h.8m-6.6-1.1h.8m3.3 4.5h.8m-19.9 3.3h.8m42.6-11.6h.8m-29.3 8.6h.8m21-15.7h.8m-20.7 9.3h.8m11.7 4.7h.8m-19.3 8.2h.8m24.9-11.6h.8m-16.7-6.7h.8m6.8 1.9h.8m-5.2 4.7h.8m-15.2-6.9h.8m14.8 8.2h.8m-6.6-6.1h.8m-.8-1.5h.8m-7.7 12.3h.8m12.4-7.4h.8m-22.6-3.1h.8m4.1-3.2h.8m12.5 7.9h.8m3.3-2.5h.8m4.2-1.3h.8m-6.6 1.6h.8m-.1 5.8h.8m.8-6.6h.8m-8.4 5.8h.8m15.1-7.3h.8m-12.6-4.2h.8m-14.6 3.6h.8m12.1 14.4h.8m-6.7-7.8h.8m12.2-7.4h.8m2.2 10.9h.8m-18.3-4.3h.8m17.5-6.5h.8m-4.6 5.8h.8m-7.6-2.3h.8m-9.2 18.1h.8m20.7-16.5h.8m-13.9 8h.8m7.2-10.3h.8m-13.2 3.8h.8m9-5.8h.8m-3.9 14h.8m-6.8-2.6h.8m-17.6 5.1h.8m18.6-5.4h.8m.5-7.9h.8m-3 6.8h.8m10.6-2.1h.8m-14.4-9.2h.8m-3.5 8.6h.8m-20-12.9h.8m39.5 11.9h.8m-9.9 3.2h.8m-4.3 1.2h.8m4.5-11h.8m-4.2 .7h.8m13.1-.8h.8m-21.1 13.8h.8m-2.8-6.2h.8m-1.2-4.8h.8m12.2 4.1h.8m-16.2 1.8h.8m5.7 3.4h.8m13.5-17.1h.8m-5.3 19.9h.8m-13.7-13.5h.8m6.3 1.9h.8m-13.3 6h.8m.3 3.7h.8m3.5 .4h.8m-12.3-15.6h.8m13.3 6.1h.8m8.9 7.8h.8m-9.6-11.8h.8m-15.5 9.3h.8m24.1 6.6h.8m-14.8-6.3h.8m-10.9-2.9h.8m18.9-4.6h.8m-22.7 9.6h.8m29.2-.9h.8m-8.8-11.6h.8m6.3-5.5h.8m1.5 14.2h.8m-16.5 11.6h.8m-10.7-7.5h.8m25.4-4.7h.8m-19.1-5.7h.8m-7.5 17.8h.8m24.4-10.6h.8m-49-5.7h.8m40.5 3.4h.8m-11.1-1.4h.8m-2.4 6h.8m1.5 4.2h.8m4.1-8h.8m-16.7 2.7h.8m7.8 6.8h.8m-9.6-12.1h.8m14.8-5.3h.8m-17.1 .1h.8m8.8 1h.8m-.4 9.5h.8m7.7 1.2h.8m0-7.4h.8m-19.7 8.6h.8m7.1 19.4h.8m-2.3-22.2h.8m-1.9 2.1h.8m28.7-11.1h.8m-15.3 8.5h.8m-5.9-.3h.8m-12.9 8.9h.8m.5-6.8h.8m-4.9 6.3h.8m8.6-11.7h.8m-8.4 6h.8m-3.8-4.9h.8m24.6-2.7h.8m-12.6 9.8h.8m6.5-7.2h.8m-6.8 6.8h.8m3.1-7.1h.8m-4.5 4.5h.8m17.6-15.4h.8m-14 13.7h.8m-23.9 4h.8m6.2 .6h.8m21.1-16h.8m8.8 7.2h.8m-9.9 1.9h.8m-25.2 1.2h.8m-10.3 8.4h.8m12.6-13.9h.8m4.8 4.6h.8m-13.5-.8h.8m28.8 2.3h.8m-24.1 1.5h.8m16.2 1.4h.8m-8.9-1.3h.8m1-11.8h.8m-.1 5.3h.8m-4.8 4.2h.8m-1.2 3.5h.8m-5.1-1h.8m-4.5-5.1h.8m19.3-9.1h.8m-8.3 16.7h.8m-3.6-10.9h.8m7.4 5.7h.8m-24.3 13.7h.8m-5.4 2.5h.8m20.4-14h.8m3 10.4h.8m6-25.6h.8m-2.2 6h.8m-12.7 10.8h.8m-21-3.4h.8m14.2-2.9h.8m4.2 3.1h.8m1.5 15.2h.8m-15.1-9.4h.8m-11.4-13.8h.8m7.6 10.6h.8m8.3-2.5h.8m-1.3-1h.8m-6.8-1.1h.8m21 1h.8m-9.4 5.9h.8m-3.4-7.9h.8m22.7 6.8h.8m-22.9-4.8h.8m-4.8-3.4h.8m1.4 10.7h.8m2.6-4.7h.8m6.5-8.4h.8m-24.8 22.1h.8m4.8-13.4h.8m.8-6.2h.8m-5.8 12.2h.8m21.2-10.7h.8m-13.3-.2h.8m-20.2 4.3h.8m46.7 1h.8m-30.3 0h.8m19.1-5.8h.8m-21.9 1.2h.8m-1 5.5h.8m10.7-14.1h.8m-9.3 1.6h.8m4.8 7.1h.8m7.3-10.3h.8m-39 29.4h.8m34-9.8h.8m-20.8-.7h.8m26.8-.6h.8m-17.3-11.5h.8m-6.2 20.7h.8m9.7-15.6h.8m-.9-9.7h.8m3.7 3.1h.8m-23.8 13.1h.8m-2.8-19.7h.8m26.7 17.1h.8m-17.6-3.9h.8m-12.4 11.5h.8m29.2-18.2h.8m-5.9 17h.8m-16.6-11.8h.8m22.7 6h.8m-11.2-3.5h.8m-24.8 2.6h.8m14.2 1.1h.8m-12.6-2.1h.8m10.6-9.5h.8m11.9-5.2h.8m-23.5 14.7h.8m3.4 2.6h.8m24.8-7.6h.8m10.6-7.9h.8m-29.7 19.8h.8m3.2-10.2h.8m4.7-3.3h.8m-14.3 9.3h.8m-.8 3.6h.8m23.8-4.8h.8m-3.5 3.5h.8m-5.6-14.4h.8m-6.7 1.9h.8m7.8 7.9h.8m-2.2 1.3h.8m-1.1-4.7h.8m-4.2-3.1h.8m-16.5 2.7h.8m-2.5 3.3h.8m27.5-8.9h.8m-24.8 9.8h.8m16.6-2.5h.8m-17.8-1.7h.8m-12.5 11.9h.8m25.4-11.4h.8m-23.7-4.6h.8m19 3.5h.8m-.3-2.8h.8m-3.6 7h.8m.5 8.8h.8m3.4-12.9h.8m-4.6-11.3h.8m-6.8 5.2h.8m-16.2 7.1h.8m30.1-2.4h.8m-30.4 5.3h.8m1-6.8h.8m11.1 10.7h.8m-3.1-6.1h.8m7.3 7.5h.8m-8.4-2.5h.8m14.7-3.6h.8m-22 .4h.8m19.6-3.1h.8m-27.5 .9h.8m24.1-9h.8m-25.8 11.3h.8m10.7-1.9h.8m7.4 9.1h.8m-25.6-11.3h.8m-.2-2.2h.8m11 8.6h.8m13.2-7.3h.8m-21.6-5.1h.8m1.5 12.5h.8m15-6.9h.8m-22.4-3.7h.8m7 1.2h.8m17.5 6.1h.8m2.2 3.6h.8m-5-6.1h.8m-7 4.3h.8m16 2.4h.8m-24.9-9.9h.8m5.5 4.1h.8m3.4-1.7h.8m-2.9-.2h.8m-12.5-6.4h.8m9.6 4.5h.8m-21.9 6.5h.8m18.6-6.2h.8m-6.3 13.7h.8m2.2 6.1h.8m10.3-13.4h.8m-19.6-3.4h.8m13.9-7.1h.8m1.3 11.3h.8m-21.5-4h.8m-1.6 8.5h.8m12.1-5.1h.8m7-10.7h.8m-8 2.5h.8m5.7 4h.8m-7.1 9.2h.8m7.5-12.8h.8m-29.6 2.1h.8m32.6-1.4h.8m-23.4 7.7h.8m.4 1.2h.8m5.9-5.5h.8m-2 3.5h.8m12.6-.6h.8m-2.4-7.7h.8m5.7-4.4h.8m8.3 5.2h.8m-35.3 10.4h.8m17.6-5.5h.8m-17.4-1.3h.8m16.8 1.1h.8m7.3 9.1h.8m-12.8-9.8h.8m-5.6 4.4h.8m1.7-10.7h.8m.3 6.3h.8m-10.1 6.9h.8m14-7.5h.8m-5.4 5.1h.8m-4.5 1.5h.8m-4.4-1.8h.8m16.2-2.8h.8m-23.7 2.7h.8m6.3-.3h.8m7.7-8.3h.8m13.5 0h.8m-30.4 3.7h.8m21 3.1h.8m-26.3-4.2h.8m34.2 3h.8m-18.9-13.4h.8m-14.9 12.9h.8m19.8-4.7h.8m-10.6 6.1h.8m8.2-11.7h.8m-9.1 8.3h.8m10.2 7.6h.8m-17.9-7.2h.8m6.3-1h.8m1.6-4h.8m-13 15h.8m8-14.2h.8m7.7 10.8h.8m-10.6-2.2h.8m-2 1.3h.8m23 4.9h.8m-19.3-24.5h.8m-14.6 16.9h.8m10.6 2.9h.8m-4.2-13.2h.8m7.2 10.6h.8m-22.4 2.7h.8m7.3 0h.8m13.2-2.7h.8m-11.8-11.5h.8m16.7 .1h.8m-6.6 9.5h.8m-17.8 3.6h.8m14.8-1.9h.8m10.7-1.4h.8m-23.3 3.4h.8m-17.1-3.3h.8m39-6.9h.8m-15.8-1.6h.8m-7.7 12.9h.8m5.6-2.1h.8m-9-3.7h.8m-2.3 2.4h.8m4.5-1.6h.8m-7 2.8h.8m17.3 1.7h.8m-7.5-14.6h.8m-20.8 10h.8m23.5-3.1h.8m-18 3.6h.8m8.2-7.9h.8m4.7 1.4h.8m-14.6 12.9h.8m13.7-12.7h.8m-1-8.9h.8m-16.2 12.7h.8m10.4 16.5h.8m-2.2-16.4h.8m-6.9-16.1h.8m-.8 31.4h.8m18.6-3.9h.8m-4.7-23.6h.8m-7.8 21.6h.8m10.4-8.4h.8m-26.7 13.7h.8m10.9-11.4h.8m-8.5-.6h.8m15.5-10h.8m-8.6 9h.8m-11.5 2.5h.8m14.1-8.1h.8m-2.5 18h.8m-.6-16.1h.8m9.8 4.4h.8m-27.8-2h.8m17.1 1h.8m-18.6-1.3h.8m27.5 .4h.8m-12-.2h.8m-21.6 7.2h.8m-2.4-8h.8m13.8 9.9h.8m-3.2-13h.8m2.8 6.8h.8m4.7 1.5h.8m-3.9-9.3h.8m3.1 9.2h.8m-14.5 1.6h.8m13.3-16.1h.8m3.8 12.2h.8m-25.7 7.4h.8m13.3-3.6h.8m1.9-1.3h.8m8.3-1.4h.8m-8.5 .8h.8m-7.8 1.4h.8m10.6-10.2h.8m1.1 3.4h.8m-34.9-4.2h.8m23.6 8.1h.8m10.7 4.3h.8m4.9-12h.8m-4 15.5h.8m-8.3-10.9h.8m-11.8 13.6h.8m-9.4-8.5h.8m12.3-3.7h.8m2 1.7h.8m-4.7 .9h.8m-8.8 9.7h.8m6 2.6h.8m-7.1 1.2h.8m10.2-12.5h.8m-6.1 3.3h.8m-1.8-.4h.8m-5.5-.2h.8m12.5-2.9h.8m-6.4 .6h.8m-5.3 .1h.8m9.6-12.9h.8m.8 13h.8m-5-3.3h.8m-18 2.3h.8m33.7 1.6h.8m-22.1 2.9h.8m11.1 .4h.8m-3.8-15.8h.8m-8.6 15.2h.8m-23.8 2.3h.8m22.9-12.2h.8m-25.3 4.7h.8m26.2-7.8h.8m-24.3 22.8h.8m25.3-7.8h.8m.5-14.6h.8m-9.2 6.5h.8m7.5-5.7h.8m.4 4.6h.8m-8.5 4.9h.8m-20 .1h.8m23.3-1.6h.8m-3.9 0h.8m-5.3-4.1h.8m3.9-9.7h.8m2.7 10.3h.8m5.2 1.4h.8m-10.3 .9h.8m-4.3-3.5h.8m-1.9 5.2h.8m11.2-9.5h.8m-2.6 13.9h.8m-9.5-21.8h.8m1.7 25.4h.8m-4.5-20.3h.8m-6 6.3h.8m4.7 8.3h.8m8.9 3.5h.8m-18.9-13.6h.8m23.1 3.1h.8m-2.2 4.9h.8m-15-7.7h.8m11.1 10.2h.8m-11.7-10.3h.8m10.3 6.8h.8m-12-4.8h.8m-7.2 5.6h.8m11.6-2.1h.8m-2.7-8.8h.8m-3 15.9h.8m-14.7-3h.8m27.7-10.9h.8m-9.1-14.9h.8m-5.4 22.5h.8m13.3-21h.8m-29.6 21h.8m-1.7-2.2h.8m15.2 1.2h.8m-9.8 10.5h.8m2.9-15.4h.8m14.6 13.7h.8m-7.3-14.6h.8m-7.7 3.1h.8m-3 4.1h.8m6.9 .9h.8m-10.5-13.6h.8m1.6 13.8h.8m12.3-3.5h.8m-4.4 4.9h.8m-10.6-21.6h.8m-1.4 5.1h.8m4 17.2h.8m8.2-2.3h.8m-11.8-11.2h.8m9.7 4.5h.8m-.8 3.4h.8m-6.5 9.3h.8m-2.6-8.1h.8m-20-1.8h.8m24.5 9.6h.8m-18.3-9.3h.8m-2 2h.8m.9-8.4h.8m15.3 7.5h.8m.8 5.1h.8m-1.1-2.4h.8m-17.2 4.9h.8m9.4-6.5h.8m-9.5 3h.8m4.8-9h.8m2.6 1.5h.8m-12.6 2.2h.8m7.9-4h.8m4.6 3.1h.8m-7.7 4h.8m13.5-5.3h.8m-18.6-4.5h.8m8.2 6.2h.8m7.8-2.3h.8m-6.2-2.4h.8m5.9 9.6h.8m-17.9-2.3h.8m6.8-6.9h.8m-.4 5.3h.8m15.3-8h.8m-34.8 7.3h.8m11.8 .2h.8m15.3-3h.8m-16.6 .1h.8m-1.5-10.3h.8m17.5 1.9h.8m-19.6 20.2h.8m12.8-13.7h.8m-14.9 7.4h.8m10.1-2.1h.8m.7-4.9h.8m-3.8 3.5h.8m3.4-1.6h.8m10.6-10.2h.8m-34.9 17.8h.8m6.9-1h.8m10.8-2.7h.8m-20.8-5.4h.8m6.6-12.1h.8m-10 27.5h.8m4.3-5.9h.8m-1.1 3h.8m13.5 6.2h.8m-6.7-20.5h.8m3.9 8.7h.8m3-1.8h.8m-18.6 1.8h.8m-4.9-10.9h.8m6.4 7.2h.8m4 3.3h.8m-3.8-3.6h.8m-2.4 12h.8m1.3-10.3h.8m-10.4-3.4h.8m16.5 2.5h.8m-1.2 5.5h.8m1.4 0h.8m-.2 2h.8m7.6-5h.8m-17.9-3.4h.8m3-2h.8m11.1 6.7h.8m1.9 3h.8m-7.6-2.5h.8m-27.5-1.3h.8m19.7 6.2h.8m5.7-9.1h.8m-14.9 2.1h.8m14 19.1h.8m7.6-29.4h.8m-22.5-1.4h.8m13.4 1.5h.8m-11.3 8.4h.8m-4.1 9.6h.8m-4.9-5.8h.8m16.2 4.6h.8m-5.8-18.9h.8m-7.5 .2h.8m-2.2 6.8h.8m-16.2 4.5h.8m15.9 3h.8m-5.9-7h.8m6.9 13.1h.8m11.6-16.2h.8m4.3 4.1h.8m-10.3-1.7h.8m4.6 2.5h.8m-13.4 2.2h.8m-13.6-1.5h.8m-1.4 4.5h.8m-3.9 .7h.8m32.4-11.9h.8m-29.3 8.1h.8m16.3-2.9h.8m-.3-2.2h.8m-9.7 6.4h.8m-15.5 1.9h.8m3.7-1.4h.8m4.4-7.5h.8m-7.2 21h.8m17.8-11.1h.8m-12.4-2h.8m15.8-11.6h.8m-.6 5.4h.8m-3.4 9.6h.8m-2.1-13h.8m-9.2 9.5h.8m-6.4 .1h.8m5.6 9.1h.8m-22.2-4.2h.8m41.7-5.1h.8m-25.9-4.8h.8m11.8 2.5h.8m-18.4 7.9h.8m9.9-5.7h.8m17-7.3h.8m-24.3 6.2h.8m14.1-.9h.8m-11.5-14.5h.8m12.8 10.7h.8m-17.2 6.5h.8m-1.5 7.6h.8m-2-1.8h.8m.3-10.3h.8m12.8-1.9h.8m21.2-.8h.8m-29.9 4.1h.8m12.8-8.5h.8m-33.4 7.2h.8m43.8 4.1h.8m-28.6-14.4h.8m1.1 6.3h.8m-2.9 4.4h.8m-8.9-5.5h.8m-1 10.4h.8m14.6 1h.8m-5.2-3.8h.8m-2.2 1.6h.8m4.5-5h.8m21.1 11h.8m-16.9-7.1h.8m8.2 .7h.8m-18.6-5.4h.8m-16 10.3h.8m6.9-7.3h.8m21.1-9.8h.8m-34.1 13h.8m24 4h.8m-4.8-10.1h.8m-4.1 17.3h.8m-4.9-3.4h.8m-5-17.2h.8m14.8-4h.8m-10 16.5h.8m-6-6.5h.8m-9.7 3.8h.8m34.4 .2h.8m-27.8-2.2h.8m19-.9h.8m-6.3-4h.8m-4.2 6.1h.8m11.5-3.3h.8m-18 18.2h.8m-14.7-18.6h.8m1.5 10.5h.8m.5 0h.8m7.8-7.2h.8m6.1-2.8h.8m-14.5 5.4h.8m10-6.4h.8m-3.6 4.4h.8m-4.2-3.9h.8m-.7-2.2h.8m-1.1-4.1h.8m9 3.3h.8m-15.7 9.2h.8m4.7-10.6h.8m-1.4 2.6h.8m-3.1 5.9h.8m5.4 6.7h.8m-17-13.3h.8m11.9 7.7h.8m-5.1 .1h.8m21.3-14.6h.8m-13.6 7.5h.8m-10.7 6.7h.8m23.3-13.4h.8m-19.1 4.8h.8m17-2.2h.8m-29.2 3.6h.8m14.8 0h.8m10.9 6.3h.8m-16.1-7.9h.8m14.3 9.2h.8m-5-10.9h.8m0 1h.8m-27.3 7.6h.8m22.6-1h.8m-25 2.9h.8m15.4-1.5h.8m-3.9 7.6h.8m13.7-3.5h.8m7.8 .1h.8m-6.6-8.5h.8m-16-4h.8m11.8-1h.8m-11 7.6h.8m17.2-9.4h.8m-29.1 16.6h.8m3.4-11.4h.8m-3 2.7h.8m-.1 1.3h.8m10.3 2.3h.8m-10.2 1.5h.8m7.7-4h.8m-2.7-4.8h.8m-3 10.4h.8m14.2-2.5h.8m-15.8-1.9h.8m-7.7 1.3h.8m8.4 1.6h.8m-10.7-11.7h.8m17.9-.6h.8m8.4 4.6h.8m-31.7 2.7h.8m19.8 5.4h.8m-28.4 3.7h.8m7.6-9.2h.8m13.6 7h.8m-19.5-13.5h.8m7.3 8.5h.8m22.8 9.1h.8m-6-5.7h.8m-12.9-1.7h.8m3 9.6h.8m-1.3-7.2h.8m-7.2-6.8h.8m8.8 6.6h.8m-1.8-.3h.8m-.4-11.7h.8m-2.7 1.5h.8m4.9-3.2h.8m-19.4 16.2h.8m1.9-17.5h.8m11.8 4.7h.8m21.2-.2h.8m-18.1 7.9h.8m-25.1 2.1h.8m43.5-1.2h.8m-25.5 2.8h.8m-9.3-4.8h.8m9.5-1.1h.8m-16.9 9.5h.8m.3-4.9h.8m21.4-14.5h.8m-14.6 15.1h.8m0-6.4h.8m-6.3-.2h.8m.1 2.7h.8m5.9-3.1h.8m-26.3 2.8h.8m20.7-1.1h.8m-7.5 3.9h.8m-2.4 15.5h.8m-2.8-14.9h.8m8.1-3.4h.8m7.5-.6h.8m-13.4-4.5h.8m0 17h.8m16.9-22.4h.8m-13.4 11.6h.8m-4.9-3.9h.8m-4.7 7.9h.8m10.9 .3h.8m-14.6-5.4h.8m-2.8-4.6h.8m10.9 15.8h.8m1.7-.7h.8m2-6.4h.8m-16.1-7.5h.8m-4.1 10.8h.8m38.7-7.2h.8m-23.4 .6h.8m-18.6-3.6h.8m3.7 9.4h.8m17-9.7h.8m7.3 4.1h.8m7.8-7h.8m-36.3 12.7h.8m4.9-8.2h.8m19.3-4.3h.8m-12.3 4.4h.8m9.2 1.7h.8m-11.3-.4h.8m-3 8.8h.8m-8.9 0h.8m22.1-20.6h.8m-24 22.2h.8m21.5-22.3h.8m-13.5 5.2h.8m2.9 9.1h.8m-12.4 .7h.8m1.2-1.5h.8m6.8-5.6h.8m-5.1-6.1h.8m-3.3 7.7h.8m1.6-2.3h.8m13.2-.9h.8m-6.8 7.3h.8m-6.9-11.8h.8m4.1 11.6h.8m-19.2-.8h.8m15.9-6.1h.8m7.1-.1h.8m16.9-5.7h.8m-39.6 10.5h.8m18.2 8.9h.8m-9.8-1.9h.8m6.7-14.8h.8m-14.7 12.8h.8m6.5 3.2h.8m12.3-8.3h.8m-9.5-1.4h.8m7.7-5.8h.8m-33.3 14.5h.8m35.2-10.9h.8m-7.4 5.6h.8m6.6-6h.8m-20.9 6.5h.8m5.4-6.1h.8m-5 3.7h.8m13.2 4.9h.8m-20.1-4.9h.8m27.3-2.8h.8m-24.4-1.5h.8m6.5 4.8h.8m-.5-6h.8m-10.9-1.5h.8m-6.9 9.2h.8m31.8 1.2h.8m-26.2-2.7h.8m-13.6 .5h.8m15.4-4h.8m3.1 6.6h.8m-3.1-10.9h.8m-8.3 8.2h.8m9.2-11h.8m-14.1 21.9h.8m10.6-9.8h.8m-27.3-8.7h.8m40 8.5h.8m-12.3-.9h.8m-5.8-.5h.8m-4.1 3.2h.8m-4.4-3h.8m17.9-3h.8m-13.5 11.7h.8m-3.6-11.6h.8m9.2 3.7h.8m-13.8-4h.8m-7 .5h.8m9.3 4.1h.8m-21.4 .2h.8m21.7-3.5h.8m7.8-9.5h.8m-7.1 7.6h.8m-8.8 11.5h.8m11.7 1.2h.8m-8.8-9.4h.8m-11.4 14.4h.8m6.1-10.4h.8m-7.5 3.9h.8m-8.3-10.1h.8m43.5 7.9h.8m-39.2-9.8h.8m5.7 6.2h.8m11.5-8.6h.8m-18.4 14.4h.8m11.9-5.5h.8m-5.7-2.9h.8m-8.4 3.3h.8m21.2-18.7h.8m1.9 24.2h.8m-19-8.5h.8m-3.3 2.5h.8m-8.5 3.3h.8m36.9-8.8h.8m-21.1-2.1h.8m-2.6 14.6h.8m-2.7-4h.8m-7.1 .5h.8m7.3-1.5h.8m-.9-11.1h.8m1.3-10.8h.8m-15.8 8.8h.8m22.2 19.5h.8m-17.8-12.3h.8m21-6.3h.8m-12.5-9.5h.8m4.2 18.2h.8m-4.3-9.3h.8m11.8 20.7h.8m-18.8-13.2h.8m-4.1 6.2h.8m20-5.5h.8m-16.7-7.8h.8m-5.6 2.5h.8m21.2 1.5h.8m-14.5 5.1h.8m11.2-11.8h.8m-18.5 7.1h.8m-1.9-4.2h.8m7.9 .7h.8m10.7 2.4h.8m-20.8 2.7h.8m.2 7.5h.8m15.4-5.5h.8m-1.6 1.6h.8m1.3-9.2h.8m-25.7 16.7h.8m14.2-7.4h.8m.5-2h.8m-7.5-10.1h.8m-2 7.9h.8m22.8 4.8h.8m-28.6 10.6h.8m9.3-18.2h.8m-11.6 3.1h.8m-8.7 7.7h.8m20.7 .5h.8m5.6-18.6h.8m-16.3 17.4h.8m12.9-10h.8m-6.1 17h.8m-10.5-18.4h.8m7.5 7.2h.8m-9.8-4.9h.8m-5.6-3.6h.8m7.9 7.1h.8m-12.8 7.9h.8m15.2-5h.8m-.2 2h.8m-12-.5h.8m-5-5.7h.8m28.4 .4h.8m-26.9-.8h.8m-7.5-1h.8m34.2-2h.8m-31.3 16.2h.8m5.2-9.6h.8m-8.9-4.2h.8m6.9 6.3h.8m-6.4-6.9h.8m-3 1.9h.8m3.9-1h.8m8.4 1.5h.8m-.7-8.4h.8m5.8-10h.8m.5 13.7h.8m.4 8.6h.8m-16.8-4.7h.8m11.2-2.3h.8m-29.8 7.2h.8m24.7-9.2h.8m-16.4 6.5h.8m10.2 7.3h.8m3.9-8.8h.8m-.8 8.9h.8m-.6-15.4h.8m1-6.5h.8m7.9 10h.8m-28.1 9.5h.8m22.5-9h.8m-19.4 .3h.8m5.7 16.7h.8m-8.1-3.8h.8m7.1-7.4h.8m-4.1-8.7h.8m0 2.9h.8m-3.4 .7h.8m-5.4 14.8h.8m12.7-12.4h.8m1.2 10.4h.8m2-13.8h.8m2.5 21.7h.8m-9.8-18.2h.8m10.7 7.6h.8m-15.6-1.2h.8m11.3-11.8h.8m.6 9.3h.8m-31.6 1.7h.8m32.6 5.1h.8m-16.4-12.4h.8m-11.7 6h.8m17.9 5.5h.8m-9.5-10.8h.8m-11.2 .3h.8m11 8.3h.8m16.2-4.8h.8m-30.9-9.1h.8m25.3 1.6h.8m-5.9-2.2h.8m-22.8 9.5h.8m21 7.1h.8m-10.7-1.7h.8m17.7-17.8h.8m-30.1 8.3h.8m25.3 1.8h.8m-22.7 7.6h.8m9.6-7.6h.8m10.2 4.4h.8m-12.9-12.4h.8m-16.9 22.9h.8m13.9-6.3h.8m-6.4-4.1h.8m4.4-3.4h.8m5.6-8.5h.8m-18.4 11.5h.8m5.5-6.1h.8m-1.2 12.9h.8m2.9-9h.8m17.6 6.3h.8m-23.4-15.2h.8m12.2 19.7h.8m1.5-25h.8m-11.6 2.6h.8m23.7 8.6h.8m-17.3 9.9h.8m-14.9-6.4h.8m10.7-7.1h.8m-19.7 7.5h.8m2.9-2.7h.8m-12.2 8.8h.8m20.5-8.8h.8m-10.6-12.8h.8m-8.3 19.2h.8m8.6-5h.8m23.2 5.4h.8m-17.2-5.2h.8m-2 4.5h.8m-19-6.1h.8m20.1-9.3h.8m-17.9 12.7h.8m19.7-9.5h.8m-14.5 11.3h.8m4.2-11.9h.8m-8.4 4.2h.8m11.8 5h.8m-11.6-2.7h.8m6.9 1.9h.8m18.5-13.3h.8m-12 1.4h.8m-15-.5h.8m12.5 1.9h.8m17.4 9.9h.8m-14.7-1h.8m-7.8 2.7h.8m11.8-.7h.8m2.6 .4h.8m-17.5-2.3h.8m18.7 8.7h.8m-34.6-2.9h.8m1.7-4.5h.8m1.5-1.3h.8m9.8 6.6h.8m-8.9-4.2h.8m6.2-10.2h.8m-4.7 14.2h.8m.1-14.9h.8m14.1 14.5h.8m-7.5-14.6h.8m-2.7 11.7h.8m-5.9-9.8h.8m-2.8 6.7h.8m15.4-.1h.8m-6.8-.4h.8m-3.3-.2h.8m-22.4 11.9h.8m21.9-22.4h.8m-10.7 9.5h.8m3.2 8.8h.8m2.4-9.9h.8m2-5.5h.8m-16.1 17.2h.8m19.2-7.1h.8m-2.2-3.2h.8m-12.4 7.7h.8m14.9-19.2h.8m-15.7 24.2h.8m0-1.6h.8m-4.9-9.3h.8m3.5 .3h.8m-8.3-6h.8m-2 4.1h.8m20.9 2.5h.8m-2 5.3h.8m-18.6-12h.8m10.8-7h.8m7.9 2.6h.8m-16.1 13.1h.8m-10.5-8.4h.8m5.9 3.7h.8m18.6 6.4h.8m-7-15.3h.8m-15 4.4h.8m6.9 4h.8m-9.6-5.1h.8m8.5-1.6h.8m9.9 11.8h.8m-13.2 0h.8m4.2 1h.8m-4 1.1h.8m-11.5-6h.8m-9.6 0h.8m-2.7 3.1h.8m3.6-.7h.8m17.9 2h.8m-18.4 3h.8m-4.4-1.2h.8m19.8-8.4h.8m-3.3 2.4h.8m-9.5 .5h.8m7.4 3h.8m14.8-2.7h.8m-18.4-3.1h.8m-15 3.4h.8m12.4 1.6h.8m3.9-12.5h.8m-9.1 16.8h.8m-9.1-1.6h.8m22.5-13.2h.8m-16.8 7.8h.8m3.5 12h.8m-5.1-20.4h.8m-9.6 7.1h.8m-1.6 4.5h.8m14.4-7h.8m5-1.1h.8m-17.4 11h.8m26-7.2h.8m-10-4.4h.8m-3.6-7.8h.8m8.9 17.4h.8m-9.2-.1h.8m-1.1 2.4h.8m5.2-1.8h.8m-6-10.3h.8m-16.3 19.1h.8m8.5-17.3h.8m4.6 2.9h.8m-22.4-3.4h.8m2.6 12.6h.8m12.2-18.3h.8m-13.4 9.2h.8m20.4-2.1h.8m-9.1 1.2h.8m-21.9 4.5h.8m7.1-12.5h.8m25.4 8.1h.8m11-8.1h.8m-33.1 10.4h.8m-7.6 2.4h.8m13.6-2.4h.8m-9.9-.6h.8m4.8 2.6h.8m11-16.7h.8m-1.9 12.1h.8m-5.5 2.5h.8m-2.8-2.8h.8m-5.4 5.2h.8m18.8-3.8h.8m-22.1-6.7h.8m10.3 16h.8m-4.7-.4h.8m1.1-10.3h.8m-5.5-1.4h.8m.3-1.5h.8m15.8 6.3h.8m-28.8 .5h.8m10.7 6h.8m11.5-10.5h.8m-31.6 7.5h.8m18-8.7h.8m-3.4 2.4h.8m9.1-8.9h.8m-6 1.1h.8m-7.9 15.8h.8m19.3 3.4h.8m-6.1-8.4h.8m-7.8 7.6h.8m-3-4.7h.8m6.9-3.5h.8m-2.7-1.9h.8m9.7-7h.8m-33.3 19.1h.8m18.9-15h.8m5 1.5h.8m-13.7 .4h.8m1.1-2.2h.8m2.3-10.5h.8m11.1 22.1h.8m-15.7-6.8h.8m4.9-6.8h.8m12.2 5.2h.8m-24.8-3.4h.8m1.9 9.9h.8m-1.3-13.1h.8m8.7 3.1h.8m-4.1 .1h.8m16.7 9h.8m-23.2 5.2h.8m23.1-19.7h.8m-21.1 11.8h.8m18.9-3.9h.8m-22.7 6.2h.8m4.9-11.4h.8m6.3 .3h.8m-6.7 20.6h.8m9.8-16.3h.8m-15 6.8h.8m-4.4 4.4h.8m-6.1 2.6h.8m4.2-7.1h.8m-8.5 9.8h.8m-2-3.8h.8m18.8-13.3h.8m-4.2 6.2h.8m-8.4 2.6h.8m.1-3.9h.8m-9.9-2.3h.8m16.8-2.6h.8m-1.9 2.8h.8m-2.5 1.2h.8m12.9-11h.8m-14.5 11.3h.8m-.6 1h.8m9.3-4.9h.8m-24.9 2.3h.8m7.3-15.5h.8m17.5 22h.8m-16.6-6.5h.8m12.3-5.6h.8m-21 19h.8m4.9 4h.8m3-17.6h.8m-3.3 5.9h.8m-12.2-10.8h.8m-5.5 7.5h.8m12.9 4.2h.8m-6.9-.7h.8m10.8 2.7h.8m8.8-15.4h.8m-12.4 12.9h.8m-.6 .6h.8m8.2-8.5h.8m-11.6 1.8h.8m-10.6 5h.8m22.1 .2h.8m-7.9 3.9h.8m-7.5-2.3h.8m-11.2-.3h.8m14.7-2.4h.8m3.4-.4h.8m-12.9-1.5h.8m-9.9 9.5h.8m25.4-14.3h.8m-3.8-17.2h.8m-2.4 19.2h.8m-12.1-4.9h.8m4 7.9h.8m1.9 1.2h.8m-1.3-2h.8m-12.5 8.7h.8m-1.5-17.3h.8m6.1 1.7h.8m11 6.7h.8m-.7 6.7h.8m-18.9-4.1h.8m12.7-7.2h.8m-4.8 2.8h.8m2.6-7.2h.8m5.3 9.5h.8m4.1-.1h.8m-15.8 11.4h.8m1.9-19h.8m-18 9.9h.8m19.8-11.5h.8m-14.5 8.7h.8m9.8 5.7h.8m-2.9-6.8h.8m5.8 3.9h.8m2-10.4h.8m-7.5 1.6h.8m-7.1 13.4h.8m-1.5-.6h.8m10.8-12.9h.8m-9.3 10.6h.8m-13.4 3.3h.8m-4.8-10h.8m16.4-3.9h.8m-3.3 7.7h.8m-5-6.3h.8m10.8 1.4h.8m-8.1-1h.8m3.5 6.9h.8m10.6 4.4h.8m-9-4.5h.8m-15.9-14.5h.8m-1.4 11.3h.8m8.1 3h.8m7.7 .2h.8m-16-7.3h.8m7.1 9.9h.8m-14.6 2.4h.8m3.8 3.4h.8m19.2-6h.8m-13.9 1.8h.8m13.5-6.6h.8m-20.9-2.7h.8m-6.7 3.4h.8m14.7 6.9h.8m-14.9 4h.8m28.5-22.2h.8m-18.3 18.7h.8m-3.9 5.8h.8m5.6-14.8h.8m-16 8.6h.8m20.8-10.9h.8m-10.8 6.9h.8m-5.5-15.1h.8m9 3.1h.8m6.8 12.1h.8m-10.9-6.7h.8m6.4-4.3h.8m-5.8 1.3h.8m1.1 8h.8m-6.6-1.6h.8m-1.8 1.2h.8m5-4.4h.8m-14 7.5h.8m-.3 0h.8m1.2-2h.8m18.6-5.8h.8m-21.9-3.2h.8m7.2 14.2h.8m.8-14.4h.8m6.6-4.1h.8m-14.4 7.2h.8m8.8 1.2h.8m-5.5 2.4h.8m-3.1 6.2h.8m-24.1-5.8h.8m20.9 4.4h.8m8.1-1.3h.8m-19.6 11.7h.8m17.3-19.8h.8m-6.5 4.5h.8m-11.2 2.6h.8m14.6-3.6h.8m-8.5 1h.8m17.8-8.7h.8m-27 6.7h.8m10.6-5.1h.8m-28.3 15.8h.8m13.3-11.2h.8m-.6-2.7h.8m13 4.1h.8m3.7-.8h.8m18.9 3.2h.8m-22.8 .3h.8m10.4-9.7h.8m-12.8 8.7h.8m-17.8-3.6h.8m12.8 6.6h.8m-7.6 1.8h.8m2.9-4.8h.8m-2.3 4.8h.8m-14.3-3.7h.8m10.1-4.6h.8m11.4 .5h.8m6.6 9.8h.8m-4.5-1.5h.8m5.7-15.8h.8m-23.4 9.5h.8m10-1.5h.8m-5.1 6.4h.8m13.2-2.7h.8m-14.3-7.6h.8m46.3-34.8h.8m-3.8 4.3h.8m1.5-4h.8m-.3 1.9h.8m4.5-8.4h.8m-1 4.1h.8m-9.9 4.8h.8m8.7-4h.8m-6.6-.8h.8m-2.3 4.2h.8m.8-.4h.8m-3.8 3.8h.8m1.9-1.9h.8m-.2-5.3h.8m-.2 6.4h.8m1.8-3.7h.8m-7.6-1.6h.8m-1.8 5.2h.8m5.3-6.4h.8m-4.3 6.2h.8m.8-6.5h.8m-4.7 3.1h.8m2.2-4.2h.8m-.7 .4h.8m1 0h.8m.3 3.1h.8m3.3-1.3h.8m-6.7 2.9h.8m-1.3-5.6h.8m-.8 5.6h.8m-.7 .6h.8m4.8-5.9h.8m-7.2 5.9h.8m6.2-2.4h.8m-14.5 3.5h.8m5.6-2.1h.8m-3.3-.6h.8m5.5-7.6h.8m1.9 9h.8m4 .3h.8m-8 .7h.8m-4.2-2.2h.8m-5.3 .5h.8m4.9-3.9h.8m.8 .3h.8m4.8-1.7h.8m-7.4 1.3h.8m5.6 1.5h.8m-4.4 3.3h.8m-2.8-2.1h.8m3.5-4.9h.8m-4.1 4.5h.8m-4.8-5h.8m3.5 10.7h.8m2.6-7h.8m-9.8 1.3h.8m5.3 4.4h.8m-6.9-4.1h.8m-2.7 5.5h.8m12.6-11.2h.8m-42.5 4.4h.8m2.2 50.1h.8m-35.2-27h.8m38.5-8h.8m-20.6 26.6h.8m-4.8 12.5h.8m-22.6-13.2h.8m39.6-44.5h.8m18.6-10.4h.8m-17.1 58.4h.8m-49.5-56.3h.8m-11.1 38.3h.8m47.5 1.2h.8m-45.1 22h.8m63-2h.8m18.1-3.3h.8m-71.1-20.3h.8m18.6 14.1h.8m33.4-10.7h.8m17.5 52.7h.8m-74.1-84.2h.8m-22.7 .9h.8m11.3-11.9h.8m79.4-4.8h.8m-41.1 15.7h.8m14.8 17.5h.8m-29.8 4.9h.8m55.6 13.3h.8m-74.1-34.8h.8m-1.4-10.2h.8m86.5 71.9h.8m-85.3-20h.8m75.2-34.4h.8m-88.2 21.8h.8m86.3-6.7h.8m-14-38.8h.8m13.5 54.4h.8m-85.9-39.4h.8m29.7 66.5h.8m7.2-85.3h.8m54.2 25.4h.8m-20.8-4.1h.8m-51.1-13.1h.8m18.3 10.5h.8m-45.1-14.2h.8m92.2 73.9h.8m-82.4-76h.8m-27.5 73h.8m90.3-44.4h.8m1.7-29.5h.8"/>
<line x1="320" y1="644" x2="362" y2="644" stroke="#f55" stroke-width="0.8" />
<line x1="392.4" y1="531.2" x2="392.4" y2="644.5" stroke="#222" stroke-width="1" />
<line x1="317" y1="576.6" x2="435.4" y2="576.6" stroke="#222" stroke-width="1" />
<line x1="317" y1="531.2" x2="317" y2="644.5" stroke="#555" stroke-width="0.9" />
<line x1="317" y1="644.5" x2="435.4" y2="644.5" stroke="#555" stroke-width="0.9" />
<path stroke="#555" stroke-width="0.6" fill="none" d="M314.2 641.5h2.8M315.6 635.44h1.4M315.6 631.8h1.4M315.6 629.38h1.4M315.6 627.36h1.4M315.6 625.74h1.4M315.6 624.33h1.4M315.6 623.32h1.4M315.6 622.31h1.4M314.2 621.3h2.8M315.6 615.24h1.4M315.6 611.6h1.4M315.6 609.18h1.4M315.6 607.16h1.4M315.6 605.54h1.4M315.6 604.13h1.4M315.6 603.12h1.4M315.6 602.11h1.4M314.2 601.1h2.8M315.6 595.04h1.4M315.6 591.4h1.4M315.6 588.98h1.4M315.6 586.96h1.4M315.6 585.34h1.4M315.6 583.93h1.4M315.6 582.92h1.4M315.6 581.91h1.4M314.2 580.9h2.8M315.6 574.84h1.4M315.6 571.2h1.4M315.6 568.78h1.4M315.6 566.76h1.4M315.6 565.14h1.4M315.6 563.73h1.4M315.6 562.72h1.4M315.6 561.71h1.4M314.2 560.7h2.8M315.6 554.64h1.4M315.6 551h1.4M315.6 548.58h1.4M315.6 546.56h1.4M315.6 544.94h1.4M315.6 543.53h1.4M315.6 542.52h1.4M315.6 541.51h1.4M314.2 540.5h2.8M315.6 534.44h1.4M321 644.5v2.8M327.69 644.5v1.4M331.7 644.5v1.4M334.38 644.5v1.4M336.61 644.5v1.4M338.39 644.5v1.4M339.95 644.5v1.4M341.07 644.5v1.4M342.19 644.5v1.4M343.3 644.5v2.8M349.99 644.5v1.4M354 644.5v1.4M356.68 644.5v1.4M358.91 644.5v1.4M360.69 644.5v1.4M362.25 644.5v1.4M363.37 644.5v1.4M364.49 644.5v1.4M365.6 644.5v2.8M372.29 644.5v1.4M376.3 644.5v1.4M378.98 644.5v1.4M381.21 644.5v1.4M382.99 644.5v1.4M384.56 644.5v1.4M385.67 644.5v1.4M386.79 644.5v1.4M387.9 644.5v2.8M394.59 644.5v1.4M398.6 644.5v1.4M401.28 644.5v1.4M403.51 644.5v1.4M405.29 644.5v1.4M406.85 644.5v1.4M407.97 644.5v1.4M409.08 644.5v1.4M410.2 644.5v2.8M416.89 644.5v1.4M420.9 644.5v1.4M423.58 644.5v1.4M425.81 644.5v1.4M427.59 644.5v1.4M429.15 644.5v1.4M430.27 644.5v1.4M431.38 644.5v1.4M432.5 644.5v2.8"/>
<text x="319.3" y="541.4" font-size="5.6" font-weight="normal" fill="#222">Q1</text>
<text x="319.3" y="549.2" font-size="5.6" font-weight="normal" fill="#222">0.012</text>
<text x="426.9" y="541.4" font-size="5.6" text-anchor="end" font-weight="normal" fill="#222">Q2</text>
<text x="426.9" y="549.2" font-size="5.6" text-anchor="end" font-weight="normal" fill="#222">1.10</text>
<text x="319.3" y="630.3" font-size="5.6" font-weight="normal" fill="#222">Q4</text>
<text x="319.3" y="638.4" font-size="5.6" font-weight="normal" fill="#222">97.5</text>
<text x="426.9" y="630.3" font-size="5.6" text-anchor="end" font-weight="normal" fill="#222">Q3</text>
<text x="426.9" y="638.4" font-size="5.6" text-anchor="end" font-weight="normal" fill="#222">1.43</text>
<text x="324.7" y="657" font-size="4.6" text-anchor="middle" font-weight="normal" fill="#555">10</text>
<text x="328.4" y="653" font-size="4.6" text-anchor="middle" font-weight="normal" fill="#555">2</text>
<text x="346.4" y="657" font-size="4.6" text-anchor="middle" font-weight="normal" fill="#555">10</text>
<text x="350.1" y="653" font-size="4.6" text-anchor="middle" font-weight="normal" fill="#555">3</text>
<text x="368.1" y="657" font-size="4.6" text-anchor="middle" font-weight="normal" fill="#555">10</text>
<text x="371.8" y="653" font-size="4.6" text-anchor="middle" font-weight="normal" fill="#555">4</text>
<text x="389.8" y="657" font-size="4.6" text-anchor="middle" font-weight="normal" fill="#555">10</text>
<text x="393.5" y="653" font-size="4.6" text-anchor="middle" font-weight="normal" fill="#555">5</text>
<text x="411.5" y="657" font-size="4.6" text-anchor="middle" font-weight="normal" fill="#555">10</text>
<text x="415.2" y="653" font-size="4.6" text-anchor="middle" font-weight="normal" fill="#555">6</text>
<text x="433.2" y="657" font-size="4.6" text-anchor="middle" font-weight="normal" fill="#555">10</text>
<text x="436.9" y="653" font-size="4.6" text-anchor="middle" font-weight="normal" fill="#555">7</text>
<rect x="441.2" y="531.2" width="117.1" height="113.3" fill="#fff" stroke="#c8c8c8" stroke-width="0.9" />
<ellipse cx="487" cy="597.5" rx="16.25" ry="7.8" transform="rotate(-18 487 597.5)" fill="#ff1c10" opacity="1" filter="url(#rb)"/>
<ellipse cx="527" cy="562.5" rx="12.5" ry="5.4" transform="rotate(-12 527 562.5)" fill="#ff1c10" opacity="0.5" filter="url(#rb)"/>
<path stroke="#ff2a1e" stroke-width=".85" fill="none" d="M500.8 598.1h.8m-26.9 7.7h.8m5.6-19.9h.8m-3.9 5.8h.8m.2-.7h.8m25.1 .2h.8m-8.3-6.1h.8m-24.5 29.5h.8m33.7-23.2h.8m-14.3 5.6h.8m18.5 3.1h.8m-29.3 4.6h.8m-8.4-4.3h.8m14.5-14.1h.8m-.3 8h.8m-20.4 7.9h.8m-2.9 11h.8m19-20.4h.8m-6 6.7h.8m-7.8 3.5h.8m17.5-9.4h.8m-15.2 .5h.8m-1.3 9.5h.8m7.7-3.6h.8m2.1 3.6h.8m7.3-1.2h.8m-3.1-8.1h.8m-30.9 9.8h.8m10.6 1h.8m-1.3-2.6h.8m-2 7.6h.8m5.4-17.2h.8m-13.5 14.5h.8m18.7-6.1h.8m-21.7-4.1h.8m7.1 9.4h.8m-17 6.7h.8m21.8-25.3h.8m-.4 5.5h.8m6.9-2.5h.8m-28.5 5.5h.8m.8 1h.8m11 4.2h.8m-3.2-5.6h.8m5.5 10.4h.8m10.3-12h.8m-18.4 .1h.8m-3 .8h.8m5.8 5.8h.8m-6.4 8.1h.8m9.4-6.5h.8m15.7-5.5h.8m-4.7 2.1h.8m-12.1-4.2h.8m16-8.8h.8m-19.2 29.3h.8m10.1-26.7h.8m-18 23.1h.8m23.9-20.1h.8m-27.5 .5h.8m30.1 1.4h.8m-22.4-.6h.8m-20.7 12.2h.8m23.9-10.5h.8m.2 .9h.8m-8.5 7.4h.8m-15.1 .3h.8m5.1-5h.8m15.3 3.9h.8m14-11.9h.8m-1.9 17h.8m-21.1-5.8h.8m-4.6-3.6h.8m28.1-9.7h.8m-27.9 3.5h.8m-4.8-2.5h.8m10.5 7.3h.8m1.4 2.5h.8m2.5 2.1h.8m-16.4-2.2h.8m-21.1 11.5h.8m4-12.5h.8m-9.6-1.4h.8m41.3-8h.8m-8.9 4.1h.8m-8.8 6.9h.8m10.2-8.1h.8m-6.7-.9h.8m3.2-.8h.8m3.1-2.2h.8m-12.9 10.4h.8m-6.4 .3h.8m2.1 9.1h.8m8.2-4.3h.8m-1.4-18.6h.8m-8.4 22.2h.8m-12.9-15.3h.8m16.9-5.9h.8m-20.4 17h.8m37.6-8.5h.8m-38.8-4.2h.8m2.6 8.1h.8m.8 4.4h.8m27.8-7.5h.8m-10.5-7.2h.8m18.5 4.9h.8m-22 1.7h.8m14.6 6.6h.8m-25.7-4.3h.8m9.7-5.1h.8m-13.5 .8h.8m-13.6 5.6h.8m15.9 9.1h.8m15.9-23.9h.8m-30.5 12.6h.8m7.5-10.8h.8m4.3 14.6h.8m13.9 4.7h.8m-14-2.9h.8m-5.5 8.4h.8m9.6-6.8h.8m1-18.9h.8m7.1 6.6h.8m-14.1 1.5h.8m18.8 6.5h.8m-28.1-.5h.8m27.1-12.6h.8m-15.1-3.9h.8m-10.7 29.8h.8m14.1-13.8h.8m2.1-2.7h.8m-20 7.1h.8m6.8 1.4h.8m13.5-8h.8m-21.5 7.5h.8m3.8 4.7h.8m6.4-14.5h.8m-1.8-4h.8m-8.9 0h.8m-13.5 3.8h.8m5.6 6.4h.8m2.2-.1h.8m14.1-17h.8m-13.8 10.4h.8m-23.2 3.9h.8m44.9-1.7h.8m2.5-1.4h.8m-26.7 6.5h.8m27.9-7.6h.8m-31.6 3.2h.8m-6.7-2.4h.8m-.5 9.5h.8m10.8-.6h.8m20.4-9.8h.8m-18.6-6.9h.8m-13.7 16.2h.8m8.5 7.6h.8m-4.4-15.5h.8m-3.9 4.8h.8m2.5 4.9h.8m-19.5 3.8h.8m15.3 4.2h.8m-18 .2h.8m26.8-28.2h.8m-4.7 11.2h.8m-3.5-2.4h.8m24.5-1.3h.8m1.5-.9h.8m-27.4 12.9h.8m-.5-11.2h.8m10.6-2.5h.8m-4.2 14h.8m6.6-2h.8m-12.6-11.1h.8m9.8 2.2h.8m-13.9-2.8h.8m2.5-.7h.8m-3.4 8.7h.8m-11.7 .7h.8m-.3-1.8h.8m4-.9h.8m-3.3 .9h.8m12.6-9.5h.8m16.9 9.6h.8m-3.4-9.8h.8m-28.9 6.7h.8m-25.5 10h.8m33.8-4.5h.8m-11.5-7h.8m19.7 4h.8m-1.5-1.9h.8m-21.7-.4h.8m10.5 4.7h.8m-20.9 11.2h.8m17.6-11.6h.8m-14-6.5h.8m-21.9 17.2h.8m40.7-15.5h.8m-10.8 11.7h.8m-4.2-18.4h.8m4 10.8h.8m.6-6.8h.8m-4 6.4h.8m-9.6 12.7h.8m-3.9-4.9h.8m16.4-18.1h.8m-14.5 19.5h.8m7.1-2.9h.8m-.7 8.5h.8m12-25.4h.8m-20.8 11.6h.8m5.4-.8h.8m-25.5 6h.8m23.1-1.1h.8m14.3-10.9h.8m-24.6 6.5h.8m11.6 3.2h.8m16.3-11.3h.8m1.8-19h.8m-18.7 36.8h.8m3.2-8.2h.8m15.1 .9h.8m-9.4-5.7h.8m-6.7-.7h.8m-14.6-4.9h.8m21.1 9.3h.8m-29.4 7h.8m-6.2-12.5h.8m32.6-1.3h.8m-23.2 6.1h.8m13.6 9.5h.8m-3.2-13.2h.8m-2.9 2h.8m-2.1 .7h.8m31-12.3h.8m-11.7 12.4h.8m-21.6 4.3h.8m13.6-27.3h.8m-7.5 37.2h.8m-1.9-22.2h.8m-5.8 19.4h.8m-1.3-10h.8m-8.5-.5h.8m8.8-.1h.8m-14.5 2h.8m4.6 2.1h.8m-8.3 1.5h.8m14.2 .5h.8m14.2-12.6h.8m-16.3 8.6h.8m-7.5-.3h.8m-15.3-.9h.8m20.8-7.7h.8m-2.6 17.7h.8m-10.4-.4h.8m29.3-18.1h.8m-10.6-3.8h.8m-19.7 23.3h.8m20.7-21.8h.8m-15.3 18.7h.8m2.7-1.6h.8m-2.6 .3h.8m-11.5 5.9h.8m17.5-21.4h.8m-22.7 4.5h.8m11.4 1.7h.8m-1-5.3h.8m5.4 7.9h.8m-3-11h.8m2.2 18.1h.8m-3.5-10.4h.8m-1.2-1h.8m-4.2-.1h.8m11.9 1.5h.8m-14.4 10.8h.8m-6.4-5.5h.8m.5-4.3h.8m4.7 3.2h.8m5.1-6.9h.8m16.5 .1h.8m-51.4 21h.8m41.3-21.5h.8m-9.7 21.1h.8m-4.9-13.7h.8m-15.5-.8h.8m-.6-.7h.8m15.3 3.5h.8m-11.5 9.2h.8m3.3-24.7h.8m-.7 5.7h.8m-5.1 2.9h.8m21.5 11.1h.8m-14.2-5.5h.8m-16 2.9h.8m18.1 1.6h.8m-15.4-3.9h.8m19.4-.2h.8m-22.5 1.1h.8m17.4 1.3h.8m-14-6.9h.8m-8.3-1.4h.8m13.4 1.2h.8m11.6-5h.8m-38.3 7.2h.8m-4.3 5.8h.8m33.8-10.6h.8m-.3-12.6h.8m-15.6 17.4h.8m-32.7 1.1h.8m34.4 5.6h.8m-5.6-14.1h.8m8.7 5.9h.8m-12.8 2.5h.8m-17.2-1.2h.8m4.4 9.7h.8m40.6-11.4h.8m-14.8 9.1h.8m16.8-17h.8m-30.9 16h.8m5.5-15.8h.8m2.3 13.7h.8m-3.8-11.8h.8m16.4 3.2h.8m-2.3-.9h.8m-21.9 3.9h.8m36.9-.3h.8m-18.2-.9h.8m1.6-11.8h.8m-21 20.1h.8m-8.2-9.7h.8m7.3 3.3h.8m.6-4.9h.8m-6.6 7.4h.8m.4 5.5h.8m20.4-10.9h.8m-19.4 8.9h.8m5.9-17.8h.8m1.2 11.9h.8m1.4 5.2h.8m-2.1 1.5h.8m-10.6 2.5h.8m.4-5h.8m-13.1 .1h.8m27.7-7.2h.8m-18.1-1.5h.8m2.2 10.5h.8m2.8 5.9h.8m-11.7-5.3h.8m-2.5 .8h.8m1.5-15.8h.8m8.3 16.1h.8m16.7-17.6h.8m-16 8.5h.8m17.2-3.7h.8m-18.9-5.9h.8m-13.2 4.6h.8m10.6 16h.8m-2.3-27.2h.8m-8.7 16.2h.8m-5.3 3h.8m-2 9.4h.8m19.2-10.9h.8m-16.2-5.6h.8m-13 11h.8m21.4-5.4h.8m17.9 5h.8m-10.8-6.2h.8m6.7-4.4h.8m-23.5 1.8h.8m.3 12.1h.8m-9.2 6.6h.8m8.9-25.1h.8m19-4.6h.8m-32.7 14.6h.8m1.9-5.6h.8m-17.7 13.5h.8m25.2-11h.8m11.5 10.1h.8m-7.9-11.8h.8m-14 8.2h.8m33.7-13.7h.8m-23.7 4.3h.8m-10.5 4.8h.8m-5.8-1.3h.8m7.7 8.4h.8m9.5-9.3h.8m-12.4 1.5h.8m12.9 2h.8m-6.6 1.5h.8m3.3-6.6h.8m-6.6-7.7h.8m5.5 27.5h.8m-5.6-12.7h.8m-17.3 .5h.8m24.2-9.3h.8m-14.6 13h.8m-22.2-3.7h.8m29.2-7.4h.8m-2.5 13.3h.8m-20.2-4.8h.8m4.7 3.6h.8m1.5-7.2h.8m-26 12h.8m15.2-4.2h.8m28.8-11.5h.8m-23.1 12.8h.8m25.5-10.6h.8m-35.3 2.5h.8m11.2 3.6h.8m-17.3-6.7h.8m19.3 20.2h.8m13.3-18.9h.8m-31-5.7h.8m21.8 7.6h.8m-11.5 .7h.8m8.2-9.1h.8m-2.6 17.7h.8m0-10.8h.8m-15.4-9h.8m13 15.4h.8m-3.9-5.7h.8m17.5-13.5h.8m-37.9 22.8h.8m34.5-6h.8m-27 1.5h.8m19.9-3.8h.8m-14.3-6.9h.8m6.6-1.1h.8m-21.9 1h.8m44.5-1.6h.8m-43.4 5.6h.8m17.3 1.9h.8m-17.4-7h.8m8.8 11.8h.8m6.3-1.6h.8m-1.1-5.6h.8m26-2.6h.8m-2.6 5.5h.8m-28.6-5.8h.8m-7.6 3.2h.8m12.2 .7h.8m-13.8-14.8h.8m15.4 8h.8m-14.8-5h.8m24.8 17.7h.8m-32.7-10.7h.8m25.5-5.4h.8m-7.7-6h.8m5.7 25.4h.8m-18.5 .2h.8m8-1h.8m-1.6-16h.8m-2.8 11.1h.8m1.9-.7h.8m-22.3-8.3h.8m12.2-.1h.8m6.4 5.5h.8m-16.6 8.8h.8m23.5-4.1h.8m-20.2 8.8h.8m-10.6-13.8h.8m3.3 8.3h.8m8.6-2h.8m5.6-23.9h.8m-24.2 35.4h.8m33.2-13h.8m-10.3-1h.8m1.2 5.9h.8m-1.2-12h.8m-14.5 6.3h.8m-.7 14.5h.8m4.6-18h.8m-14.1 10.1h.8m24-16h.8m-27.4-2.6h.8m5.6 11.9h.8m-8.7-.3h.8m33.6-14h.8m-19.3 17.7h.8m-10.6-6.4h.8m3.8 5.2h.8m-31.6-.6h.8m34.2-5.5h.8m-4.4 10.9h.8m-7.8-1.9h.8m-5.5-2.7h.8m28.6-8.3h.8m-16.7 6.7h.8m17.9-2.1h.8m-22.2 1.6h.8m.3 3h.8m.3 .4h.8m13.5-4.6h.8m-12.3 2.9h.8m28.1-21.6h.8m-7.8 14.5h.8m4.1-6.7h.8m-6.1 4.6h.8m-10.6 0h.8m-32.8 9.8h.8m13.3-.7h.8m-.6-.9h.8m6.4-9.8h.8m8.4-13.8h.8m-8 18.6h.8m-9.8-3h.8m33.5-8.8h.8m-22 25h.8m-11.3-11.7h.8m18.6-5.5h.8m-13.6 6.6h.8m-17.4-3.5h.8m29.9 5.6h.8m-24.9-2h.8m2.9 2.4h.8m-3 4.8h.8m-11.7-12.6h.8m23-7.1h.8m-18.5 18.6h.8m17 2.3h.8m-22.1-23.3h.8m17.3 8.7h.8m-16.1 6.9h.8m21-13.8h.8m-3.6 8.5h.8m-12.9 13.3h.8m5.6 7.6h.8m-11.8-17.1h.8m26.1-4h.8m-23 6.5h.8m.9-5.7h.8m17.7-3.4h.8m-33.6 13.3h.8m25-6.8h.8m-17.6 9.6h.8m-31.5-6.9h.8m40.7 2.2h.8m-3.9-.9h.8m6.1 6.1h.8m5-12.1h.8m-16.6-.6h.8m.8-2.4h.8m-11.3 9.6h.8m22.9 7.1h.8m1.7-9.6h.8m-25.9 .2h.8m11.8-5.4h.8m-2.8 .5h.8m-4.7 6h.8m7.4-.1h.8m-19.7 17.1h.8m23-27.5h.8m-4.6 12.8h.8m-10.2 3.1h.8m17.4 .7h.8m-3.6-16.2h.8m-19 7.6h.8m-.2-2.2h.8m20.7 1.8h.8m-19.9 .1h.8m8.1 1.8h.8m17.4-16.8h.8m2.1-1.2h.8m-15.5 16.3h.8m-20.1-1.3h.8m15.3 4.6h.8m10-10.3h.8m-20.4 3h.8m-5-7h.8m25.3 1.8h.8m-17.7 .8h.8m4.8 8.9h.8m3.1-15.2h.8m-10 9.1h.8m-23.6 19.8h.8m25.5-11.4h.8m-6.1 4.6h.8m-8-18.3h.8m16.5 14.3h.8m-17.6-2.6h.8m-2.3 .8h.8m7.9-2.6h.8m3.1 6h.8m4.1-13.9h.8m-11.6 15.9h.8m-31.5-3.7h.8m27.6-10.2h.8m8.9-3.4h.8m-22.5 18.8h.8m12.5-6h.8m-13.5 2.4h.8m14.1-14.8h.8m-34.1 26.9h.8m18.9-27h.8m20-8.4h.8m-11 12h.8m-7.6 9h.8m21.2 .8h.8m6.3-11.7h.8m2.6 6.1h.8m-27.1 9.7h.8m15-1.2h.8m14.6 1.1h.8m-46.9-13.2h.8m20.6 9.8h.8m23.5-9.2h.8m-37.4 19.3h.8m-.1-15.2h.8m-9.4 7.3h.8m9.4 6.3h.8m14-6.1h.8m-18.2-10.5h.8m4.8 16.9h.8m-1.8-4.1h.8m9.1-17.8h.8m-3.4 12.3h.8m-3.3-2.6h.8m-1.3-11.4h.8m17.7 3.5h.8m-3.4-1h.8m-4.2 5.7h.8m-26.9 .5h.8m19.5 4.7h.8m-8.7-4.5h.8m-24.9 6.6h.8m33.9-13.8h.8m-27.1 12.9h.8m22.4-14.2h.8m-12.6 12.9h.8m-1.9 .6h.8m21 1.5h.8m-15.7 2.9h.8m2.2-1.7h.8m-14.1-9.4h.8m6.1 2h.8m-7.5-1.2h.8m5.8-.5h.8m2.9 1.7h.8m.3 2.9h.8m-6.5 10.5h.8m15.5-6.7h.8m-10.8-4.2h.8m1.2 2.5h.8m1.3-2.4h.8m-17.7 5.7h.8m8.4-2.6h.8m-22-3.4h.8m61.9-3.6h.8m-54.5 8.4h.8m-10.7 7.8h.8m30.8-13.3h.8m.3-1.5h.8m-19.7 14.7h.8m1.4-9.6h.8m-5.4 2.1h.8m9.2-14.9h.8m-5.5 1.6h.8m15.9 0h.8m8 12.8h.8m-25.9-17.4h.8m22.2 9.9h.8m-19.2-3.5h.8m14.6 7.5h.8m3.2-6.7h.8m-9.9 2.8h.8m-5.1-9.5h.8m-8.9-1.9h.8m-2.8 19h.8m11.5 4.2h.8m12.1-9.4h.8m-20 6.1h.8m22.3-8.3h.8m-21-4.9h.8m-2.7 5h.8m-7.9-3.2h.8m1.3 8.4h.8m9.7-5.2h.8m-3 0h.8m0-8.7h.8m2.7-.5h.8m-10.8 6.8h.8m-5.1 5.3h.8m6.3-5.4h.8m7.7 .6h.8m-8.8 7.2h.8m22.9-9.9h.8m-22.8 4.1h.8m-4.8 14.1h.8m-.1-16.4h.8m2 .6h.8m-9.4-3.5h.8m7.2 3.7h.8m-6.1 5.9h.8m12 3.8h.8m3-16h.8m-16.1 15.3h.8m2.5-4h.8m14.2-4.3h.8m-13.4 1.1h.8m-9.1 7.6h.8m-3.5-7h.8m4.7 2.4h.8m-17.6 0h.8m21.9-.3h.8m.1 4.3h.8m10.8-.9h.8m-14.8 5.1h.8m2.9-14.1h.8m-7.3 12.7h.8m-16.3-1.2h.8m23.7-8.4h.8m-13.2 .4h.8m4.8 0h.8m-8.8-.6h.8m-7.5-3h.8m6.5 11h.8m-9.3-2.2h.8m-1.2 10.6h.8m20.2-21.2h.8m8.8 9.5h.8m-6.2-11.9h.8m-20.3 18.3h.8m10.5-14.6h.8m-22.8 21.9h.8m17.5-25.1h.8m3.6 2.8h.8m-22.2 13.5h.8m25.2-2.6h.8m-11.9-6.9h.8m-3.9 11.3h.8m1.1-15.1h.8m-7.8 13.6h.8m5-14.1h.8m-17.6 12.2h.8m41.1-7.5h.8m-19.3 12.7h.8m1.3-25.1h.8m6 18.9h.8m-17.4-9.7h.8m7.4 5.7h.8m-7.2-2.5h.8m2.7 0h.8m16.4-8.6h.8m-18.3 3.8h.8m5.7 .3h.8m-31.2 7.5h.8m16.8-8.2h.8m-3.1 4.6h.8m9.9-5.3h.8m-9.3 3.3h.8m-.1 11.5h.8m2-9.8h.8m2.1-1h.8m-13.6 7.7h.8m26.6 3.8h.8m-21.5-18.8h.8m13.5 9.5h.8m-24.4 13.2h.8m8.4-17.6h.8m35.6 4h.8m-32.4-2.9h.8m16.7 8.8h.8m-5.3-17h.8m-13.8 1.6h.8m5.7 14.1h.8m-1-.7h.8m5.5-3.8h.8m-10.2 4.9h.8m-11.2-12.9h.8m-26.6 17.8h.8m22.4-3.8h.8m29.6 5.1h.8m-20.1-13.1h.8m-8.8-3.5h.8m11.5 8h.8m9.3-4.8h.8m-8.4 7.2h.8m-23.2 5.1h.8m25.3-25h.8m-5.4 11.5h.8m-19.5 6.1h.8m6 3.7h.8m10.4-16.6h.8m-17.2 13.6h.8m.8 11.1h.8m8.9-2.1h.8m-4.4-12.1h.8m9.2-1.9h.8m.7 15.9h.8m9.2-12.4h.8m-5.1-1.6h.8m-11 12h.8m16.2-19.2h.8m-2 5.9h.8m-28 4.5h.8m8.1 7.2h.8m-13.6-3.1h.8m46-16.7h.8m-38.3 14.7h.8m7.4-5.6h.8m-15.8 12.4h.8m2.6-24h.8m6.7 25.9h.8m10.5-16.5h.8m-29.9 13.6h.8m10.6-.8h.8m31.5-5h.8m-13 1.6h.8m-20.6 2.9h.8m5.8-20.2h.8m4.5 0h.8m-3.3 12.2h.8m16 5h.8m-14.7-12h.8m-3.7 5.7h.8m9.4-7.9h.8m-2.3-4.5h.8m-1.5 7.4h.8m-24 5.5h.8m-2.4 18.3h.8m29.2-9.9h.8m-19.8-13.5h.8m7.3-7.2h.8m-15 17.9h.8m20.5 8.5h.8m-16-27h.8m11.9 14.5h.8m-23.9 4.4h.8m33.3-19.3h.8m3.7 33.9h.8m-25.9-17.9h.8m-5.5-3.5h.8m-19.6 2.2h.8m24.2-9.4h.8m.2 14.8h.8m24.5-9.3h.8m-42.9 0h.8m1.6 10.1h.8m12.2-1.3h.8m-20.5-4.3h.8m22.3 .1h.8m8.3-4.9h.8m-16.4 9.9h.8m13.9-3.2h.8m-2.4-3.4h.8m-20-2.3h.8m-11.5 4.8h.8m4.5 6h.8m30.8-9.9h.8m-20.6-1.7h.8m-15.4-.7h.8m35.4-16.2h.8m-15.8 27.5h.8m-3.7-.5h.8m23.7-7.2h.8m-18.3 1.1h.8m-10.8-5.9h.8m4.4 7.8h.8m-28.4 5.2h.8m20.7-8h.8m-5.2-1.9h.8m-5.5-13.6h.8m14.5 19.5h.8m-11.6 4.9h.8m6.5-11.3h.8m12.3 2.8h.8m-28.6 6h.8m20.4-7.6h.8m27.8 1.3h.8m-43.8-3.6h.8m19.2 4.2h.8m13.9-2.6h.8m-36-8h.8m15 8.6h.8m9.7-18h.8m-21.4 15.2h.8m7.6 2.3h.8m1.8 3.4h.8m-5 3.6h.8m10.2-15.3h.8m10.7 9.7h.8m-28 1.2h.8m-.6 0h.8m-7.4 5.2h.8m-6.3-4.3h.8m-.7-1.3h.8m.7-4h.8m8-3.9h.8m2.4 11.8h.8m14.6-6.2h.8m-22.2 .6h.8m1.3 .4h.8m14.4-18.1h.8m-24.2 5.2h.8m-8.6 17.1h.8m-5.8 11.9h.8m27.6-17.4h.8m6.7 .4h.8m-12.2-10.5h.8m-15.4 15.5h.8m20.1 .7h.8m-10.7-5h.8m4.6 7.1h.8m-2.4-18.2h.8m-16.8 16.3h.8m19.5-7.5h.8m-33.2 12.1h.8m39.1-14.3h.8m-15.5 12.1h.8m12-6.9h.8m-16.5 2.5h.8m13.7-18.4h.8m-9.3 19.3h.8m11.6-11.6h.8m-32 1.2h.8m28.4 2.6h.8m-21.8 4.7h.8m13.2 1.8h.8m-10.2-7.2h.8m8.4-1.2h.8m2.5-5.3h.8m17.5 10.6h.8m-49 16.3h.8m34.2-20.7h.8m.8-9.1h.8m-2.3 11.2h.8m-5.1 10.8h.8m-24.1-1.8h.8m21.8-4.5h.8m-33.1 8.8h.8m5.1-14.9h.8m13.2-1.5h.8m-7.4 1.2h.8m-5.3 14.5h.8m14.9-8.7h.8m-6.4-12h.8m31.4-8h.8m-54.8 19.3h.8m33.8 2.5h.8m-13.2-6.6h.8m4.1 7.1h.8m-6.8-3h.8m-4.5 6.6h.8m5.6-7.5h.8m8.9 .8h.8m8.4-.5h.8m-27.1-4.7h.8m33.1-.3h.8m-54 16.4h.8m26.9-18h.8m-10.4 7.1h.8m-10.7 14.2h.8m12.1-13.3h.8m21-8.2h.8m10.2 9.1h.8m-28.4 8.4h.8m16.2-11.1h.8m21.8-1.9h.8m-25.9 3.1h.8m-22-6.5h.8m29.6-11.7h.8m-27.7 21.8h.8m-14.2-.7h.8m14.7-9.5h.8m3.7 6.8h.8m-4.6 5.2h.8m-2.6-12.7h.8m16.5-3.5h.8m-14.6 16.9h.8m-3.1 1.8h.8m8.1-7.3h.8m-27.8 1.6h.8m37.1 .8h.8m-.6-11.6h.8m-13.6 5.8h.8m-11.6 0h.8m-.7 12.6h.8m-5.2-13h.8m23.2 9.6h.8m-21-5.1h.8m13.4-1h.8m-.8 4.5h.8m-9.7 1.3h.8m.3-6.8h.8m12.6 6.5h.8m-25.1-14.9h.8m22.8-16.1h.8m-14.4 32.8h.8m.2 2.2h.8m13.1-5.3h.8m-17.4-8h.8m-5.8 11.1h.8m8.4 2.3h.8m-19.1-11h.8m17-2.3h.8m16.3 7.2h.8m-31.9-11.6h.8m37.8-12.5h.8m-18.6 23.8h.8m-24.1-2.3h.8m-3 19.7h.8m13.1-30.4h.8m16.8-6.7h.8m-22.8 18.9h.8m7.6-5.7h.8m19.5 11.2h.8m-8.9-15.5h.8m-16.2 4.9h.8m6-4.9h.8m-1.8 3.9h.8m-6.3 20.1h.8m-8.3-24.4h.8m-8.2 17h.8m37.2-8.8h.8m-12 8.9h.8m-15.3-7.4h.8m6-8h.8m-9.2 4.9h.8m22.5-5.1h.8m-10.2 10.7h.8m-25.3 4.4h.8m33.6-8.1h.8m2.2-7.3h.8m-7.4-.5h.8m-23.4 20.3h.8m17.3-16.7h.8m17.5-10.4h.8m-23.6 4.5h.8m-8.2 23.9h.8m-22.5-9.7h.8m30.2-11.3h.8m10.5-4.1h.8m-35.4 9h.8m16.1 5.3h.8m9.8-5.4h.8m-11 10.9h.8m-4.6-15h.8m10.5 14.7h.8m10-15.4h.8m-27.9 .4h.8m23.7-7h.8m-34 18.7h.8m11.9-3.9h.8m16.7-8.1h.8m-4.9 2.5h.8m-28 19.5h.8m24.6-12.6h.8m13.4 1.3h.8m-30.8-3.3h.8m25.6-3.7h.8m-11.4 .7h.8m-6.5-3.8h.8m4.4-.6h.8m8.2-3.9h.8m-9 3.3h.8m-1.4 2.3h.8m2.2 1.4h.8m-5.8 1.8h.8m5.5-5.5h.8m-11.7 16.3h.8m16.2-24h.8m-29.4 13.1h.8m.4-2.1h.8m-.9 9.8h.8m-6.2-.4h.8m18.2-4.2h.8m11.2 9.2h.8m-25.7-16.3h.8m26-5.8h.8m-10.7 5.7h.8m5.6 2.4h.8m-9.9 14h.8m-4-.8h.8m-1.2-12.5h.8m-12.2-.6h.8m21.1 11.2h.8m-15.8-8.5h.8m21.6-3.8h.8m-1.8-11.5h.8m-6.9 8.3h.8m-10.6 2.3h.8m7.4-2.4h.8m.2 .9h.8m1.3 6.4h.8m-11.9 .9h.8m8-1.5h.8m2.7-3.3h.8m-.1 3.6h.8m-12.6-.8h.8m2 1.1h.8m-.9-13.4h.8m31.1 4.3h.8m-32.8-1h.8m-4.5 4.6h.8m19.2 3h.8m-15.8-.6h.8m-16.1 2.6h.8m9.5 6.9h.8m-31-5.3h.8m21.2 7.9h.8m4.8-7.2h.8m12.7-1.5h.8m-4.2 .7h.8m-7-2.1h.8m6.1-6.1h.8m7.1-1.3h.8m19.8 12.1h.8m-45-10.4h.8m10 5.9h.8m-8.3 11.7h.8m23.5-2.6h.8m-21.9-14.7h.8m9.9 6.6h.8m-2.2 9.9h.8m.7-13.7h.8m-6 6.7h.8m-3.4-18.1h.8m-15.2 22h.8m4.7 11h.8m5.9-14.9h.8m1.4-7.4h.8m-8.2 12.3h.8m-7.4-5.5h.8m18 .6h.8m-19.9 8.9h.8m30.6-8.3h.8m-12.2-6.8h.8m-1.5 .8h.8m-22.7 22.3h.8m14.8-14.8h.8m-1 4.4h.8m10.1-8.2h.8m-15.3-1.6h.8m10.7-1.1h.8m-26.4 7.6h.8m40.3-9.1h.8m-20.7 .2h.8m-5.9 19.5h.8m.1-19.4h.8m-13 2.6h.8m19.4-8.2h.8m-19.9 9h.8m32.1 4.1h.8m-26.7-.6h.8m-.4-5.6h.8m6.3 16h.8m6.6-15h.8m1.6 2h.8m-9.1-5.9h.8m-22.8-1.3h.8m11 10.1h.8m15.2-11.1h.8m-8.9 7.3h.8m3.1 11.4h.8m8.9-25.2h.8m2.1 10.2h.8m-18.7 3.8h.8m9 1.3h.8m-5.7-6.6h.8m-18.5 9h.8m2.6 10.1h.8m8.7-15.5h.8m-2.9 2.2h.8m17.5 .9h.8m-33 4.6h.8m36.7-14.1h.8m-9 8.3h.8m-16.9 3.4h.8m4.8-.3h.8m-28.6 .7h.8m34.4-1h.8m-2.6 1.5h.8m.4-14.5h.8m-25.6 26.2h.8m26.9-18.3h.8m-.6 2.7h.8m-7.2 .4h.8m-15-4.4h.8m-4 14.9h.8m1.9-7.9h.8m-1.6-12.1h.8m.7 11.6h.8m13.8-15.7h.8m-7.4 11.2h.8m-8-8.2h.8m4.4 2.4h.8m-.3 12.4h.8m-22-1.6h.8m5.9-4.8h.8m30.4-11.9h.8m-1.8-1.1h.8m3.7 17.9h.8m-20.8-8.5h.8m-7.6 5.9h.8m10.3 1.5h.8m1.7 2h.8m-19.3-13.1h.8m52.7-6.4h.8m-52 17.2h.8m20.9-5.5h.8m-15.1 1.2h.8m-14.3 4.8h.8m.7-4.2h.8m14.1-14.7h.8m-22.3 22.3h.8m1.2-20.6h.8m-.1 21.7h.8m10.6-14.2h.8m4.6 8.9h.8m-12-.2h.8m26.8 8.4h.8m-19.7-4.2h.8m12.8-10.8h.8m-4.2 3.9h.8m6.6-12.6h.8m-5.7 11.3h.8m5.4 .8h.8m-13.4-1.1h.8m7.9-10.1h.8m-20.5 10.9h.8m-1.8-3.7h.8m16 .4h.8m1.5 7.1h.8m-.9-1.6h.8m-24.5-2.8h.8m23.4-11.5h.8m-9.2 8.8h.8m-5 14.9h.8m.8-19.1h.8m14.4 7.8h.8m-27.2-2h.8m15.4-.4h.8m-23.6 7.5h.8m-4.8-9h.8m35.6 4.9h.8m-16.2 .7h.8m10.8-3h.8m-17.6-4.4h.8m21.5 3.4h.8m-34.6-6.6h.8m18.4 18.1h.8m2.9-17.1h.8m-13.9 17.3h.8m-1-9.9h.8m18.7 .7h.8m-12.8 5.2h.8m10.3-3.7h.8m-28.3 3.8h.8m5.7-4.2h.8m-13.8-3.8h.8m38.1-9.6h.8m-11.7 2h.8m-22.8 4.3h.8m7-7.4h.8m16.9 12.4h.8m9.5-4.1h.8m-29.7 8.9h.8m-6.4-9.7h.8m8.5 9.8h.8m8.9-5.7h.8m-5.6 6.7h.8m21.9-10.8h.8m-29.6 14.1h.8m.5-6.6h.8m36.1-9.5h.8m-52.5 10h.8m22.6 3.8h.8m-2.3-.2h.8m14.1-12h.8m.2 5.3h.8m-16.5 9.8h.8m1.4-2.2h.8m.8 4.6h.8m-6.8-13.2h.8m12.5 9h.8m-39.1-3h.8m8.5 13.6h.8m14.9-12.3h.8m-6.1-9.5h.8m-7.6 9.9h.8m14.5 3.7h.8m-35.7-1.4h.8m46.7-15.4h.8m-27.8 4.5h.8m.5 8.4h.8m10.9-10.4h.8m0 11.7h.8m9-13.4h.8m-27.3-1.4h.8m27.5 3.2h.8m-13.4 7.1h.8m-7.6-11.4h.8m30.7 12.7h.8m-10.3-13.9h.8m-17.8 5.1h.8m-12.9 4.9h.8m14.4 5.5h.8m-10.7 0h.8m.2 13.7h.8m9.9 9.8h.8m-7.7-32h.8m7.7 6.3h.8m-6.3-.4h.8m-13.2 4.3h.8m-4-13.7h.8m21 20.2h.8m-16.6-9.1h.8m24.3-7.5h.8m-21.8 10.6h.8m13-2.9h.8m4.7 .6h.8m-8.2-16.8h.8m-12.2 23.6h.8m-3.9-15.7h.8m26.6-7.9h.8m-10.7 4.3h.8m1 5.3h.8m-7.8-5.5h.8m-7.8 15.7h.8m11.7-17.8h.8m.4 8.5h.8m-11.1 1.4h.8m20.1-11.3h.8m7 1.3h.8m-48.9 21.1h.8m24.4-10.9h.8m-13.7 3.2h.8m-4.4-10.2h.8m24.4 1.2h.8m-33.1-.3h.8m21.9 4.7h.8m4.7 4.9h.8m2.6 0h.8m5-8.6h.8m-17.7-.5h.8m-10.6 15.7h.8m3-17.1h.8m-8.1 2.3h.8m9.9 6.7h.8m32.6-17.3h.8m-27.3 15.8h.8m-16 4.6h.8m-5 8.1h.8m12.6-11.7h.8m-21.3-8.9h.8m21.7-1h.8m5 .8h.8m-24.4 12.5h.8m9.7-11.2h.8m12.5 3.6h.8m-3.5-2.4h.8m-13.1 6.2h.8m13.1-1.1h.8m1.8 11.1h.8m9.2-25.3h.8m-10.9 6.1h.8m-24.3 18.1h.8m37.1-20.7h.8m-35.7 15.3h.8m25-13h.8m-8 1.6h.8m-19.9-3.5h.8m18.6 9.9h.8m-15.5-.3h.8m-9.2 .9h.8m-.7-2.4h.8m18.9 4.2h.8m-3.5 2.2h.8m-22.2-1.9h.8m39.8-9.2h.8m-34.3 17.3h.8m24-15.2h.8m-39.9 7h.8m33.1-5.1h.8m-2.6 5.6h.8m-8.2-8.6h.8m-8 4.4h.8m23.5-1.5h.8m-31.8 10.8h.8m16.7 .5h.8m.6-9.1h.8m-19.9 17.7h.8m-1.6-21.3h.8m22.2-8.5h.8m-1.7 7.5h.8m-15.5 5.8h.8m6.7 .3h.8m-12.6-11.6h.8m-4.7 20.3h.8m5.7-4.8h.8m.6 10.3h.8m12.1-21.7h.8m16.6 .3h.8m-19 15.1h.8m-18.6-4.5h.8m15.7-6.7h.8m2 5.4h.8m-3.1-7.5h.8m-22.5 6.6h.8m56-26h.8m-14.4 1.5h.8m17.2-3.7h.8m-3.6-14.3h.8m3.5 9.1h.8m15.4-3.9h.8m-24 1.3h.8m11.8-.1h.8m-22.5-.2h.8m31.7-2.2h.8m-7.7 6.6h.8m-15.2-6.6h.8m1.3-1.5h.8m-4.7-6.6h.8m4.1 8.2h.8m-1.9 0h.8m-8 2.8h.8m11-.4h.8m12.3-8.1h.8m-16.2 6.5h.8m-1.3 4.1h.8m-10.6 1.1h.8m11.4 1.2h.8m-3.9-8.9h.8m11.2-5h.8m-28.3 3.5h.8m2.5 1.7h.8m6.9 7.8h.8m13.8-4.1h.8m-17.8-6.6h.8m19.6 8.3h.8m-11.1-10.4h.8m-13.9 10.2h.8m4-4.4h.8m-8-8.9h.8m-12.4 18.6h.8m28.3-9.9h.8m20.3-2.7h.8m-12 2.2h.8m2.3 1.2h.8m-30.3-4.1h.8m15.5 2.5h.8m-8.2-3.1h.8m-7.5 5.4h.8m6.2-1.4h.8m16.1 0h.8m-11.6 .2h.8m-1.9 3.3h.8m-6.6 4.3h.8m8.1-5.7h.8m-8.1 4.2h.8m6.2-8.3h.8m-23.3 9.7h.8m19-2.4h.8m-5-.6h.8m-3.2-2h.8m3.4-3.6h.8m6 8h.8m-3.9-4.2h.8m-28.2 3.2h.8m27.3-13h.8m-21.7 13.7h.8m.9 1.4h.8m27.2-3.1h.8m-19.3 6h.8m7.8-12.5h.8m-3.8 1.3h.8m1.6 .4h.8m-10.6-2.5h.8m21.6-2.3h.8m-9.8 6.9h.8m-6.9-1.7h.8m-5.2 4.4h.8m-4.1-4.6h.8m5.3-1.9h.8m4.9-1h.8m3 3h.8m-15-9.7h.8m-10.1 8.1h.8m10.8 2.2h.8m11 0h.8m-21 4.6h.8m-12.9-1h.8m2.9 .5h.8m1 3.3h.8m26.4-12.6h.8m-22.3 12.2h.8m4.8-3.3h.8m9.2-3.1h.8m-16.3 .8h.8m27.6-6.5h.8m-21.8 6.1h.8m2.5-5.1h.8m-1.3 11.2h.8m-9-4.4h.8m5.3-1h.8m-.4-1.9h.8m.4-3.4h.8m9.9 3.9h.8m.1-5.2h.8m6.2 4.1h.8m-18.6 2.4h.8m-1.7-.3h.8m-8.5-.2h.8m13-2.3h.8m-26.9-1.4h.8m15.1 6.7h.8m2.8-3.9h.8m16.6-3.3h.8m-7.8-3.3h.8m-15 8.4h.8m31.4-8.1h.8m-46.1 10.5h.8m14-9.9h.8m5.4 4.7h.8m-5.1 .1h.8m3.3 4.7h.8m-3.6-8.5h.8m-9.3 9.3h.8m-16.5-5.8h.8m35.4 7.3h.8m-10-6h.8m-6.7-1.5h.8m11-1.8h.8m-18.7 7.1h.8m16.1 1.5h.8m-16.3-10.6h.8m19.5 7.7h.8m9.7-.5h.8m-17.9-2.2h.8m-7.1-3.6h.8m-2.7 4.3h.8m4.7-1.4h.8m-9.9 4.2h.8m8-7.1h.8m-4.8 3.1h.8m5.4 9.2h.8m.2-10.9h.8m-10 3.2h.8m-5.6-4.9h.8m14.1 .6h.8m-3.1 3.6h.8m-1.3 4.2h.8m-8 6h.8m5.1-4.3h.8m15.6-9.1h.8m-19.3 3.9h.8m-2.4 5.1h.8m1-4.3h.8m6.5-2.8h.8m-6.6-1.7h.8m-15.6 1.7h.8m40.2-8.1h.8m-27 1.8h.8m7.6 4.3h.8m-15.7 4.4h.8m-2 3h.8m30.9-6.6h.8m-39.1 10.9h.8m.2-5.4h.8m25.2-1.8h.8m-14.7 .6h.8m9.8-10.5h.8m-11.5 1.8h.8m14.4 3.2h.8m-9.3 4.2h.8m-12.3 4.8h.8m8.6-10.8h.8m0-2h.8m-8.5 4h.8m.3 4.1h.8m-1.6 3.1h.8m10.9-13.3h.8m-19.7 7h.8m18.7 7.3h.8m-25.9-.5h.8m9.7-8.2h.8m-5.1 8.1h.8m-.1-11.7h.8m11.1 3.5h.8m-12.4 .3h.8m13.4 3.3h.8m-1.8 1.5h.8m-9.4-.2h.8m5.5 2.7h.8m-16.5 .8h.8m11.3-5.1h.8m-7.5 3.1h.8m5.9 1.1h.8m13.3-6.7h.8m-18.6 6.9h.8m-7 3.9h.8m3.3-2.6h.8m20.4-4h.8m-17.9-5h.8m-3.2 1.4h.8m13.5-7.6h.8m-14.6 6.9h.8m11.5 9.8h.8m-21.7-2.5h.8m10.4-4.7h.8m10.4 4.4h.8m-6.8-3.4h.8m10.5 2.6h.8m-8.5 6.7h.8m-20.3-11.4h.8m6.7 4.9h.8m20-12.1h.8m-24.5 17.9h.8m21.8-11.2h.8m-9.9 3.3h.8m-7.4 .8h.8m3.2 0h.8m-11.7 .8h.8m7.8-1.3h.8m2-.6h.8m2.2-9.5h.8m12.7 3.6h.8m-23.1 9.4h.8m-21.5-5.4h.8m24.2-2.9h.8m2.4 2.5h.8m-4.7-2.6h.8m.6 10h.8m2 1.5h.8m-27.2-3.3h.8m22.9-4.3h.8m-2.1-2.5h.8m8 5h.8m-10 4.6h.8m-5.5-1.6h.8m7.1-.6h.8m-2.4 5.2h.8m-2.1-9.8h.8m-9.3 8.9h.8m8.8-5.9h.8m-2.7-2.2h.8m-14.9 8.3h.8m12.9-14.1h.8m12 3.2h.8m-11 6.9h.8m-15 3.2h.8m17.4-8h.8m-9.8-2.7h.8m.3-.4h.8m14.1-3.6h.8m-29.4 14h.8m16.3-7.3h.8m-5.8-2h.8m-3.9 6.8h.8m-1.8-2.8h.8m7.6 1.7h.8m6.2-13.4h.8m-8.4 12.5h.8m-11.8 2h.8m-1.6 2.4h.8m10.4-7.9h.8m-3.1 0h.8m19.2 5h.8m-14.3-14.9h.8m4.8 9.6h.8m-4.5-6.5h.8m-13.6 7.3h.8m20.5 .5h.8m-7.8 1.4h.8m1.3-6.4h.8m-7.1 1.6h.8m-1.3-1.2h.8m.4 12h.8m-3.5-12.7h.8m7.8 10.4h.8m-23.5-3h.8m6.5-7.9h.8m2.5 10.8h.8m10.2-7.7h.8m-4.3-.4h.8m-.7 3.4h.8m-17.3 2.1h.8m6.8-4.6h.8m-16 3h.8m21.2-2.1h.8m-.4 5.2h.8m-14.7-6.2h.8m19.8 .2h.8m-18.8 1h.8m1.7-1.9h.8m10.2 2.1h.8m-8-2.7h.8m-1.1 3.5h.8m11 1.1h.8m-24.1 8h.8m8.9-7.8h.8m8.8-2.9h.8m-8.3 2.6h.8m4.9-9.8h.8m2.4 11.3h.8m-4.3-1.8h.8m2.6-5.3h.8m-27.9 7.5h.8m16.4 5.7h.8m1.8 .2h.8m.3-9.8h.8m-8.9 3.8h.8m6.6-1.7h.8m-17.3 8.2h.8m18.7-9.5h.8m-14-.8h.8m11.2 2.7h.8m-12.7 7.5h.8m22.3-15.4h.8m-31.5 13h.8m20-6.7h.8m-1.9-7.3h.8m-16 4.7h.8m12.4 1.7h.8m8.8-4.1h.8m-22.4 8.6h.8m-.4 .2h.8m17.7-3.8h.8m-2.3 1.1h.8m.5-2.5h.8m5.5 2.3h.8m-17 .6h.8m15.7-13.3h.8m-1.9 11.5h.8m-24.1 5.1h.8m14.4-9.9h.8m9.8 0h.8m-22.7 1.4h.8m14.9 6.2h.8m-27.5 11.8h.8m13.2-11.5h.8m-3.1-9h.8m2.2 12.6h.8m-21.5 6h.8m41-7.5h.8m-28.9-.9h.8m8.4-7h.8m14.6-.4h.8m-13.1 6.7h.8m7.9-7.1h.8m.2-1.1h.8m-20.4 9.1h.8m2.5-3.5h.8m-5.6 5h.8m25.8-10.1h.8m-39.6 4.9h.8m-6.7 4.9h.8m.1-4.1h.8m26.4-.9h.8m-1.7-4.7h.8m1.6 5.4h.8m5.5-1h.8m-11.2-3.7h.8m1-5.1h.8m5.2 9.3h.8m-20.1-2.2h.8m1.8 6.2h.8m0-2.2h.8m20.4 1.1h.8m-15.3-1.5h.8m.2-1.1h.8m8.8-9.2h.8m-7.8 4.9h.8m9.5 4.5h.8m-23.8 4.6h.8m5.4-7.7h.8m10.6 2.6h.8m-16.6-6.5h.8m-7.1-2.3h.8m20.3 8.1h.8m-2.5-3.3h.8m18.5-1.9h.8m-18.1 10.4h.8m2.3-9.2h.8m-11.2 3.2h.8m-12 2.5h.8m9.7-10h.8m7.1 12.1h.8m-4.9-7.6h.8m-16.7 25.1h.8m-25.8 20h.8m16.3-23.6h.8m1.9 1.3h.8m.3 2.6h.8m8.3-10.4h.8m-18.6 13.1h.8m7.7-5.7h.8m-17.4 12h.8m13.2-2.2h.8m19.7-15h.8m-19.8 4h.8m-7.1 4.2h.8m8.4 8.7h.8m-2-5.1h.8m6.1-7.5h.8m-10 3.4h.8m2.4-1.9h.8m3.9 7.6h.8m-10.9-11.5h.8m12.9-4.1h.8m-3.3 12.2h.8m-22.8 8.8h.8m21.8-14.6h.8m-11.8-6.8h.8m12.4 14.5h.8m-21.6-2.6h.8m2.8 4.6h.8m-5.3-6.4h.8m14.3-15.9h.8m-8.1 18.3h.8m.2-6.3h.8m7.3 4.9h.8m-9.1 5.2h.8m11.3-19.3h.8m-15.4 18.6h.8m-2.3 4.1h.8m6.7-9.1h.8m1.5 .3h.8m-12.3-1.2h.8m-.1 8.7h.8m17.6-21.3h.8m-14.7 15.2h.8m7.4-16.7h.8m-16.1 14.5h.8m.1 10h.8m8.9-15.6h.8m1.1 9.1h.8m-7.2-3h.8m-13.1 7.7h.8m8.4-13.2h.8m-.6-3.9h.8m11.9 11.4h.8m-16.7 1.8h.8m12.4-10.5h.8m-7.8 12.3h.8m.2-10.2h.8m8.5-11.1h.8m-.2 6.1h.8m5.4-3.9h.8m-8.6 5.1h.8m-4 2.7h.8m.8 .2h.8m-.5-4.9h.8m-3 12.6h.8m-7.6-5.2h.8m19.9-24.6h.8m-7.6 17.8h.8m-11.3 6.3h.8m-.9 8.8h.8m1.4-19.9h.8m8 6.1h.8m-4.7 4.6h.8m-12.4 1h.8m7.9 2h.8m-5-.6h.8m10.6-3.7h.8m-7.8 10.2h.8m-8.8-13.2h.8m11.7 23.4h.8m4.5-21.5h.8m-10.5 8.6h.8m2.2 8.7h.8m-15.3-6.7h.8m-14.8 10.9h.8m25.9-15.6h.8m-16 4.4h.8m13.8-10.8h.8m-3.7 8.7h.8m-2.4-11.2h.8m1.7 14.6h.8m4.4-18h.8m-.4 3.8h.8m-25.6 11.7h.8m20.3-22.1h.8m-7.5 18.8h.8m18.4-14h.8m-20.4 17.6h.8m-4-4.6h.8m5.8-3.4h.8m-6.1 12.3h.8m6.2-4.2h.8m7.4-13.2h.8m-22 2.2h.8m12.1 6.8h.8m-9.8-4.5h.8m-1.2 12h.8m19.6-16.1h.8m-22.3 14h.8m-1.5 7.9h.8m8.6-9.8h.8m-1.7-10h.8m8 7.9h.8m-9.2-2h.8m-7.9 8.8h.8m-6.8 6.3h.8m11.7 4.4h.8m-7.8-20.6h.8m7.4 8.2h.8m11.7-10.1h.8m-22.1 8.2h.8m16.8-10.4h.8m-13.3 2.8h.8m0 13.3h.8m5.7-6.4h.8m-13.2-4.3h.8m10 1.9h.8m10-20.7h.8m-13.6 24.6h.8m-5.1-6.8h.8m6.7 5.8h.8m4.6-12h.8m-28.4 13.9h.8m9.1-4h.8m-5.3-6.1h.8m11.3-11.2h.8m-5.1 17h.8m-5.4 3.8h.8m7.6-7.2h.8m7 1.5h.8m-11.2 2.7h.8m6.9 7.8h.8m-7.4 2.8h.8m8.9-11.3h.8m-4 .6h.8m-2.9 1.8h.8m-5.9-.3h.8m-3.3-4.1h.8m20.7-16.2h.8m-24.4 4.5h.8m-4.5 19.1h.8m15.7-3.4h.8m4.8-6.5h.8m-17.7 11.6h.8m-2.6-15.8h.8m11.8 10.4h.8m-1.4-7.2h.8m.5-1.3h.8m-12.5 5.1h.8m-7.8 13.6h.8m9.1-.9h.8m-1.1-12.1h.8m-8.3 13.2h.8m28.8-30.3h.8m-16.3-.3h.8m-6.2 17.8h.8m10-12.7h.8m-13.5 11h.8m-3.5 4.9h.8m8 3.1h.8m7.2-6.4h.8m-.6-16h.8m-10.2 28.6h.8m10.7-22.9h.8m-29.4 25.7h.8m4.1-5h.8m13.9-.3h.8m-6.4-13.3h.8m2.8 6.9h.8m-9.6-1.8h.8m6.8-5.4h.8m9.2-9.8h.8m-22.6 15.5h.8m.6 2.8h.8m-8.9 1.6h.8m23.6-18h.8m4.2 2.4h.8m-17.7 13.7h.8m5.8-5.4h.8m-8.7 5.3h.8m22.9-6.4h.8m-.8-19.4h.8m-7.6 17.6h.8m-7.5 5.1h.8m6.9-7h.8m-.6-1.2h.8m-11.3 3.3h.8m2.5-1.5h.8m-3.9 4.8h.8m-3 2.8h.8m-47.2 9.3h.8m8.7 11.4h.8m-17.7-1.3h.8m11.8-5.1h.8m-19.3 8.4h.8m26.6-3h.8m24.2-21.7h.8m-53.4 22.2h.8m16.9-14.4h.8m13.4 3.2h.8m-3.9 6.2h.8m-14-2.1h.8m1.1 4h.8m4.9-.4h.8m10.6-.2h.8m-31-5h.8m-6.5-6.1h.8m42.9 14.1h.8m-35.8-5.4h.8m41.6 4h.8m-25.6-1.8h.8m-1-1.5h.8m-26.2-3.2h.8m20.2 5.1h.8m13.3 15.4h.8m-15.1-15.3h.8m-3.1 4.6h.8m16.8-6.2h.8m-11.8-.1h.8m16.2 13.5h.8m-17.3-11.6h.8m5.1-4.8h.8m8.4 3.9h.8m-36.7 2.6h.8m-2 1.2h.8m-1.6-8.8h.8m29.5 6.8h.8m19.9 1.7h.8m-26.7 6h.8m-5.4-13.8h.8m34.7 1.7h.8m-49.5 6.7h.8m41-8.8h.8m-31.1 1h.8m24.3 3.1h.8m-34.8 .6h.8m18.3-8.6h.8m-16.2 18.1h.8m24.6-9.5h.8m-14.5-.4h.8m-14.1-9.8h.8m23.1 8h.8m23.7-1.2h.8m-46.4 10.9h.8m7.1-16.1h.8m3.5-.7h.8m-21.4 .5h.8m12.1 8.1h.8m2.8-9.5h.8m28.4-.3h.8m-12.3 4.4h.8m-24.9 14.6h.8m19.5-9.4h.8m-15.5-2.2h.8m7.5 1.1h.8m-18.9 5.9h.8m23.8-2.1h.8m-24.9-5.8h.8m10.3 8.9h.8m1.7 3.2h.8m6.2-12.2h.8m-5.3 5.6h.8m-8.2-.3h.8m.1-9.3h.8m15.3 3.2h.8m-12.6-3.9h.8m-7.6 7.5h.8m17.7-6.4h.8m.2 5.5h.8m-3.8 4.1h.8m-7.3 .7h.8m-17.8 8.4h.8m2.8-7.1h.8m3.2-3.3h.8m-18 1.6h.8m36.6-11.1h.8m-33.2 21.6h.8m6.8-12h.8m4.9-9.7h.8m-14.1 0h.8m16.9 7.3h.8m17.5 5.7h.8m-11.5-2.7h.8m-10.5 .3h.8m-5 6.9h.8m9.6-7h.8m.4 3.5h.8m-6.8-10.7h.8m-4.3 5h.8m-11.6 1.7h.8m6.8 .7h.8m6.7 2.4h.8m13.8-16.6h.8m-15.4 10.8h.8m-1-7.5h.8m-7.7 11.6h.8m-5.1-5.3h.8m23.9 3.2h.8m-18.3-3.7h.8m15.2 5.7h.8m-5.1-6.9h.8m-20.2 5.3h.8m6.7-5.5h.8m-5.5 7.2h.8m22.5-10.4h.8m-14.1 16.2h.8m-19.4-18.1h.8m-.8 7h.8m4.3 6.4h.8m-1.5-1.8h.8m20.9-8.8h.8m-9.4 3.5h.8m-14.3 10.3h.8m-5.8-2.8h.8m20.4-9.9h.8m-26.5 15.6h.8m16.1-9.9h.8m-2 4.5h.8m39-5.8h.8m-45 6.3h.8m6.4-7.3h.8m1.1-9.8h.8m-13.4 26.4h.8m12.2-8.2h.8m-2.8-7.4h.8m.9 6.8h.8m16.6-14h.8m-34.9 22.3h.8m8.1-15.3h.8m10.8 1.7h.8m-1.4-2.1h.8m26.9-10.8h.8m-32.8 11.4h.8m11-5h.8m-10.7-.3h.8m-15.6 5.4h.8m14.5-3.5h.8m-18.6-2.1h.8m26 8.6h.8m-18.8 4.4h.8m.6 1.8h.8m-6.7-4.8h.8m3.1-8.1h.8m7.6 6.1h.8m-14.4-8.6h.8m12.4 5.4h.8m6.6 4.2h.8m-9.6 5h.8m-1.3-3.7h.8m-.9-3.8h.8m-16-.4h.8m40.6-8.6h.8m-15.8 12.8h.8m-14-1.3h.8m4.6 .6h.8m12.7-7.3h.8m-19.3 2.9h.8m9.4 3.3h.8m-32.3 1.7h.8m42.1-12.3h.8m-37.3 17.5h.8m21.7-7.3h.8m-15-5.9h.8m-11.2-1.4h.8m11.5 7.1h.8m11.1 4h.8m3.9-7.1h.8m-7.1-17.7h.8m8.6 7.1h.8m3.2 14.9h.8m-18.9-8.7h.8m9.9-10.7h.8m9.3 10.8h.8m-17.1 7.8h.8m4.2-2.7h.8m10.8 5.7h.8m-3.8-8.1h.8m4.1 1.9h.8m-37.8 9.7h.8m24.7-14h.8m-25.4 6.3h.8m37.3 6.4h.8m-18.2-9.3h.8m-20 5h.8m3.2 3h.8m25.7-3.1h.8m-20.6 1.5h.8m-12.5-7.1h.8m22.3 11.2h.8m-9.4-4.9h.8m6.1 1.9h.8m8.6-12.7h.8m-14.9 10.3h.8m9.2-5.5h.8m7 5.2h.8m6.1-15.3h.8m-28.4 14.1h.8m.5-1.5h.8m-.2 8.9h.8m14.6-10.1h.8m-18.8-2.3h.8m21.4-4.1h.8m-7.6 4.2h.8m-18.5-.1h.8m5.2 4.1h.8m-12.9-8h.8m4.7 1.9h.8m11.2 1.1h.8m-7 .9h.8m41-3.5h.8m-30.2-3.1h.8m-17 4.3h.8m9.4 3.4h.8m-14.2-6.1h.8m2.4 1.7h.8m-14 14.4h.8m31.7-7.2h.8m-37.9 3.7h.8m24.9-6.5h.8m4.3-3.2h.8m-17.9 10.1h.8m3.8-3.5h.8m-9.5 1.8h.8m19.8-3h.8m-18.3-3.2h.8m-1 6.1h.8m12.9-8.1h.8m9.6-3.1h.8m-27.7 11.1h.8m11-.9h.8m10-6h.8m2 1h.8m-21.7-1.7h.8m13.2-4.6h.8m12.8-37.9h.8m-35.3 5.6h.8m51.1 66.1h.8m-52.3-67.2h.8m86.7 70.9h.8m-47.8 2h.8m18.8-93.8h.8m2.4 6.9h.8m7.3 34.7h.8m-61.5-19.4h.8m47.9 30.5h.8m9.9 38.8h.8m-80.5-87.9h.8m93.1 64.2h.8m-51.8 11.6h.8m31.5-18.4h.8m-79.2 29.7h.8m69.3-57h.8m-44.7-2.7h.8m68.1 71.6h.8m1.6-61.1h.8m-31.9 17.5h.8m38.4 28.8h.8m-30.3 14.7h.8m28.9-99.8h.8m-53.1 68h.8m28.7 17.8h.8m-48.1-16.7h.8m15.6-27.5h.8m35-42.7h.8m-53.6 93.7h.8m.4-24.8h.8m-36.8-23h.8m97.7 46.7h.8m-57.9-69.3h.8m49.9 7h.8m-32.2-23.2h.8m-56.1 1.5h.8m59.4 75.8h.8m13.1-78.9h.8m-29 91.3h.8m39.6-99h.8m-64.7 103.9h.8m51-42h.8m-59.4-42.4h.8m86.9 58.8h.8m-11-58h.8m1.8-13h.8m-67 39.2h.8m42.8 35.7h.8m18-12h.8m6-26.1h.8m4.7 7.2h.8m-68.1 44.1h.8m37.6-80.6h.8m-39.2 52.2h.8m42.9 16.2h.8m-79.3-9.5h.8m64.2-55.5h.8m36.4 48.5h.8m-53.1 9.2h.8m42.6-34h.8m-92.5-12.8h.8m12.7 26.2h.8m68.8 6.2h.8m-8.3 20.7h.8m-59.6-61.3h.8m12.5 68.6h.8m21.2-32h.8m6.6-55h.8m10.5-1.5h.8m-71.7 59.7h.8m40.3-54.7h.8m-26.9 32.5h.8m77.2-23.9h.8m-76.1 30h.8m34.9 33.7h.8m-14-31h.8m42-7h.8m-61.7 41.5h.8m74.6-30.3h.8m-73.7-28h.8m-26.9 60.3h.8m87.2-48.1h.8m-13.7-31.6h.8m-54 25.1h.8m-1.9 40h.8m58.4 24.2h.8m-18.3-45.9h.8m-33.1 53.8h.8m-28.1-4.1h.8m88.9-8.6h.8m-41.1-64.2h.8m32.1 45.4h.8m-57.9-.4h.8m16.8-57.3h.8m-17.9 50.4h.8m40.7-57h.8m31.9 22.6h.8m-40.7 44h.8m-22.7-23.1h.8m-39.5-16.1h.8m16.9 30.1h.8m-18.4 23.3h.8m57-7.5h.8m-55.5-79.5h.8m4.9 18.1h.8m76.7 18.8h.8m-90.7 17.3h.8m44.6 33.9h.8"/>
<line x1="444.2" y1="644" x2="486.2" y2="644" stroke="#f55" stroke-width="0.8" />
<line x1="516.5" y1="531.2" x2="516.5" y2="644.5" stroke="#222" stroke-width="1" />
<line x1="441.2" y1="576.1" x2="558.3" y2="576.1" stroke="#222" stroke-width="1" />
<line x1="441.2" y1="531.2" x2="441.2" y2="644.5" stroke="#555" stroke-width="0.9" />
<line x1="441.2" y1="644.5" x2="558.3" y2="644.5" stroke="#555" stroke-width="0.9" />
<path stroke="#555" stroke-width="0.6" fill="none" d="M438.4 641.5h2.8M439.8 635.44h1.4M439.8 631.8h1.4M439.8 629.38h1.4M439.8 627.36h1.4M439.8 625.74h1.4M439.8 624.33h1.4M439.8 623.32h1.4M439.8 622.31h1.4M438.4 621.3h2.8M439.8 615.24h1.4M439.8 611.6h1.4M439.8 609.18h1.4M439.8 607.16h1.4M439.8 605.54h1.4M439.8 604.13h1.4M439.8 603.12h1.4M439.8 602.11h1.4M438.4 601.1h2.8M439.8 595.04h1.4M439.8 591.4h1.4M439.8 588.98h1.4M439.8 586.96h1.4M439.8 585.34h1.4M439.8 583.93h1.4M439.8 582.92h1.4M439.8 581.91h1.4M438.4 580.9h2.8M439.8 574.84h1.4M439.8 571.2h1.4M439.8 568.78h1.4M439.8 566.76h1.4M439.8 565.14h1.4M439.8 563.73h1.4M439.8 562.72h1.4M439.8 561.71h1.4M438.4 560.7h2.8M439.8 554.64h1.4M439.8 551h1.4M439.8 548.58h1.4M439.8 546.56h1.4M439.8 544.94h1.4M439.8 543.53h1.4M439.8 542.52h1.4M439.8 541.51h1.4M438.4 540.5h2.8M439.8 534.44h1.4M445.2 644.5v2.8M451.89 644.5v1.4M455.9 644.5v1.4M458.58 644.5v1.4M460.81 644.5v1.4M462.59 644.5v1.4M464.15 644.5v1.4M465.27 644.5v1.4M466.38 644.5v1.4M467.5 644.5v2.8M474.19 644.5v1.4M478.2 644.5v1.4M480.88 644.5v1.4M483.11 644.5v1.4M484.89 644.5v1.4M486.45 644.5v1.4M487.57 644.5v1.4M488.69 644.5v1.4M489.8 644.5v2.8M496.49 644.5v1.4M500.5 644.5v1.4M503.18 644.5v1.4M505.41 644.5v1.4M507.19 644.5v1.4M508.75 644.5v1.4M509.87 644.5v1.4M510.99 644.5v1.4M512.1 644.5v2.8M518.79 644.5v1.4M522.8 644.5v1.4M525.48 644.5v1.4M527.71 644.5v1.4M529.49 644.5v1.4M531.06 644.5v1.4M532.17 644.5v1.4M533.28 644.5v1.4M534.4 644.5v2.8M541.09 644.5v1.4M545.1 644.5v1.4M547.78 644.5v1.4M550.01 644.5v1.4M551.79 644.5v1.4M553.36 644.5v1.4M554.47 644.5v1.4M555.58 644.5v1.4M556.7 644.5v2.8"/>
<text x="443.5" y="541.4" font-size="5.6" font-weight="normal" fill="#222">Q1</text>
<text x="443.5" y="549.2" font-size="5.6" font-weight="normal" fill="#222">1.84</text>
<text x="549.8" y="541.4" font-size="5.6" text-anchor="end" font-weight="normal" fill="#222">Q2</text>
<text x="549.8" y="549.2" font-size="5.6" text-anchor="end" font-weight="normal" fill="#222">7.32</text>
<text x="443.5" y="630.3" font-size="5.6" font-weight="normal" fill="#222">Q4</text>
<text x="443.5" y="638.4" font-size="5.6" font-weight="normal" fill="#222">89.3</text>
<text x="549.8" y="630.3" font-size="5.6" text-anchor="end" font-weight="normal" fill="#222">Q3</text>
<text x="549.8" y="638.4" font-size="5.6" text-anchor="end" font-weight="normal" fill="#222">1.53</text>
<text x="448.9" y="657" font-size="4.6" text-anchor="middle" font-weight="normal" fill="#555">10</text>
<text x="452.6" y="653" font-size="4.6" text-anchor="middle" font-weight="normal" fill="#555">2</text>
<text x="470.6" y="657" font-size="4.6" text-anchor="middle" font-weight="normal" fill="#555">10</text>
<text x="474.3" y="653" font-size="4.6" text-anchor="middle" font-weight="normal" fill="#555">3</text>
<text x="492.3" y="657" font-size="4.6" text-anchor="middle" font-weight="normal" fill="#555">10</text>
<text x="496" y="653" font-size="4.6" text-anchor="middle" font-weight="normal" fill="#555">4</text>
<text x="514" y="657" font-size="4.6" text-anchor="middle" font-weight="normal" fill="#555">10</text>
<text x="517.7" y="653" font-size="4.6" text-anchor="middle" font-weight="normal" fill="#555">5</text>
<text x="535.7" y="657" font-size="4.6" text-anchor="middle" font-weight="normal" fill="#555">10</text>
<text x="539.4" y="653" font-size="4.6" text-anchor="middle" font-weight="normal" fill="#555">6</text>
<text x="557.4" y="657" font-size="4.6" text-anchor="middle" font-weight="normal" fill="#555">10</text>
<text x="561.1" y="653" font-size="4.6" text-anchor="middle" font-weight="normal" fill="#555">7</text>
<rect x="565.6" y="531.2" width="118" height="113.3" fill="#fff" stroke="#c8c8c8" stroke-width="0.9" />
<ellipse cx="617.5" cy="598" rx="13.75" ry="7.2" transform="rotate(-10 617.5 598)" fill="#ff1c10" opacity="1" filter="url(#rb)"/>
<ellipse cx="655.5" cy="560.5" rx="11.88" ry="4.32" transform="rotate(-10 655.5 560.5)" fill="#ff1c10" opacity="0.8" filter="url(#rb)"/>
<path stroke="#ff2a1e" stroke-width=".85" fill="none" d="M632.4 589.6h.8m-15.3 19.4h.8m17.1-28h.8m-5.9 .1h.8m-8.7 11.6h.8m3 12.1h.8m-7.2-8h.8m-16.4-.5h.8m16.6-8.5h.8m-15.2 9.8h.8m10.5 6h.8m-8.6-9.9h.8m20.5 3h.8m-6.4-12.1h.8m-14.9 27.3h.8m19.7-13.3h.8m-25.8 3.6h.8m4.9-17.2h.8m-7.7 16h.8m3.5-3.6h.8m.4 .8h.8m-3 15.7h.8m25.2-16.9h.8m-22.7-1.6h.8m-.5 10h.8m-1.7-7h.8m3.1-2.1h.8m9.8 9.6h.8m-1.5-14h.8m-8.1 1.9h.8m-2.9 1.6h.8m14.2-5.7h.8m-5.3-6.5h.8m-28.6 20.7h.8m15.6-9.4h.8m-7.7 1.5h.8m7.9-8.3h.8m8.8 14.8h.8m-19 2.5h.8m8.1-11.6h.8m-2 6.5h.8m5.3-.1h.8m-10.1-2.9h.8m.5-3.8h.8m3.1 17.4h.8m-3.8-12.6h.8m-5.5 12.6h.8m8.9-22.7h.8m-21.3 14h.8m22.4-10.6h.8m-12.3 6.3h.8m5.6-3.3h.8m-4.1 7.5h.8m-15-8.5h.8m22.9 9.5h.8m-25.9-8h.8m23.8 4.3h.8m-.3 2.1h.8m8.4-.7h.8m-13.8-16.3h.8m-33.7 14.7h.8m38 3.6h.8m-19.7-5.2h.8m7.3 5.1h.8m2.7-8.2h.8m2.5-1.4h.8m-18.2-6.1h.8m12.8 14.7h.8m-13-8.6h.8m.7-3.9h.8m8.6 11.9h.8m-18.6-11.1h.8m21.3 5.9h.8m-7.2-2.4h.8m1.1 16.3h.8m-.2-10.9h.8m-17-8.5h.8m34.6 2.3h.8m-9 9.5h.8m3.4-7.3h.8m-16.6-4.5h.8m5.8-5.7h.8m2.1 18.3h.8m-16.2-.2h.8m18-15.9h.8m-23.1 10.1h.8m1 12.7h.8m12-14.7h.8m-12-4.9h.8m-.2 13.3h.8m-7.4-3.9h.8m10.1-8.1h.8m-12.6 25.4h.8m22.7-25.6h.8m-31.6 5.9h.8m15.7 12.8h.8m13-20.6h.8m-23.2-4.5h.8m9.5 11.6h.8m6.7 1.4h.8m-13.2 6.1h.8m-2.9 12.7h.8m14.8-10.5h.8m4.6-11.2h.8m-13.3-4.7h.8m-6.1-1.7h.8m-19.8 11.9h.8m21.4-8.5h.8m-29.4 8.1h.8m41.8-2.9h.8m-32.9 4.4h.8m6.6-3.3h.8m-5.5-9.9h.8m30.9-3.4h.8m-1.4 18.4h.8m-18.8 6.2h.8m5.1-19.2h.8m21.5 10.6h.8m-21.6 1.1h.8m-16.2 9.2h.8m7.4-10.4h.8m18.3-12.3h.8m-8.1 10.3h.8m-25 2.2h.8m7.1-8.9h.8m4.6 9.6h.8m1.5 .2h.8m8.2-8.9h.8m-7.3 13.7h.8m-13.1-14.8h.8m23.8 5.4h.8m-10.7 5.5h.8m-10.1 2.3h.8m1.7-4h.8m-16.6-7.4h.8m15.1-2.3h.8m-9.2 9.5h.8m8.9 2h.8m6.9-2.2h.8m12.3-9.1h.8m-19.9 14h.8m-12.1-9.7h.8m1.8-8h.8m26.1 11.9h.8m-32.5 3.9h.8m17.2-13.2h.8m9.4 4.7h.8m-28.6 12.6h.8m12.3-10.8h.8m9.9 6.3h.8m-18.7-6.2h.8m8 4.8h.8m2.4-19.1h.8m-9.9 26.9h.8m-4.6-11.2h.8m9.1-5h.8m-6.8 11.3h.8m-21.1 0h.8m-2.7 3.8h.8m25-15.9h.8m-7.2 4h.8m-2.8 5h.8m1.9 4.7h.8m24.8-20.3h.8m-20.6 11.4h.8m-14.5-7.4h.8m10.6-1.1h.8m-14.5 7.4h.8m7.2 9h.8m-5.7-4.1h.8m-2.9 9.7h.8m9.2-8.1h.8m12.6-7.3h.8m-16.6-7.2h.8m15.8 6h.8m-16.7 12.3h.8m-.5-5.7h.8m4.8-3.3h.8m-4.2 6.6h.8m-2.8-4.2h.8m-5.9-1.3h.8m3.1 8.5h.8m.3-17.6h.8m.1 17.9h.8m-4.4-5.1h.8m4.8-.9h.8m3.6-3.7h.8m-15.5-.7h.8m9.4 12.1h.8m0-5.5h.8m2.4-13.6h.8m-15.4 12.7h.8m7.9-1.6h.8m2.2-9.6h.8m8.3 2.5h.8m3.1 8h.8m-11.6-6.3h.8m-18.4 1.7h.8m-4.1-3.5h.8m25.1 8.8h.8m4.1-4.5h.8m-18-2.9h.8m12.3 11.2h.8m5.3-6.2h.8m-23.1 1.3h.8m6.3-3.7h.8m-1.7 .4h.8m-4.3-7.1h.8m7 19.5h.8m-3.2-22.4h.8m8.7 15.4h.8m-24.2-2.9h.8m9.1-10.4h.8m8.6 18h.8m-16.3-3.7h.8m18.2-14.9h.8m-9.8 13.2h.8m1.3-1h.8m2-9.1h.8m-21.6 1h.8m18.5 2.9h.8m5.3 2.9h.8m-19-9.6h.8m7.2 8.3h.8m-5.1 1.4h.8m12.8 1.8h.8m-6.1-3.4h.8m-7 5.7h.8m-1.3-18.6h.8m11 7.1h.8m8.7 4.7h.8m-32.2-5.8h.8m7.3 7.2h.8m11.5-1.9h.8m-25.2 6.2h.8m-.9 .8h.8m27.7-12h.8m.3 8h.8m-22.2-.8h.8m18-.7h.8m-3.2 6.4h.8m-3.2-5.5h.8m6.7-9.3h.8m-29.3 8.9h.8m22-.1h.8m-9.9-3.3h.8m4 6.6h.8m-15.3-5.2h.8m26.7 4.8h.8m-11.1-7.7h.8m-10.5 8.9h.8m-7.8 7.1h.8m-13.2-12.8h.8m21.8 3.2h.8m3.7-3.4h.8m-11.5 .5h.8m18.3-7h.8m3.1 13.5h.8m-11.7-8.9h.8m-7.7-.2h.8m15.9 10.5h.8m-12.6-14h.8m-16.9 9h.8m12.3 2.7h.8m-2-12.1h.8m14.9 10.3h.8m-12.5 12.5h.8m-8.1-14.2h.8m7.4 1.5h.8m10.6-6.1h.8m-10.1-11.2h.8m-11.8 23h.8m15.8-6.5h.8m-22.7 6.8h.8m15.1-1.9h.8m-5.5-1.3h.8m10.8-6.7h.8m3.4-1.9h.8m-15 8.9h.8m-7-4.1h.8m-4.5 .7h.8m20-14h.8m-3.5 13h.8m-7.4 8.8h.8m-4 2.3h.8m-25.6-5.4h.8m4.7-3.9h.8m7.7-7.1h.8m.1 6.6h.8m13.9 2.7h.8m-13.2-6.6h.8m22.1-1.5h.8m-22.3 4.9h.8m-2-3h.8m-6.2-3.1h.8m23 16.6h.8m-18.9-12.8h.8m9.2-1.2h.8m-2.8 2h.8m-5.7-7.8h.8m-5.3 11h.8m17-11.5h.8m-2.4 7.9h.8m-5.2-1.5h.8m-3.3 5.8h.8m12.3-.5h.8m-18.5-13.3h.8m6.7 6.3h.8m-3 6.5h.8m-2.8-7.4h.8m2 5.8h.8m-19.9 4.8h.8m22.3-4.2h.8m-.9-4.7h.8m-1.6 10.4h.8m1.3-11.3h.8m1.3-1.2h.8m-21.2 16h.8m12.7-7.5h.8m-1.3 4.7h.8m-5.7-18.3h.8m-2 20.4h.8m-7.2-9.9h.8m8.8-17.9h.8m34.5 12.9h.8m-36.8-5.3h.8m1.5 15h.8m-21.9-2.4h.8m18.9-9.2h.8m3.6 4.9h.8m-23.9-5.2h.8m26.9 .3h.8m1.8-6.3h.8m-6.4 11.9h.8m3.2-7.8h.8m-1.9 19.4h.8m-.1-2.5h.8m-10.5-10.8h.8m9.2 3.2h.8m-14.5-.7h.8m9.8-6.8h.8m-14 2.6h.8m-.4 2.7h.8m8.8 4.9h.8m-16.9-1.1h.8m-10 .5h.8m11.3-9.4h.8m36.1 5.6h.8m-19.4 .3h.8m-18.4 2.6h.8m-.8 0h.8m-1.7 3.2h.8m11.8-4.7h.8m19.8-6.7h.8m-6.8 6.4h.8m-7.3-5.7h.8m-6.3-1.5h.8m-21.9 12.5h.8m25.6-7.7h.8m1.1 .6h.8m17.2-14.5h.8m-31.4 17.6h.8m12.8-12.3h.8m-9.9 7.9h.8m12.4 0h.8m-27.2 2.1h.8m-6.9-2.4h.8m1.4 2.1h.8m7.5 4h.8m12.3-7.7h.8m2.8 14.5h.8m-12-2.8h.8m16.7-11.4h.8m-10.1 8.7h.8m-24.7-1.4h.8m16.5-9.3h.8m22.6 7.2h.8m-29-4.7h.8m20.8-1.3h.8m-8.4 13.8h.8m-14.3-9.9h.8m2.2-2.4h.8m4.9-2.3h.8m24.5 4.4h.8m-27.8-6.9h.8m9.7 4h.8m-23 8.8h.8m12.3-5.2h.8m-10.2 8.3h.8m-3.5-21.3h.8m5.7 18.7h.8m12.1-13.1h.8m-.4 9.6h.8m-21.7-7.8h.8m7.2 12.1h.8m-10.8-5.6h.8m21.4-.7h.8m5-.2h.8m-14 8.1h.8m-24.7 2.5h.8m19.8-18.3h.8m-10.1 9.5h.8m-4.2 13.1h.8m7.9-9.9h.8m-18.3-18.6h.8m13.8 9.7h.8m13.4 2.1h.8m-.5-3.6h.8m-4.2 2.8h.8m6.3-8.5h.8m-22.1 5.1h.8m17 9.4h.8m.9 1.8h.8m-1.4-6.2h.8m-18 5.2h.8m8 12h.8m-8.1-4.8h.8m10.2 2.1h.8m-9.7-18.6h.8m-.2-.1h.8m8.9 2.4h.8m-10.2 10.9h.8m-6.9 3.9h.8m32.6-10.1h.8m-13.4-3.7h.8m-9.7 13.8h.8m-11.5-.1h.8m2.4-14.1h.8m-7.1 6.7h.8m-4.5 3.4h.8m11.6 .5h.8m10.4-7.6h.8m-18.3 3.9h.8m4.9 1.7h.8m-6.8 8.3h.8m10.4-21.2h.8m-2.2 14.4h.8m-20.7 1.1h.8m19.3-6h.8m-6.8 1.2h.8m-3.9 6.9h.8m-8.3-10.7h.8m44.4-5.7h.8m2.1 2.9h.8m-20.3 4.2h.8m-22.5 .2h.8m-7.2-3.2h.8m22.8 10.2h.8m-21.3-7.5h.8m26.7 .8h.8m-10.9-7.8h.8m-5.7 6.2h.8m-1.5-1.6h.8m10.5 1.3h.8m-12 3.9h.8m10.7 1.4h.8m-7.9-2.8h.8m-14 2.2h.8m17.5-4h.8m-18.7 2.6h.8m2.6-4.1h.8m2.5 3h.8m5.2-3.2h.8m-7.3-4.8h.8m12.7 1.1h.8m9.5-1h.8m-27.1 1h.8m2.5 11.6h.8m1.5-3.7h.8m16.5-6.4h.8m-14.3 1.3h.8m-9.8 13h.8m10.5-18.7h.8m-2.6 7.3h.8m-1.1 .8h.8m-5.2-7.6h.8m-1.5 1.9h.8m-17.2 9.6h.8m9.8-8.6h.8m1.6-7.9h.8m11.4 10h.8m-12.5 12.4h.8m-4.5 5.6h.8m-14-10.9h.8m26.7-6.6h.8m-9.7 9.7h.8m15.7-7.7h.8m-22 1.1h.8m3.3-6.3h.8m11 1.1h.8m-12.8 3.9h.8m-4.2 3.2h.8m4.3-2.6h.8m2.3 1.6h.8m19.5-11.3h.8m-25.1 6.6h.8m12.9-7.6h.8m-11.1 21.1h.8m-21.1-11.4h.8m19.3 3.7h.8m-1.1-2.7h.8m-17.4-1.8h.8m5.9-2.6h.8m2.7 .4h.8m-12.7 3.5h.8m31-7.3h.8m-25.4 13h.8m-14.5-4.9h.8m18.1 5.4h.8m-7.2 3.2h.8m-9.7-8.8h.8m31.3-1.5h.8m-26.3-1.2h.8m14.9 4.1h.8m-15.1 .2h.8m5.9-3.9h.8m6.5 0h.8m5.1 3.3h.8m-1-.5h.8m-2.2-5.5h.8m-9.2 .2h.8m-2.3 .1h.8m-7.4 .5h.8m-1.8 2.8h.8m-6.9 6.1h.8m6.3 3.4h.8m-13.6-16.4h.8m20 11.3h.8m3-9.7h.8m9.6 11.2h.8m-5.3-2.6h.8m-17.1 5.1h.8m16.8-6.2h.8m-18.4-1.7h.8m6.5 6.4h.8m-26.5-4.8h.8m35.3 4.6h.8m-4.9-19h.8m16.1 8.9h.8m-25.9 9.7h.8m4-12.5h.8m-4.3-1.7h.8m8.7 12h.8m6.9-11.7h.8m-27.5 20.4h.8m9.8 .5h.8m-17.7-20.5h.8m20.1 13.3h.8m4.9-4.1h.8m-7.3-5.3h.8m-1.8 2.3h.8m-4.5 5.6h.8m-9.7-7.5h.8m1.4 11.1h.8m24.5-12.6h.8m-26 16.2h.8m19.6-10.4h.8m-19.4-4.6h.8m-4.2 18.1h.8m13.9-19.8h.8m-3.3-2.3h.8m-15.8 5.5h.8m12.7-7h.8m8 8.4h.8m-22.6-.1h.8m13.5-2.6h.8m11.9-6.8h.8m-12.8 9.3h.8m4.5-2.1h.8m-4.4 10.2h.8m-20.7-13.4h.8m1.8-4.2h.8m24.9 10.4h.8m-25.5 .2h.8m9 1.9h.8m-3.2-1.7h.8m8.8 1.5h.8m7.3 .2h.8m4.3-10.1h.8m-24.2 15.3h.8m2.6-6.9h.8m24.4-.3h.8m-10.8-8.8h.8m-14.8 8.5h.8m10.1 1.1h.8m2-10.1h.8m-17.4 2h.8m20 1h.8m-21 15.2h.8m10.9-2.9h.8m-.2 8.4h.8m18-18h.8m-43.9 5.7h.8m21.1-3.3h.8m5.1 .8h.8m-19.7 6.3h.8m-12-15.1h.8m19.6 8.6h.8m-12.6 .9h.8m11.4 7.9h.8m-20.4-9.4h.8m4.6-6.5h.8m6.2 1.5h.8m3.9 12.6h.8m-15.2-.1h.8m24.9-3.1h.8m-8.5-12.1h.8m.3 7h.8m-16.9-4.9h.8m9.8 3.8h.8m-8.4-2.2h.8m.6 2.4h.8m11.4 1.1h.8m-15.7 13.4h.8m1.2-12.5h.8m5.5 3.5h.8m-2.1-11.1h.8m6.6 6.5h.8m-18.9 6.4h.8m9.5-12.9h.8m3.7 5.2h.8m5.6 .3h.8m-25.6 1h.8m12.6-1.4h.8m14.1-2.8h.8m-29.6 7.5h.8m11.3-6.3h.8m2.4 12.3h.8m1.6-4h.8m-13.8-5.3h.8m19.8 13.2h.8m-12.2-15.6h.8m11.1-3.4h.8m4.9 8h.8m-25.7-5h.8m-1.2 8.9h.8m.3-13.9h.8m18.8 12.1h.8m-10.7-4.1h.8m-8.8 7.3h.8m-2-11.2h.8m3.1 9.2h.8m2.7-4.7h.8m-5.3 3.2h.8m3.9-2.3h.8m27-4.7h.8m-23.9 6.6h.8m-3.6-.6h.8m-18.1-.3h.8m26.3-10.2h.8m-24.6 6h.8m.2 6.1h.8m17.1-7.7h.8m-12.8 7.7h.8m6.9-3.5h.8m-15.5 12.1h.8m18-6.8h.8m-12.5-9.9h.8m22.2-14.7h.8m-20.8 33.1h.8m7.7-8.2h.8m-24.9-6.2h.8m26.6-4.9h.8m-6.3 15.7h.8m-10.1-10.4h.8m3.4 14.7h.8m25.5-18.6h.8m-15 4.3h.8m-8.6 4.9h.8m-10.1 .9h.8m-1.3-9.8h.8m4.2 .1h.8m14.2-.7h.8m-4.7 5.2h.8m-6.8-1.3h.8m-10.2 1.3h.8m11.4-10.8h.8m-2.2 28.2h.8m2.8-19.8h.8m-23.8 7.1h.8m18.4-15.7h.8m-1.1 14h.8m-10.2-1.8h.8m-7.2-8.1h.8m7.1 15.6h.8m-17.3-9.4h.8m20.6-3.9h.8m-.9-4.9h.8m-15 8.1h.8m11.5-7.5h.8m-2.6 1.3h.8m6.2 6.3h.8m-10.4 10.1h.8m.2-1.3h.8m-20.4-7.4h.8m15.4-9.1h.8m21.9 5.9h.8m-22.9-3.3h.8m16.9 .1h.8m-3.6 5h.8m-.8 3.4h.8m-1.1-5.3h.8m-21.4 24h.8m5.4-29.9h.8m10.6 7.6h.8m-4.8 4.3h.8m-3.1-7.9h.8m9.2 13.5h.8m-14.7-12.5h.8m9.9 13h.8m-4.1-9.3h.8m-21.8-1.1h.8m12.7 1.6h.8m15.8 3.7h.8m10.8-8.2h.8m-26.2-.9h.8m12.1-6.8h.8m9.5 7.4h.8m-17.8-5.9h.8m13.5 20.3h.8m7.4 .6h.8m-19.3-8.6h.8m-15.7-5.2h.8m12.4-.4h.8m-3.8 15.9h.8m4.1-22.5h.8m-11.8 7.7h.8m-3.4 10.4h.8m1.1-16.5h.8m4.3 19h.8m-3.7-18.1h.8m14.5 8.9h.8m-10.3 5.3h.8m-8.6-5.3h.8m9.2 2.7h.8m-11.9-6.6h.8m-11.6 2.5h.8m-4.9 .4h.8m43.7-10.9h.8m-11.2 4.2h.8m-11.2 6.2h.8m-20.8-3h.8m26.9 1h.8m-15-8.5h.8m-15.5 21.3h.8m25.6-14h.8m-13.8 15.6h.8m-10.9-9.7h.8m16-6.8h.8m-13.9 16.2h.8m-3-10.6h.8m-4.2-2.5h.8m12.7 16.6h.8m-10.5-6.4h.8m21.6-15.1h.8m-11.8 19.3h.8m17.5-12.3h.8m-27.6 10.6h.8m14-2.3h.8m-6.9-3.5h.8m-7.3-9.8h.8m-4.3 1.1h.8m19.3 9.5h.8m3.3-4.5h.8m-5.1-5.9h.8m10.5 3.2h.8m-8.6-1.8h.8m-9.5-3.2h.8m-8.8 8.3h.8m18.5-7.7h.8m-25.5-5.6h.8m18.3 8.1h.8m-8-.2h.8m-1.4 16.2h.8m-6.5-11.6h.8m-.7 1.1h.8m7.2 5.3h.8m12.4-3h.8m-8.9-11.5h.8m14.8 9.5h.8m-43.2-2h.8m12.1-.9h.8m24.3-7.6h.8m-31.9 12.2h.8m-19.1-3.6h.8m41 1.2h.8m-34.6-2.6h.8m20.2-2.2h.8m-3.3 .1h.8m13.5 1.5h.8m-15.8-.6h.8m8.6-4.8h.8m-8-2.3h.8m11.7 9.6h.8m-5.8-3.4h.8m-6.9-1.8h.8m-3.9 2.9h.8m-4 5.3h.8m6-.5h.8m1.8-4.9h.8m7.3 4.2h.8m-15.1-.8h.8m13-9.7h.8m-11.2 9.2h.8m2.2-2.5h.8m12.7 8.5h.8m-15-8.6h.8m-3.6 9h.8m22.4-7.2h.8m-10.7-1.9h.8m5.8 3.6h.8m-17.6 5.2h.8m3.4-4.9h.8m-4.8-.9h.8m2.3-.4h.8m7-9.8h.8m-28.9 4.8h.8m31.5 5h.8m-33.1 9.1h.8m13.7-14.4h.8m-2.7-4.5h.8m5.6 8.8h.8m3.6 6.9h.8m-12.8-6.9h.8m-10.7 .6h.8m23 2.6h.8m-14.8-4.2h.8m-8.2 7.7h.8m8.8-5.4h.8m2.5-5.5h.8m-9 3.8h.8m8.3 2.5h.8m-1.5-2.7h.8m-8.4-4h.8m6.1 4h.8m-5.2 8.7h.8m4.7-12.8h.8m-7.2 4.7h.8m-2.1 13.8h.8m1.3-9h.8m-17 12.3h.8m16.9-29h.8m-4.2 10.9h.8m-.6-1.5h.8m4.9 2.8h.8m-2.4-4.1h.8m2.6-5.4h.8m-16.2 7.7h.8m18.3 6.2h.8m0-8h.8m2.3-8.9h.8m-23.6 12h.8m7.6 8.7h.8m-6.8-10.9h.8m16.9 6.7h.8m-17.5-5.8h.8m10.2 2.3h.8m-3.3-7.3h.8m-6.4 2h.8m-13.1 7.7h.8m47.4-11.4h.8m-34 6.9h.8m14.8-5.1h.8m-13.9 7.1h.8m8.2-3h.8m-20.3-6.3h.8m9.1 3.1h.8m10.9 5.1h.8m-13.6-1.4h.8m7.4-6.7h.8m-21.8 5h.8m13.5-1.2h.8m-15.4 .6h.8m5.2-1.8h.8m9.7 14.8h.8m-25.1-19.5h.8m36.2 8.6h.8m-13.7-.3h.8m-7.4 10.8h.8m-8.4-5.3h.8m6.5 2.5h.8m12.8 .2h.8m4.6-9.4h.8m-3.3 3.9h.8m-7 6.5h.8m-6 6.6h.8m14.4-17.7h.8m2.2-4.7h.8m-4.5 13h.8m-22.2-7.3h.8m33.1-5.1h.8m-34.8 11h.8m6.7 .5h.8m-21.4 3.7h.8m37.6-8.3h.8m-9.1 3.9h.8m-20.8-2.6h.8m2.1-1.2h.8m9.4 1.1h.8m.4-6.5h.8m5.3 4.4h.8m-12.7 5.4h.8m3.1-3.3h.8m12.2-7.1h.8m.9 5.2h.8m-13.3 8.5h.8m-6.1-11.2h.8m-4.2-5.9h.8m6.3 14h.8m8.6 5.2h.8m-21.6-12.6h.8m38.3 4h.8m-37.5-6.7h.8m22.8 3.9h.8m-29.4 10.1h.8m1.5 .8h.8m2.3 1.1h.8m-12.6-13.4h.8m26.3 .7h.8m-23.8 10.8h.8m-1.7-8.9h.8m1 10.4h.8m22.5-5.4h.8m-20.4-.3h.8m-11.9 4.7h.8m13.1-11.4h.8m-5.9-6.4h.8m18.9 .6h.8m-2.7 3.6h.8m-11 8.9h.8m4.8 .5h.8m8.8-5.7h.8m-15.9-1.9h.8m18.4 6.3h.8m-16-16.3h.8m-5.8 17.2h.8m4.7-5h.8m-7.3 1.5h.8m12.9 .5h.8m-12.9-4.9h.8m16.5-.1h.8m-24.8 1.4h.8m6.1 7.3h.8m22.1-8.6h.8m-14.8-2.6h.8m-15.4 8.4h.8m16.2 1.8h.8m-1.5-.4h.8m-8.7 1.5h.8m18.5-16.1h.8m-6.5 3h.8m-35.9 15.1h.8m35.1-6.5h.8m-9.3-.7h.8m-20.5 3.2h.8m14.8 5.6h.8m-8-12.1h.8m8.1 17.5h.8m2.8-7.4h.8m-4.5-7.4h.8m-22.6-5.9h.8m16 .1h.8m17.1 2h.8m-20 16.3h.8m15 2h.8m-26.9-11.7h.8m25.2-.3h.8m-34.4 0h.8m12.8-2.7h.8m14.4-7.6h.8m9 7.5h.8m-21.4-.1h.8m7.8 8.7h.8m-5.4-17.4h.8m4.2-.3h.8m-2.7 3.8h.8m7.6 9.7h.8m-13.5 2.5h.8m-3.1-8h.8m-20.1 8.5h.8m22.3-9.1h.8m-11.9 .5h.8m-3.4 8.4h.8m8.5-8.6h.8m-5.6 12.2h.8m-3.3-19.2h.8m3.4 5.3h.8m25.1 5.3h.8m3.3-2.1h.8m-23 5.2h.8m7-1.5h.8m-3.5 8.4h.8m-21.4-1.4h.8m1.5 6.7h.8m-2-17.2h.8m14.5 3.4h.8m-5.4-10.5h.8m15.2 7h.8m2.9 2.2h.8m-17.5 3.2h.8m8.4-2.5h.8m-13.6 .1h.8m-2-4.2h.8m15.7-4.5h.8m-16.4 8.9h.8m-10.2 1.2h.8m15 1.2h.8m3.2-1.5h.8m-2.9-12.2h.8m.2 8.4h.8m-27.2 2.4h.8m11.1 8.7h.8m-12.3-2.5h.8m22.3-6.8h.8m-18.7 2.8h.8m9.4-1.7h.8m10.9-4.4h.8m-15.5 .6h.8m4.3-2.1h.8m-2.1 9h.8m1.8 1.2h.8m12.6 8.6h.8m-18.8-17.4h.8m19.8-4.6h.8m-3.5 9.7h.8m-14.8-11h.8m3 17.4h.8m-17.8-12h.8m20.2-1.4h.8m-5.9 7.2h.8m-10.5 13h.8m15.9-4.4h.8m2.8-9.3h.8m-13.9-3.6h.8m11.3-15h.8m2.5 20.3h.8m11.9-4.7h.8m-24.3-3h.8m7.2 5.8h.8m-17.4 13.2h.8m9.4-20.5h.8m3.4 9.3h.8m11-2h.8m-32.9-4.3h.8m23.1 3.7h.8m-16-.2h.8m-4.4-6.1h.8m9.7 7.5h.8m15.8-8.8h.8m-21.8 6.8h.8m6.8 4.7h.8m-24.1 3.8h.8m23.7-9.6h.8m-29.3-8.3h.8m26.6-3.9h.8m-1.6 14h.8m.6 .2h.8m.8 1.9h.8m-1.5-7.8h.8m2 3.3h.8m-18.8 10.2h.8m14.9-15.5h.8m1.6 10.9h.8m-4.4-7h.8m2.9 6.7h.8m-.9-1.5h.8m7.7-4.5h.8m-15.5-3.3h.8m-13.3 5h.8m-3.1 3.8h.8m5 10.4h.8m11.1-9.2h.8m-15.4-10h.8m7.1 1.8h.8m-3.7 7.2h.8m3.5 3.4h.8m-12.1-5.9h.8m12-7.4h.8m1.7-17.2h.8m3.7 34.1h.8m-6.9-5.7h.8m-22.7-11.7h.8m20.4 21.4h.8m3.4-8.3h.8m-11-7.3h.8m2.8 7.3h.8m13.1-.5h.8m-11.5 5.4h.8m-7.2-13.6h.8m9-2.8h.8m-12.6 10.9h.8m11-4.6h.8m4.4-3.1h.8m-19 11.8h.8m5.1-10.9h.8m-3 .1h.8m.5-6.7h.8m-10.5 5h.8m10.7 3.5h.8m-12.9-8.7h.8m8.5 8.7h.8m3.2-5.6h.8m6.5 1.7h.8m-2.4 5.1h.8m-12.6-7.7h.8m4.3-.5h.8m-5.9 5.3h.8m9.9-.3h.8m9 7.7h.8m-1.5-9.6h.8m-17.9 9.3h.8m23.4-5.8h.8m-48.5 2.1h.8m31.2-2h.8m-11.9 1.4h.8m-2.7-5.5h.8m-8.7 11.1h.8m-5.4-.1h.8m17.7-5.1h.8m-5-3.4h.8m16.7-4.9h.8m-9.3 7.2h.8m-8.4 .8h.8m-14.1 8h.8m11.6-6.7h.8m23.8-6.6h.8m-22.1-1.8h.8m-9.3 17.9h.8m21.8-10.1h.8m-2.5-3.3h.8m-18 10.8h.8m11.8-5.5h.8m-5.6-3.1h.8m-5.7-8h.8m1.7 1.1h.8m-4.4-.8h.8m7.6-10.4h.8m3.2 26h.8m-25.7-15h.8m19.5 5.6h.8m6.7-5.7h.8m-17.9 12.3h.8m-10.3 4.3h.8m-9 .3h.8m10.7-8.5h.8m5.8 .8h.8m-20.5-11.8h.8m29.1 13.5h.8m11.3-8.6h.8m-20.8-1.3h.8m12.4-6h.8m-20 7h.8m-2.1 12.4h.8m11.3-10.6h.8m9.7-8.3h.8m-10.3 14.9h.8m4.5-12h.8m4.3 15.3h.8m-12.5-17.8h.8m13.3 11.5h.8m-20.7 .8h.8m4.8-2.6h.8m-14.8-9.4h.8m4.3 9.1h.8m2.7 13.7h.8m5.3-3.9h.8m-6.2-11.3h.8m1.1-1.2h.8m-6.5 2.6h.8m11.5 4.8h.8m-9.3 6.6h.8m26-9.4h.8m-19.7 6.8h.8m-4.5-9h.8m-7.9-.3h.8m12.2 2.6h.8m-12.6 1.8h.8m-16.3 4.2h.8m11.2-5h.8m19.3-15.5h.8m-5.4 15.3h.8m-3.4-.2h.8m.3-7.2h.8m-7 9.3h.8m6.5-7.9h.8m-7.2 15.1h.8m-5.9-8h.8m-3.7-1.1h.8m4.2-2.5h.8m-3.2-.5h.8m6.2 14.3h.8m5.2-21.4h.8m10.5 8.8h.8m-16.4-2.9h.8m-19.1-.8h.8m-3.3 20.6h.8m26.6-16h.8m-13.3-.2h.8m5.8-10.5h.8m3 4.8h.8m-8.6 14.2h.8m-1.1-13.7h.8m-7.1 8.2h.8m17.3-15.3h.8m9.2 12.7h.8m-6.3 .1h.8m-32.2-13.2h.8m7.9 16.5h.8m-3.3-.5h.8m-2.3-9.3h.8m18-3.3h.8m-21.3 7h.8m-9.4 8.7h.8m6.9-22.2h.8m29.2 1.9h.8m-25.8 11.8h.8m13.5-1.9h.8m-15.5 2.7h.8m-4.7 3.4h.8m18.9-10.9h.8m-6.9 5.8h.8m-11.8 2.8h.8m13.3 6.9h.8m-22-12h.8m9.9-2.9h.8m11.7 16.7h.8m-14.1-14.2h.8m16.7-4.7h.8m-7.7-2.5h.8m4.8 4.7h.8m-17.9-6.8h.8m4.4 11h.8m2 6.8h.8m9.7-8.5h.8m.3 2.7h.8m10.8-5h.8m-21.3 5.4h.8m-22.7-1.5h.8m25-5.4h.8m-6.3 9.3h.8m-12.2-.5h.8m8.7-2.5h.8m-3.9 7.9h.8m5.8-1.1h.8m2-10.2h.8m-14.4 2.4h.8m15.7-1.3h.8m-5.8 8.9h.8m-10.1-9.7h.8m15.3-17.1h.8m2.9 11.6h.8m-4.5 8.3h.8m-14.2 5.9h.8m8.3-2h.8m6.9-19.7h.8m-15.1 20.5h.8m-22.7-8.8h.8m34.8-4.7h.8m-11.1 3.8h.8m11.9 .9h.8m-26 2.9h.8m-20.7 8.3h.8m48.8-5.5h.8m-36.3 13.2h.8m-.1-17.1h.8m29.9 3.9h.8m-38.7 3.5h.8m27.4 .4h.8m-7-4.9h.8m-5.2 11h.8m4.9-12.8h.8m-4.5 0h.8m4.4 4.2h.8m-24.2-.7h.8m-11.3-1.4h.8m35.5 1.2h.8m3.7-8.1h.8m-18 7.3h.8m7.7-9.3h.8m-3.8 18.9h.8m8.9-16.2h.8m-24.8 13.4h.8m17.6-3.7h.8m-13.6-5.8h.8m23.2 .4h.8m-22.1 3.1h.8m-10.4-9.6h.8m-6.5 6.8h.8m31.1 1.6h.8m-26.2 1.2h.8m15.6 6.4h.8m-5.2-7.8h.8m-.4 3.2h.8m5.5-3.6h.8m-26.5 12.5h.8m20.5-7.9h.8m-4.7-7.7h.8m12.3 2.6h.8m-8.9 7.9h.8m5.8-4.2h.8m5 11.9h.8m-2.6-20h.8m-21.2-.7h.8m6 2.7h.8m3.6-14.4h.8m-9.8 12.5h.8m16.2 15h.8m-3-6.3h.8m-12.9 10.1h.8m2.6-14.2h.8m4.9 2.5h.8m6.4-2.2h.8m-16.1 8.9h.8m5.9-10.7h.8m-9.3-4h.8m-14.6 6.1h.8m26.2 7.3h.8m1.5-11.3h.8m-49.6 24.2h.8m33.4-16.9h.8m2.1-4.9h.8m23.5-5.4h.8m-36 9.6h.8m23.4-3h.8m-23.9-1.1h.8m22.6 13.1h.8m5.6-3.6h.8m-32.5 10h.8m5.1-19.8h.8m-2.1 16.3h.8m1.8-12.9h.8m8.8 5.2h.8m2.9-17.4h.8m2 9h.8m1.8 5.2h.8m-20.6 3h.8m18.9 5.4h.8m-18.1-11.6h.8m30.1-13h.8m-23.6 14.3h.8m-4.4-2.2h.8m-10.7-1.1h.8m.2-2.4h.8m15.6-1.5h.8m9.5 2.7h.8m-20.3 .7h.8m13.1 13.6h.8m7.6-10.7h.8m-12.9 13.8h.8m-22.5-12.4h.8m37.8-10.2h.8m-22.3-.6h.8m-12.8 6.6h.8m-4.9 3h.8m10.5 2h.8m6.1 1.6h.8m-.1-1.7h.8m-5.4-10.3h.8m-2.9-1.6h.8m7.9 9.1h.8m-4 17.7h.8m-13-10.1h.8m25.1 .5h.8m-31.6-4.2h.8m-.5 .9h.8m26.5-8.6h.8m-13.9 5.8h.8m3.7-8.5h.8m-13.2 4.8h.8m-.7-1.4h.8m28.4 4.7h.8m-17.6 3.8h.8m-18-1.7h.8m7.4 8.1h.8m7.3-16.1h.8m-3.6-1h.8m11.8 6.9h.8m-8.1-4.6h.8m22 6h.8m-48.2 7.7h.8m24.8-11.5h.8m-15.5 .6h.8m21.8-1.6h.8m-5.1 3.4h.8m-21.2-3.6h.8m11.7-3h.8m-8.3 6.4h.8m2.9-5.4h.8m.9 1.6h.8m19.6-13.1h.8m-15.7 5.3h.8m-6 11.8h.8m-14.8-5.7h.8m16 11.6h.8m-21.5-9.4h.8m24.5-2.1h.8m-18.5 1.8h.8m2.1 7.2h.8m17.1-4.7h.8m-20.8 8.1h.8m31.6-47.9h.8m9.3-.7h.8m-8.3 4.2h.8m10-4h.8m12.1 1.7h.8m-13.1 7h.8m-1.5-3.9h.8m3.9 1.1h.8m-24.4 2.4h.8m17.8-5.9h.8m10.9 2.6h.8m3.7-5.3h.8m-17.1-.6h.8m-8.3-.1h.8m8.8-.9h.8m-12.2 4.4h.8m22.4 7h.8m-9.4-10.9h.8m-4.1 .9h.8m1.1 6.4h.8m-20.5 2.6h.8m15.3-6.8h.8m-.8 9.2h.8m12-.6h.8m-24.4-2.5h.8m.5-5.6h.8m13.4-5.1h.8m-10.9 7.8h.8m-1.8-3.1h.8m5.4 2.1h.8m0 2.5h.8m-7.8-.4h.8m-4.1 0h.8m-.4-.1h.8m22.1-8.1h.8m-17 3.2h.8m3.1-.1h.8m13.5-2.6h.8m-33.9 12.2h.8m13.4-6.1h.8m-5.4-.8h.8m-5.2-.4h.8m9.3-.5h.8m-11.2 1.8h.8m26.8-6.6h.8m-13.8 4.3h.8m-12.4 10.1h.8m3.8-9.2h.8m6.5 .4h.8m1.9-3h.8m2.3-.7h.8m-9.7 3.2h.8m9.7-.3h.8m-25.8 4.1h.8m-7.6 8.3h.8m18-11.9h.8m4.3-3.2h.8m-6.3 4h.8m5 .1h.8m9-3.9h.8m-15.9 1.8h.8m-4-1h.8m-9.9 6.3h.8m28.9-1.1h.8m-21.9-2.1h.8m17-3.9h.8m-8.3 5h.8m.9-6.2h.8m-10.5 4.1h.8m23.9-1.2h.8m-35.9 7.2h.8m-7.9-4.1h.8m21.7 1.4h.8m-23.4-.5h.8m13.4 .2h.8m1.8-1.2h.8m20.3-8.5h.8m-13.8 2.9h.8m3.7 6.6h.8m-1.6-4.4h.8m-8.6 9.5h.8m-8.5-10.5h.8m13.8 .7h.8m-11.3 9h.8m-7.8-11.6h.8m6.5 10.6h.8m5.7-5.9h.8m7.1-5.4h.8m-18 4.9h.8m7.8-3.7h.8m14.8 7.5h.8m-12.5-2.4h.8m5.5-4.4h.8m-16.8 6.2h.8m5.9-6h.8m1-3h.8m5.3 4.5h.8m-27.7 3.1h.8m37.9-.7h.8m-25.4 4.4h.8m10.5-5.2h.8m-13.4-5.6h.8m-2.3 17.1h.8m6-9.8h.8m8.5-2.5h.8m-17.1 4.6h.8m-1.1-3.4h.8m-2.4-.8h.8m-3.2 2.2h.8m18.5-1.5h.8m-4.9 .2h.8m-18 .5h.8m4.8-.8h.8m14.2 4.6h.8m-7.7-6.5h.8m-15.1 4.8h.8m9.4 5.4h.8m6.9-11.3h.8m-14.3 6.7h.8m-3.6 8.3h.8m35.2-23h.8m-40.7 15.7h.8m24-4.1h.8m-10.1-1.3h.8m-6.1 4.3h.8m7.4-4.8h.8m-5.5-1.8h.8m-21.4-.6h.8m9.4 5.1h.8m8.5-6.3h.8m.1 9.5h.8m6.9-7.4h.8m6.5-1.1h.8m-21.8 7.7h.8m9-.8h.8m-6.7-4.1h.8m-1.4 2.7h.8m28-8.3h.8m-21.6 7.1h.8m-1.7-.8h.8m-.5-5.1h.8m-19.8 8.1h.8m14.8 2.9h.8m7.6-6.1h.8m-14.7 5h.8m8.7-2.5h.8m-3.4-.3h.8m3.5-5h.8m-12.7 2h.8m-3.8 5.8h.8m11.5-4.4h.8m-5.4 1.2h.8m-10.9 10.5h.8m-3.2-14.6h.8m26.1 2.4h.8m-20.9 .1h.8m-.2 0h.8m3.5 1.3h.8m-6.3-2.7h.8m12.8 6h.8m-6.7-5.5h.8m-7.2-1.8h.8m-8.6 7.5h.8m26.1-5.7h.8m-22.7 .3h.8m5.3 6.2h.8m5.3-3.2h.8m-3.7 .2h.8m2-4.1h.8m-1.8 .7h.8m-2.2-3.3h.8m3.6 3.8h.8m-7.5 .2h.8m7.7 6.9h.8m5.7-6.9h.8m-16.4 1.8h.8m19.2-6.2h.8m-12.4 4.9h.8m4-3h.8m-15.5 1.6h.8m-.1 5h.8m-.8-.3h.8m-4.4 2.7h.8m3-5.4h.8m21.8-8.8h.8m-10.8 3.6h.8m-9.6 5.8h.8m1.1-1.8h.8m-3.8-3.3h.8m-6 6.1h.8m-5.7-4.3h.8m18.6-1.2h.8m-7 1.7h.8m2.1-4.8h.8m-6.2 9h.8m5.8 1.8h.8m-6.5-3.8h.8m-25.5-1.6h.8m26.3 1.6h.8m2.7-2.1h.8m14 .3h.8m-25.1 0h.8m-13.6 4.8h.8m23.5-8.9h.8m8.2 2h.8m-17.4 8.5h.8m2.1 .2h.8m2.4-9.7h.8m-15.9 1h.8m12.4-3.3h.8m4.6 5.8h.8m-25.4 1.9h.8m26-1.7h.8m-28.8-4.9h.8m32.7 7.1h.8m-21.6 3.6h.8m-2.1-3.7h.8m7.7 8.1h.8m-14.5-6.8h.8m-2.3-.4h.8m9.8-2.9h.8m-19.6 .4h.8m22.6-1.5h.8m-17.4-.1h.8m17.1 3.4h.8m-19.2 2.1h.8m-4.9-1.9h.8m7.4 4.5h.8m16.2-7.3h.8m2.3 .4h.8m-20 2.9h.8m2.5-5.5h.8m21.1 5.2h.8m-27.4-1h.8m3.7-3.2h.8m4.9 2.7h.8m-3 5h.8m-11.1-9.7h.8m28.4 .6h.8m-4.7 3.6h.8m-15.4 1.2h.8m-2.3-2.2h.8m6.5-2.1h.8m-8 5.1h.8m15.6-8.4h.8m-20.7 9.9h.8m-.9-1.2h.8m12.1-12.9h.8m-18.5 14.2h.8m15.4-2.7h.8m-13.2-5.1h.8m19.6 3h.8m-11.3 2.2h.8m8.2-.9h.8m-6-2.1h.8m-12.1-2.8h.8m-1.5 8.8h.8m7.2-5.6h.8m-9 3.6h.8m11.1-1.8h.8m-28.9 6.7h.8m-.2-3.4h.8m28.1-6h.8m9.6 4.3h.8m-12.6-5h.8m-14.8 1.8h.8m15.8-3.7h.8m-32.9 7.4h.8m16.7-2.8h.8m2.5 8h.8m-15.5-2.9h.8m30.1-.5h.8m-23.7-.8h.8m18.6-5.3h.8m-4.1 2.4h.8m-22.3 3.7h.8m1.6-5.3h.8m19.7 7.1h.8m-21.3-8.4h.8m9.8-1.1h.8m17.6 2.6h.8m-20.4 5h.8m21.3-4.7h.8m-39.8 6h.8m15.6-.7h.8m-13.1 .7h.8m6.6-7.8h.8m-29.5 17.6h.8m26.5-16.6h.8m15.5-1.7h.8m-18.7 3.3h.8m-2.1 3.3h.8m20.6 .9h.8m-17.2 1.3h.8m3.2-7h.8m1.4-6.2h.8m-7.3 2.6h.8m-1.5 7.7h.8m1.4 .2h.8m-8-6.5h.8m23.3 1.4h.8m.5-1.6h.8m-13.1 5.5h.8m1.7 6h.8m-21.6-5.2h.8m25.5-1h.8m-4.4-1.7h.8m-1.7 2.8h.8m-3.2-3.2h.8m-10 2.1h.8m16.4-2.5h.8m-6.8 3.8h.8m1.2-2.8h.8m-11.5 2.1h.8m-2.1-6.4h.8m2.1 11.2h.8m-.8-5.9h.8m9.1-.4h.8m-16.9-7.8h.8m23.8 1.2h.8m-1.6 6h.8m-19.6 2h.8m3.1-3.8h.8m13.9 1.7h.8m-20.6-1.5h.8m-4.9 6.4h.8m13.5-10h.8m17.6 3.9h.8m-27.3-4.5h.8m-2.9 6.4h.8m4.1-.5h.8m-6.9 .6h.8m4.8 3.3h.8m-12.5 6.5h.8m-16-15.6h.8m26.2 3.9h.8m-6.1-3.8h.8m2 6.4h.8m9.4-5.5h.8m-25.5 5.4h.8m7.3 1h.8m-1.3-1.1h.8m2.7-1h.8m3.8 6.8h.8m-4.4-6.5h.8m7.1 .6h.8m11.1-1h.8m-4-6.7h.8m.9 9.5h.8m-14.1-7.5h.8m-8.2 4.3h.8m22.2-3.8h.8m-.2-1.7h.8m1.2-.9h.8m-11.3 2.6h.8m-12.1-.5h.8m1.9 6.8h.8m-9.4-3.6h.8m-1.6 1.4h.8m-.5-1h.8m30.4 1.6h.8m-12.3-1.2h.8m-13.5 3.2h.8m-6.6-6.5h.8m11.8-3.5h.8m-6 6.2h.8m-.2 1.9h.8m15.3-2.9h.8m-23.2 0h.8m1.2-3h.8m-8.6 5.3h.8m24.2 1.6h.8m-4.4-1.8h.8m-20.7 .7h.8m22.4 3.4h.8m-16-3.2h.8m10.4 2.5h.8m-5-12.1h.8m-7.1 7.7h.8m27.1 4.1h.8m-40 2.4h.8m11-4.5h.8m5.8 4.3h.8m10.1-4.8h.8m-17.1 4.5h.8m-4-.3h.8m6.1-8.3h.8m-3.3-.1h.8m-4.3 4.6h.8m-4.1-.4h.8m4.7 5.6h.8m-13.7-5.8h.8m33-5.3h.8m-23.2 5.3h.8m.4-3.2h.8m7.1 3.9h.8m-8.8-1h.8m7.5 .6h.8m2 4.1h.8m-7.5-3.1h.8m1.5-2.6h.8m-12.1 1.9h.8m-7 8.3h.8m13.4-14.3h.8m4.9 5.1h.8m.1 1.5h.8m-10-1.9h.8m3.1-4.9h.8m-6.6 8.9h.8m4.7-7.2h.8m-4.6 6.4h.8m18.7-5.1h.8m-16.2 .3h.8m-13.2 5.2h.8m10.1-3.4h.8m11.1 .1h.8m-3.7-4h.8m-18.8 6.3h.8m14.9 4h.8m-26.8-1.7h.8m5.8-8.5h.8m-2 1.4h.8m26.1 4.9h.8m-4.8-7.1h.8m-14.6 3.9h.8m6.4-4.4h.8m2.6 9.1h.8m-4.2-3.3h.8m-7.1-.1h.8m8.2-3.7h.8m-5.2-.9h.8m-1 4h.8m-11.4 10h.8m5.6-4.2h.8m-4.1 4h.8m-15.6-5.3h.8m6.1 3.7h.8m7.2-6.6h.8m10.2-4.4h.8m-4.1-3h.8m-6.4 11h.8m-8-3.6h.8m13.3-1.1h.8m-9.1-5.8h.8m-2 4.7h.8m8.4-.3h.8m-3.9 3.7h.8m-3.6-.3h.8m12.7-7h.8m5.7 .4h.8m-10.8 6.9h.8m-10.1 3.1h.8m.9 .3h.8m4.1-8.9h.8m-9 8.9h.8m-12.6-13h.8m18.2 2.5h.8m-.4 .4h.8m-10.7 6.9h.8m-1.1-4.2h.8m12-1h.8m-.6 5.1h.8m-5.9-6.7h.8m-4.8 8h.8m16.6-.9h.8m-7.3-5.2h.8m-10.8 2.1h.8m.2 2.2h.8m-4.4-2h.8m10.7 .1h.8m-10.7-3h.8m15.8 1.9h.8m-6.6-.5h.8m-4.9-.6h.8m-2.4 2.1h.8m10.5 1.1h.8m-18.7 1.8h.8m-1.2-3.3h.8m-10.1 5.6h.8m8.6-3.3h.8m12-1.8h.8m-16 1.6h.8m-8.5-3.8h.8m25-.7h.8m4.8 4.8h.8m-25.2 .7h.8m-9.5-.6h.8m-3.7-.5h.8m15.6-3.1h.8m-2.1 6h.8m-5.4 3.7h.8m6-4.8h.8m8-6.3h.8m-16.7 2.9h.8m15.9 3.8h.8m8.4-4.9h.8m-10.6-3h.8m-9.6 3.2h.8m13.9-2.8h.8m-22.1 11h.8m3-2.8h.8m5.5-16.8h.8m-4.7 9.5h.8m15.4 4h.8m-12.1 .2h.8m-.9-2.7h.8m-4-3.4h.8m18-1.7h.8m-16.1 8h.8m-14.1 1h.8m8.8 5.5h.8m-18.2-4.5h.8m13.1 .6h.8m16.7-6.7h.8m-9.1 5.6h.8m-2.9-5.8h.8m-17.8 8.4h.8m4.1-.7h.8m5.8-1.9h.8m9.8-5.1h.8m-.6 .7h.8m-16.5 .7h.8m13.7-4.6h.8m-26.1 9.7h.8m23.7-6.3h.8m2.5-2.1h.8m-15.6-1.7h.8m11 .8h.8m2.4 1.5h.8m-11.4-3.4h.8m-1.2 5.4h.8m1.6 5h.8m-1.9-3.2h.8m-18.9 3.2h.8m16.2-9.3h.8m0 2.5h.8m-1.5-.2h.8m8.2 3.4h.8m.9-9.5h.8m-8.6 6.5h.8m-.6-1.8h.8m-15 10.6h.8m12-1.7h.8m1.3-2h.8m.8-3.5h.8m-14 5.4h.8m9.2-2.4h.8m.7-1.4h.8m-.1-1.7h.8m-17.1 5.9h.8m18-29.7h.8m6.4 7h.8m-83 87.5h.8m54-74.4h.8m-19.3 14.8h.8m-6.3-4.4h.8m10.6 59.2h.8m-51.1-77.8h.8m17.1 46h.8m38.4-45.2h.8m-5-.9h.8m-57.5 7h.8m-1.7 36.8h.8m41.6-11.8h.8m-32.9-12.8h.8m58.1 16.7h.8m-7.8-9.4h.8m-43.4 7.4h.8m.2 5h.8m54.9 22.8h.8m7.2-46.9h.8m-39.3 13.9h.8m52.2 44.8h.8m-20.3-53.7h.8m-12.8 56h.8m-68.8-63.5h.8m25.6-24.9h.8m-25.7 106.5h.8m61.6-18.8h.8m20.9-84.2h.8m-88.7 5.7h.8m78.1 5.3h.8m-83.1 33.5h.8m40 25.4h.8m37.4-10.7h.8m-67.3 20.5h.8m46.9 16.7h.8m-41.7-39.8h.8m46.6-49.2h.8m-2.2 15.8h.8m-24.8 34.2h.8m15.1-15.9h.8m30.5 58.1h.8m-83.1 4.2h.8m30-86.3h.8m60.1 87h.8m-72.1-.4h.8m22.3-62.5h.8m18.4 18.7h.8m-35.9-9.8h.8m29.3-53.7h.8m15.6 19h.8m-23.9 17.3h.8m1.3 41.9h.8m51.2 24.8h.8m-44.8 3.4h.8m-29.8-106.8h.8m35.2 19.7h.8m-70.5 51.7h.8m84 .3h.8"/>
<line x1="568.6" y1="644" x2="610.6" y2="644" stroke="#f55" stroke-width="0.8" />
<line x1="640.4" y1="531.2" x2="640.4" y2="644.5" stroke="#222" stroke-width="1" />
<line x1="565.6" y1="576.3" x2="683.6" y2="576.3" stroke="#222" stroke-width="1" />
<line x1="565.6" y1="531.2" x2="565.6" y2="644.5" stroke="#555" stroke-width="0.9" />
<line x1="565.6" y1="644.5" x2="683.6" y2="644.5" stroke="#555" stroke-width="0.9" />
<path stroke="#555" stroke-width="0.6" fill="none" d="M562.8 641.5h2.8M564.2 635.44h1.4M564.2 631.8h1.4M564.2 629.38h1.4M564.2 627.36h1.4M564.2 625.74h1.4M564.2 624.33h1.4M564.2 623.32h1.4M564.2 622.31h1.4M562.8 621.3h2.8M564.2 615.24h1.4M564.2 611.6h1.4M564.2 609.18h1.4M564.2 607.16h1.4M564.2 605.54h1.4M564.2 604.13h1.4M564.2 603.12h1.4M564.2 602.11h1.4M562.8 601.1h2.8M564.2 595.04h1.4M564.2 591.4h1.4M564.2 588.98h1.4M564.2 586.96h1.4M564.2 585.34h1.4M564.2 583.93h1.4M564.2 582.92h1.4M564.2 581.91h1.4M562.8 580.9h2.8M564.2 574.84h1.4M564.2 571.2h1.4M564.2 568.78h1.4M564.2 566.76h1.4M564.2 565.14h1.4M564.2 563.73h1.4M564.2 562.72h1.4M564.2 561.71h1.4M562.8 560.7h2.8M564.2 554.64h1.4M564.2 551h1.4M564.2 548.58h1.4M564.2 546.56h1.4M564.2 544.94h1.4M564.2 543.53h1.4M564.2 542.52h1.4M564.2 541.51h1.4M562.8 540.5h2.8M564.2 534.44h1.4M569.6 644.5v2.8M576.29 644.5v1.4M580.3 644.5v1.4M582.98 644.5v1.4M585.21 644.5v1.4M586.99 644.5v1.4M588.56 644.5v1.4M589.67 644.5v1.4M590.78 644.5v1.4M591.9 644.5v2.8M598.59 644.5v1.4M602.6 644.5v1.4M605.28 644.5v1.4M607.51 644.5v1.4M609.29 644.5v1.4M610.86 644.5v1.4M611.97 644.5v1.4M613.08 644.5v1.4M614.2 644.5v2.8M620.89 644.5v1.4M624.9 644.5v1.4M627.58 644.5v1.4M629.81 644.5v1.4M631.59 644.5v1.4M633.16 644.5v1.4M634.27 644.5v1.4M635.38 644.5v1.4M636.5 644.5v2.8M643.19 644.5v1.4M647.2 644.5v1.4M649.88 644.5v1.4M652.11 644.5v1.4M653.89 644.5v1.4M655.46 644.5v1.4M656.57 644.5v1.4M657.68 644.5v1.4M658.8 644.5v2.8M665.49 644.5v1.4M669.5 644.5v1.4M672.18 644.5v1.4M674.41 644.5v1.4M676.19 644.5v1.4M677.76 644.5v1.4M678.87 644.5v1.4M679.99 644.5v1.4M681.1 644.5v2.8"/>
<text x="567.9" y="541.4" font-size="5.6" font-weight="normal" fill="#222">Q1</text>
<text x="567.9" y="549.2" font-size="5.6" font-weight="normal" fill="#222">0.36</text>
<text x="675.1" y="541.4" font-size="5.6" text-anchor="end" font-weight="normal" fill="#222">Q2</text>
<text x="675.1" y="549.2" font-size="5.6" text-anchor="end" font-weight="normal" fill="#222">20.6</text>
<text x="567.9" y="630.3" font-size="5.6" font-weight="normal" fill="#222">Q4</text>
<text x="567.9" y="638.4" font-size="5.6" font-weight="normal" fill="#222">77.6</text>
<text x="675.1" y="630.3" font-size="5.6" text-anchor="end" font-weight="normal" fill="#222">Q3</text>
<text x="675.1" y="638.4" font-size="5.6" text-anchor="end" font-weight="normal" fill="#222">1.46</text>
<text x="573.3" y="657" font-size="4.6" text-anchor="middle" font-weight="normal" fill="#555">10</text>
<text x="577" y="653" font-size="4.6" text-anchor="middle" font-weight="normal" fill="#555">2</text>
<text x="595" y="657" font-size="4.6" text-anchor="middle" font-weight="normal" fill="#555">10</text>
<text x="598.7" y="653" font-size="4.6" text-anchor="middle" font-weight="normal" fill="#555">3</text>
<text x="616.7" y="657" font-size="4.6" text-anchor="middle" font-weight="normal" fill="#555">10</text>
<text x="620.4" y="653" font-size="4.6" text-anchor="middle" font-weight="normal" fill="#555">4</text>
<text x="638.4" y="657" font-size="4.6" text-anchor="middle" font-weight="normal" fill="#555">10</text>
<text x="642.1" y="653" font-size="4.6" text-anchor="middle" font-weight="normal" fill="#555">5</text>
<text x="660.1" y="657" font-size="4.6" text-anchor="middle" font-weight="normal" fill="#555">10</text>
<text x="663.8" y="653" font-size="4.6" text-anchor="middle" font-weight="normal" fill="#555">6</text>
<text x="681.8" y="657" font-size="4.6" text-anchor="middle" font-weight="normal" fill="#555">10</text>
<text x="685.5" y="653" font-size="4.6" text-anchor="middle" font-weight="normal" fill="#555">7</text>
<line x1="181" y1="655.5" x2="568" y2="655.5" stroke="#000" stroke-width="1.2" />
<polygon points="576.5,655.5 568,651.7 568,659.3" fill="#000"/>
<line x1="181.5" y1="656" x2="181.5" y2="586" stroke="#000" stroke-width="1.2" />
<polygon points="181.5,580.3 178.8,586.5 184.2,586.5" fill="#000"/>
<text transform="translate(187.4,572.3) rotate(-90)" font-size="13" text-anchor="middle">PI</text>
<text x="576" y="660.8" font-size="13.5" textLength="99.9" lengthAdjust="spacingAndGlyphs">Annexin V-FITC</text>
</svg></body></html>
